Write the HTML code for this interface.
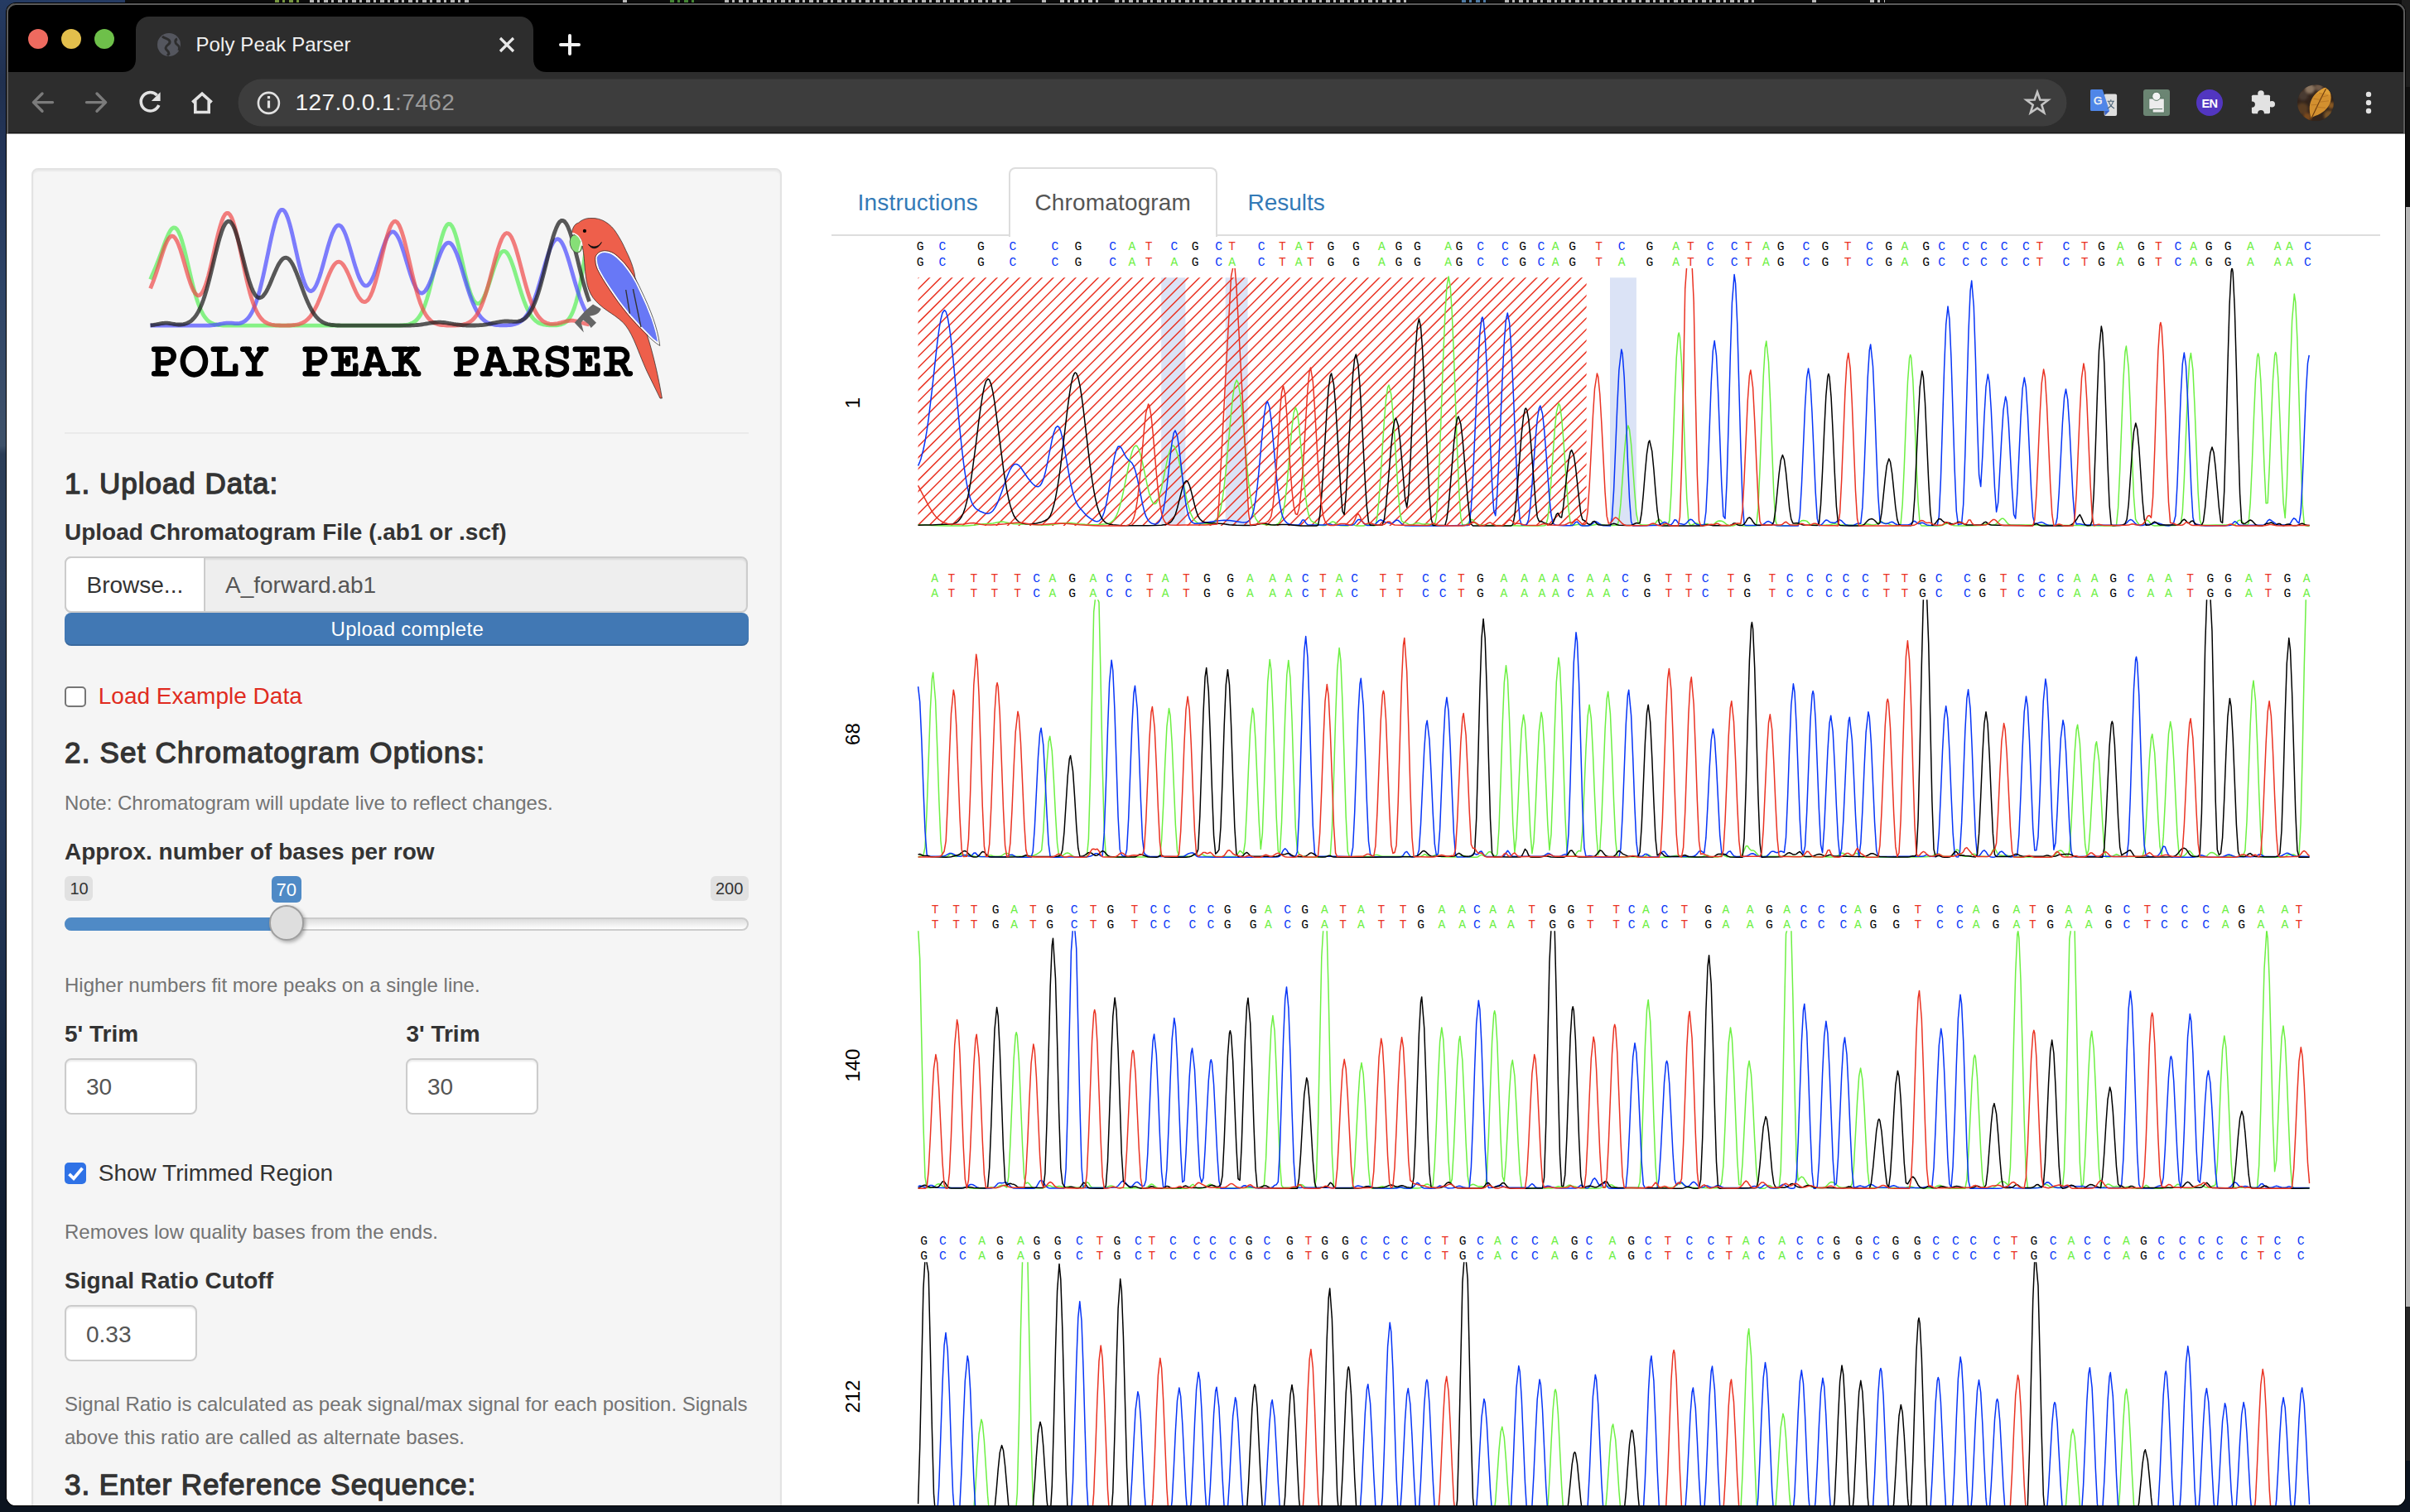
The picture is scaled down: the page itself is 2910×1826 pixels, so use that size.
<!DOCTYPE html>
<html lang="en">
<head>
<meta charset="utf-8">
<title>Poly Peak Parser</title>
<style>
html,body{margin:0;padding:0}
body{width:2910px;height:1826px;overflow:hidden;position:relative;background:#0d1622;font-family:"Liberation Sans",sans-serif;font-size:28px;line-height:40px;color:#333}
div,span{box-sizing:border-box}
.abs{position:absolute}
#desk-l{position:absolute;left:0;top:0;width:160px;height:1826px;background:linear-gradient(to bottom,#253b63 0px,#20304f 100px,#24365a 200px,#2e4466 350px,#3c4f69 500px,#3e5169 538px,#2b3d57 548px,#2d405c 700px,#25395a 1000px,#1c2e4a 1200px,#16263e 1300px,#101c2e 1500px,#0c141f 1826px)}
#desk-t{position:absolute;left:151px;top:0;width:2759px;height:8px;background:#0a0a0a}
#desk-r{position:absolute;left:2900px;top:0;width:10px;height:1826px;background:linear-gradient(to bottom,#1e1e1e 0px,#1e1e1e 105px,#101010 105px,#101010 250px,#b7b7b7 250px,#b7b7b7 1578px,#262626 1578px,#262626 1764px,#0c141f 1764px)}
#desk-b{position:absolute;left:0;top:1810px;width:2910px;height:16px;background:#0c141f}
#win{position:absolute;left:8px;top:4px;width:2896px;height:1814px;border-radius:11px;overflow:hidden;background:#fff;box-shadow:0 0 0 1px #000}
#tabbar{position:absolute;left:0;top:0;width:100%;height:84px;background:#000}
#toolbar{position:absolute;left:0;top:83px;width:100%;height:74px;background:#2d2d2d;border-bottom:1px solid #141414}
#winborder{position:absolute;left:0;top:0;width:2896px;height:157px;border-radius:11px 11px 0 0;border:2px solid #5a5a5a;border-bottom:none;pointer-events:none}
#page{position:absolute;left:0;top:157px;width:2897px;height:1657px;background:#fff;overflow:hidden}
#chroma text{font-family:"Liberation Mono",monospace;font-size:14.6px;text-anchor:middle}
#chroma text.rl{font-family:"Liberation Sans",sans-serif;font-size:24px;fill:#000;text-anchor:middle}

</style>
</head>
<body>
<div id="desk-l"></div><div id="desk-t"></div><div class="abs" style="left:332px;top:0;width:30px;height:3px;background:repeating-linear-gradient(90deg,#8bb04a 0 5px,transparent 5px 9px,#8bb04a 9px 12px,transparent 12px 17px);opacity:.85"></div><div class="abs" style="left:374px;top:0;width:193px;height:3px;background:repeating-linear-gradient(90deg,#d8d8d8 0 5px,transparent 5px 9px,#d8d8d8 9px 12px,transparent 12px 17px);opacity:.85"></div><div class="abs" style="left:752px;top:0;width:8px;height:3px;background:repeating-linear-gradient(90deg,#d8d8d8 0 5px,transparent 5px 9px,#d8d8d8 9px 12px,transparent 12px 17px);opacity:.85"></div><div class="abs" style="left:809px;top:0;width:30px;height:3px;background:repeating-linear-gradient(90deg,#4e9a3c 0 5px,transparent 5px 9px,#4e9a3c 9px 12px,transparent 12px 17px);opacity:.85"></div><div class="abs" style="left:875px;top:0;width:345px;height:3px;background:repeating-linear-gradient(90deg,#d8d8d8 0 5px,transparent 5px 9px,#d8d8d8 9px 12px,transparent 12px 17px);opacity:.85"></div><div class="abs" style="left:1258px;top:0;width:8px;height:3px;background:repeating-linear-gradient(90deg,#d8d8d8 0 5px,transparent 5px 9px,#d8d8d8 9px 12px,transparent 12px 17px);opacity:.85"></div><div class="abs" style="left:1280px;top:0;width:48px;height:3px;background:repeating-linear-gradient(90deg,#e8e8e8 0 5px,transparent 5px 9px,#e8e8e8 9px 12px,transparent 12px 17px);opacity:.85"></div><div class="abs" style="left:1346px;top:0;width:356px;height:3px;background:repeating-linear-gradient(90deg,#d8d8d8 0 5px,transparent 5px 9px,#d8d8d8 9px 12px,transparent 12px 17px);opacity:.85"></div><div class="abs" style="left:1765px;top:0;width:34px;height:3px;background:repeating-linear-gradient(90deg,#5b8fc0 0 5px,transparent 5px 9px,#5b8fc0 9px 12px,transparent 12px 17px);opacity:.85"></div><div class="abs" style="left:1817px;top:0;width:302px;height:3px;background:repeating-linear-gradient(90deg,#d8d8d8 0 5px,transparent 5px 9px,#d8d8d8 9px 12px,transparent 12px 17px);opacity:.85"></div><div class="abs" style="left:2188px;top:0;width:8px;height:3px;background:repeating-linear-gradient(90deg,#d8d8d8 0 5px,transparent 5px 9px,#d8d8d8 9px 12px,transparent 12px 17px);opacity:.85"></div><div class="abs" style="left:2258px;top:0;width:18px;height:3px;background:repeating-linear-gradient(90deg,#e0e0e0 0 5px,transparent 5px 9px,#e0e0e0 9px 12px,transparent 12px 17px);opacity:.85"></div><div id="desk-r"></div><div id="desk-b"></div>

<div id="win">

<div id="tabbar"></div>
<div id="toolbar"></div>
<!-- active tab -->
<svg class="abs" style="left:0;top:0" width="2897" height="160" viewBox="8 4 2897 160">
  <!-- tab shape: x 164..644, top 20, bottom 87 -->
  <path d="M148 87 C158 87 164 81 164 71 L164 36 C164 27 171 20 180 20 L628 20 C637 20 644 27 644 36 L644 71 C644 81 650 87 660 87 Z" fill="#2d2d2d"/>
  <!-- traffic lights -->
  <circle cx="46" cy="47" r="12" fill="#ee6a5f"/>
  <circle cx="86" cy="47" r="12" fill="#e3bf4c"/>
  <circle cx="126" cy="47" r="12" fill="#6ec04a"/>
  <!-- globe favicon -->
  <circle cx="204" cy="54" r="14" fill="#54565e"/>
  <path d="M196 44 c3 3 8 2 9 6 c1 4 -5 4 -5 8 c0 3 4 3 4 7 l-2 2 M214 47 c-3 1 -3 5 0 7 c2 1 3 4 2 7" stroke="#2d2d2d" stroke-width="3" fill="none"/>
  <!-- close x -->
  <path d="M604 46 L620 62 M620 46 L604 62" stroke="#e8e8e8" stroke-width="3.2" fill="none"/>
  <!-- plus -->
  <path d="M677 54 L699 54 M688 43 L688 65" stroke="#f2f2f2" stroke-width="4" stroke-linecap="round" fill="none"/>
  <!-- omnibox -->
  <rect x="287.5" y="95.5" width="2208" height="57" rx="28.5" fill="#3d3d3d"/>
  <!-- back -->
  <path d="M63.5 123.6 L41 123.6 M51 113 L40.4 123.6 L51 134.2" stroke="#7b7b7b" stroke-width="3.4" fill="none" stroke-linecap="round" stroke-linejoin="round"/>
  <!-- forward -->
  <path d="M104.5 123.6 L127 123.6 M117 113 L127.6 123.6 L117 134.2" stroke="#7b7b7b" stroke-width="3.4" fill="none" stroke-linecap="round" stroke-linejoin="round"/>
  <!-- reload -->
  <path d="M189.5 115 A11.2 11.2 0 1 0 191.8 127" stroke="#e2e2e2" stroke-width="3.6" fill="none"/>
  <path d="M193.6 111.2 L193.6 122 L182.8 122 Z" fill="#e2e2e2"/>
  <!-- home -->
  <path d="M232.3 123.6 L244 113.2 L255.7 123.6 M235.8 121.5 L235.8 135.5 L252.2 135.5 L252.2 121.5" stroke="#e2e2e2" stroke-width="3.6" fill="none" stroke-linejoin="miter"/>
  <!-- info -->
  <circle cx="324.4" cy="124.4" r="12.5" stroke="#e2e2e2" stroke-width="2.6" fill="none"/>
  <rect x="322.9" y="121.5" width="3.2" height="9" fill="#e2e2e2"/><rect x="322.9" y="116" width="3.2" height="3.2" fill="#e2e2e2"/>
  <!-- star -->
  <path d="M2460.0 111.1 L2463.3 120.5 L2473.2 120.7 L2465.3 126.7 L2468.2 136.2 L2460.0 130.6 L2451.8 136.2 L2454.7 126.7 L2446.8 120.7 L2456.7 120.5 Z" stroke="#c4c4c4" stroke-width="2.6" fill="none" stroke-linejoin="miter"/>
  <!-- translate icon -->
  <rect x="2540.7" y="113.5" width="15.4" height="26.4" rx="2" fill="#dedede"/>
  <path d="M2541 134 L2547.1 134 L2541.6 139.6 Z" fill="#3a62c4"/>
  <path d="M2525.5 108 L2537.8 108 Q2538.8 108 2539.1 109 L2547.1 134 L2525.5 134 Q2524 134 2524 132.5 L2524 109.5 Q2524 108 2525.5 108 Z" fill="#4f86e8"/>
  <text x="2533.2" y="126" text-anchor="middle" font-family="Liberation Sans, sans-serif" font-size="13.5" fill="#f4f4f4" stroke="#f4f4f4" stroke-width=".5">G</text>
  <path d="M2544.6 122.2 H2553 M2548.8 120.3 V122.2 M2551.6 122.2 C2550.8 126 2548 129.3 2544.8 131 M2546.2 122.2 C2547 126 2549.8 129.3 2553 131" stroke="#4c6579" stroke-width="1.1" fill="none"/>
  <!-- green doc icon -->
  <rect x="2588" y="108" width="32" height="32" rx="3" fill="#6b8573"/>
  <path d="M2594.8 119 H2613.3 V136 H2599.1 V132 H2594.8 Z" fill="#ececec" stroke="#4a6a55" stroke-width=".8"/>
  <path d="M2599.1 131.6 H2611" stroke="#5d7a66" stroke-width="1" fill="none"/>
  <circle cx="2603.8" cy="116.3" r="5.1" fill="#f2f2f2" stroke="#4a6a55" stroke-width=".9"/>
  <!-- EN -->
  <circle cx="2668" cy="124" r="16" fill="#5236c0"/>
  <text x="2668" y="129.6" text-anchor="middle" font-family="Liberation Sans, sans-serif" font-weight="bold" font-size="14.6" letter-spacing="-0.6" fill="#fff">EN</text>
  <!-- puzzle -->
  <rect x="2718.9" y="114.7" width="22.1" height="22.5" rx="1.6" fill="#e2e2e2"/>
  <circle cx="2730" cy="113" r="3.8" fill="#e2e2e2"/>
  <circle cx="2743.2" cy="125.8" r="3.8" fill="#e2e2e2"/>
  <circle cx="2719.2" cy="126.1" r="3.7" fill="#2d2d2d"/>
  <circle cx="2730" cy="136.8" r="3.9" fill="#2d2d2d"/>
  <!-- avatar -->
  <clipPath id="avc"><circle cx="2796" cy="125" r="22"/></clipPath><filter id="avb"><feGaussianBlur stdDeviation="1.6"/></filter>
  <g clip-path="url(#avc)" transform="translate(0 -0.7)">
    <rect x="2774" y="103" width="44" height="44" fill="#33241b"/>
    <g filter="url(#avb)"><circle cx="2789" cy="108" r="6" fill="#8a7560"/><circle cx="2800" cy="106" r="5" fill="#6f5a48"/><circle cx="2781" cy="116" r="6" fill="#4a3a30"/>
    <circle cx="2780" cy="132" r="7" fill="#5a3c22"/><circle cx="2786" cy="142" r="5" fill="#7a4a1c"/><circle cx="2812" cy="140" r="6" fill="#7a5426"/><circle cx="2815" cy="128" r="4" fill="#8a5a20"/></g>
    <path d="M2790.8 143.3 C2786.5 132 2789 121 2796 114 C2800 110 2805 107 2809.6 106 C2814.5 111 2816 118 2813.5 125 C2811 132 2804 138 2796 140.5 C2794 141.3 2792.3 142.3 2790.8 143.3 Z" fill="#d3902f"/>
    <path d="M2796 114 C2800 110 2805 107 2809.6 106 C2812 109 2813.6 112 2814.3 115.5 C2808 113 2801 113 2796 114 Z" fill="#e2a23a" opacity=".8"/>
    <path d="M2808.5 108 C2803 118 2797.5 130 2790.5 144.5" stroke="#6e3d10" stroke-width="1.2" fill="none"/>
    <path d="M2803 118 L2811 116 M2800 124 L2812 122.5 M2797 130 L2808 131 M2805 114 L2800 113 M2801.5 121 L2793.5 120 M2798.5 127 L2790.5 127.5" stroke="#a8661c" stroke-width=".7" fill="none" opacity=".8"/>
  </g>
  <!-- menu dots -->
  <circle cx="2860" cy="113.9" r="3.2" fill="#e2e2e2"/><circle cx="2860" cy="124" r="3.2" fill="#e2e2e2"/><circle cx="2860" cy="134" r="3.2" fill="#e2e2e2"/>
</svg>
<div class="abs" style="left:228.5px;top:37.7px;font:24px/24px 'Liberation Sans',sans-serif;color:#f1f1f1;white-space:nowrap;letter-spacing:0.1px">Poly Peak Parser</div>
<div class="abs" style="left:348.5px;top:106.3px;font:28px/28px 'Liberation Sans',sans-serif;color:#f4f4f4;white-space:nowrap;letter-spacing:0.42px">127.0.0.1<span style="color:#9b9b9b">:7462</span></div>
<div id="winborder"></div>

<div id="page">
<div id="pagetop" style="position:absolute;left:0;top:0;width:100%;height:1px;background:#8f8f8f"></div>
<div class="abs" style="left:30.0px;top:41.5px;width:906.0px;height:1697.5px;background:#f5f5f5;border:2px solid #e3e3e3;border-radius:8px;box-shadow:inset 0 2px 2px rgba(0,0,0,.05)"></div>
<svg id="logo" class="abs" style="left:152px;top:69px" width="700" height="300" viewBox="160 230 700 300">
<defs><filter id="lb" x="-5%" y="-5%" width="110%" height="110%"><feGaussianBlur stdDeviation="0.7"/></filter></defs>
<g fill="none" stroke-width="4.8" stroke-linecap="butt" stroke-linejoin="round" filter="url(#lb)">
<path d="M181.6 337.4L183.6 332.8L185.6 328.1L187.6 323.4L189.6 318.5L191.6 313.3L193.6 308.0L195.6 302.6L197.6 297.1L199.6 291.7L201.6 286.7L203.6 282.2L205.6 278.6L207.6 276.1L209.6 274.9L211.6 275.1L213.6 276.8L215.6 280.0L217.6 284.6L219.6 290.6L221.6 297.6L223.6 305.4L225.6 313.7L227.6 322.4L229.6 331.0L231.6 339.4L233.6 347.3L235.6 354.7L237.6 361.3L239.6 367.2L241.6 372.4L243.6 376.7L245.6 380.4L247.6 383.3L249.6 385.8L251.6 387.7L253.6 389.1L255.6 390.3L257.6 391.1L259.6 391.7L261.6 392.2L263.6 392.5L265.6 392.7L267.6 392.9L269.6 393.0L271.6 393.1L273.6 393.1L275.6 393.2L277.6 393.2L279.6 393.2L281.6 393.2L283.6 393.2L285.6 393.2L287.6 393.2L289.6 393.2L291.6 393.2L293.6 393.2L295.6 393.2L297.6 393.2L299.6 393.2L301.6 393.2L303.6 393.2L305.6 393.2L307.6 393.2L309.6 393.2L311.6 393.2L313.6 393.2L315.6 393.2L317.6 393.2L319.6 393.2L321.6 393.2L323.6 393.2L325.6 393.2L327.6 393.2L329.6 393.2L331.6 393.2L333.6 393.2L335.6 393.2L337.6 393.2L339.6 393.2L341.6 393.2L343.6 393.2L345.6 393.2L347.6 393.2L349.6 393.2L351.6 393.2L353.6 393.2L355.6 393.2L357.6 393.2L359.6 393.2L361.6 393.2L363.6 393.2L365.6 393.2L367.6 393.2L369.6 393.2L371.6 393.2L373.6 393.2L375.6 393.2L377.6 393.2L379.6 393.2L381.6 393.2L383.6 393.2L385.6 393.2L387.6 393.2L389.6 393.2L391.6 393.2L393.6 393.2L395.6 393.2L397.6 393.2L399.6 393.2L401.6 393.2L403.6 393.2L405.6 393.2L407.6 393.2L409.6 393.2L411.6 393.2L413.6 393.2L415.6 393.2L417.6 393.2L419.6 393.2L421.6 393.2L423.6 393.2L425.6 393.2L427.6 393.2L429.6 393.2L431.6 393.2L433.6 393.2L435.6 393.2L437.6 393.2L439.6 393.2L441.6 393.2L443.6 393.2L445.6 393.2L447.6 393.2L449.6 393.2L451.6 393.2L453.6 393.2L455.6 393.2L457.6 393.2L459.6 393.2L461.6 393.2L463.6 393.2L465.6 393.2L467.6 393.2L469.6 393.2L471.6 393.2L473.6 393.2L475.6 393.2L477.6 393.2L479.6 393.1L481.6 393.1L483.6 393.0L485.6 392.9L487.6 392.7L489.6 392.5L491.6 392.2L493.6 391.8L495.6 391.1L497.6 390.3L499.6 389.2L501.6 387.7L503.6 385.7L505.6 383.3L507.6 380.3L509.6 376.6L511.6 372.1L513.6 366.8L515.6 360.7L517.6 353.8L519.6 346.2L521.6 337.9L523.6 329.1L525.6 320.0L527.6 310.8L529.6 302.0L531.6 293.6L533.6 286.2L535.6 279.9L537.6 275.0L539.6 271.7L541.6 270.3L543.6 270.6L545.6 272.8L547.6 276.7L549.6 282.1L551.6 288.8L553.6 296.6L555.6 305.0L557.6 313.8L559.6 322.6L561.6 331.2L563.6 339.2L565.6 346.5L567.6 352.8L569.6 358.0L571.6 362.1L573.6 364.9L575.6 366.4L577.6 366.6L579.6 365.7L581.6 363.5L583.6 360.3L585.6 356.1L587.6 351.1L589.6 345.5L591.6 339.4L593.6 333.1L595.6 326.8L597.6 320.9L599.6 315.4L601.6 310.8L603.6 307.1L605.6 304.5L607.6 303.3L609.6 303.4L611.6 304.8L613.6 307.5L615.6 311.3L617.6 316.2L619.6 321.8L621.6 328.0L623.6 334.6L625.6 341.3L627.6 347.9L629.6 354.3L631.6 360.2L633.6 365.7L635.6 370.6L637.6 374.9L639.6 378.6L641.6 381.7L643.6 384.3L645.6 386.4L647.6 388.1L649.6 389.5L651.6 390.5L653.6 391.2L655.6 391.8L657.6 392.2L659.6 392.5L661.6 392.7L663.6 392.9L665.6 392.9L667.6 392.9L669.6 392.9L671.6 392.8L673.6 392.6L675.6 392.2L677.6 391.8L679.6 391.1L681.6 390.1L683.6 388.7L685.6 386.8L687.6 384.3L689.6 380.9L691.6 376.7L693.6 371.4L695.6 364.9L697.6 357.1L699.6 347.9L701.6 337.5L703.6 325.8L705.6 313.1L707.6 299.7L709.6 286.0L711.6 272.4" stroke="#5cf05c" stroke-opacity=".72"/>
<path d="M181.6 393.2L183.6 393.2L185.6 393.2L187.6 393.2L189.6 393.2L191.6 393.2L193.6 393.2L195.6 393.2L197.6 393.2L199.6 393.2L201.6 393.2L203.6 393.2L205.6 393.2L207.6 393.2L209.6 393.2L211.6 393.2L213.6 393.2L215.6 393.2L217.6 393.2L219.6 393.2L221.6 393.2L223.6 393.2L225.6 393.2L227.6 393.2L229.6 393.2L231.6 393.2L233.6 393.2L235.6 393.2L237.6 393.2L239.6 393.2L241.6 393.2L243.6 393.2L245.6 393.2L247.6 393.2L249.6 393.1L251.6 393.1L253.6 393.0L255.6 392.9L257.6 392.7L259.6 392.5L261.6 392.2L263.6 391.8L265.6 391.4L267.6 391.0L269.6 390.7L271.6 390.3L273.6 390.1L275.6 390.1L277.6 390.1L279.6 390.2L281.6 390.4L283.6 390.6L285.6 390.7L287.6 390.6L289.6 390.4L291.6 389.9L293.6 389.0L295.6 387.8L297.6 386.2L299.6 384.1L301.6 381.5L303.6 378.2L305.6 374.2L307.6 369.5L309.6 364.0L311.6 357.7L313.6 350.6L315.6 342.7L317.6 334.2L319.6 325.1L321.6 315.5L323.6 305.9L325.6 296.2L327.6 287.0L329.6 278.3L331.6 270.5L333.6 263.9L335.6 258.8L337.6 255.2L339.6 253.3L341.6 253.3L343.6 255.0L345.6 258.5L347.6 263.5L349.6 269.9L351.6 277.4L353.6 285.8L355.6 294.6L357.6 303.6L359.6 312.5L361.6 320.9L363.6 328.7L365.6 335.6L367.6 341.4L369.6 346.0L371.6 349.2L373.6 351.1L375.6 351.6L377.6 350.6L379.6 348.4L381.6 344.9L383.6 340.3L385.6 334.7L387.6 328.4L389.6 321.5L391.6 314.2L393.6 306.8L395.6 299.5L397.6 292.7L399.6 286.5L401.6 281.2L403.6 276.9L405.6 273.9L407.6 272.2L409.6 272.0L411.6 273.1L413.6 275.6L415.6 279.4L417.6 284.2L419.6 289.9L421.6 296.4L423.6 303.2L425.6 310.2L427.6 317.1L429.6 323.6L431.6 329.6L433.6 334.9L435.6 339.1L437.6 342.3L439.6 344.4L441.6 345.2L443.6 344.8L445.6 343.2L447.6 340.4L449.6 336.6L451.6 331.9L453.6 326.5L455.6 320.5L457.6 314.3L459.6 307.9L461.6 301.8L463.6 296.0L465.6 290.8L467.6 286.5L469.6 283.1L471.6 280.9L473.6 280.0L475.6 280.2L477.6 281.8L479.6 284.6L481.6 288.4L483.6 293.2L485.6 298.9L487.6 305.1L489.6 311.6L491.6 318.3L493.6 324.9L495.6 331.3L497.6 337.1L499.6 342.3L501.6 346.6L503.6 350.1L505.6 352.5L507.6 353.8L509.6 354.0L511.6 353.1L513.6 351.1L515.6 348.2L517.6 344.4L519.6 339.8L521.6 334.6L523.6 329.0L525.6 323.2L527.6 317.4L529.6 311.8L531.6 306.6L533.6 302.0L535.6 298.2L537.6 295.4L539.6 293.6L541.6 293.1L543.6 293.6L545.6 295.4L547.6 298.3L549.6 302.2L551.6 306.9L553.6 312.4L555.6 318.5L557.6 324.9L559.6 331.5L561.6 338.2L563.6 344.7L565.6 351.0L567.6 356.9L569.6 362.3L571.6 367.3L573.6 371.7L575.6 375.6L577.6 378.9L579.6 381.8L581.6 384.2L583.6 386.1L585.6 387.7L587.6 389.0L589.6 390.1L591.6 390.9L593.6 391.5L595.6 391.9L597.6 392.3L599.6 392.5L601.6 392.7L603.6 392.8L605.6 392.9L607.6 392.9L609.6 392.9L611.6 392.8L613.6 392.7L615.6 392.5L617.6 392.3L619.6 391.9L621.6 391.4L623.6 390.8L625.6 390.0L627.6 388.9L629.6 387.6L631.6 385.9L633.6 383.8L635.6 381.3L637.6 378.2L639.6 374.7L641.6 370.6L643.6 365.9L645.6 360.6L647.6 354.9L649.6 348.6L651.6 341.9L653.6 335.0L655.6 328.0L657.6 321.0L659.6 314.2L661.6 307.9L663.6 302.2L665.6 297.3L667.6 293.4L669.6 290.6L671.6 289.0L673.6 288.6L675.6 289.6L677.6 291.8L679.6 295.2L681.6 299.6L683.6 305.0L685.6 311.0L687.6 317.6L689.6 324.5L691.6 331.5L693.6 338.5L695.6 345.3L697.6 351.8L699.6 357.8L701.6 363.3L703.6 368.3L705.6 372.7L707.6 376.5L709.6 379.8" stroke="#4848ff" stroke-opacity=".7"/>
<path d="M181.6 348.3L183.6 343.5L185.6 338.3L187.6 332.7L189.6 326.8L191.6 320.5L193.6 314.0L195.6 307.7L197.6 301.6L199.6 296.2L201.6 291.6L203.6 288.1L205.6 285.9L207.6 285.0L209.6 285.6L211.6 287.7L213.6 291.0L215.6 295.6L217.6 301.1L219.6 307.5L221.6 314.3L223.6 321.3L225.6 328.3L227.6 335.0L229.6 341.1L231.6 346.5L233.6 350.9L235.6 354.1L237.6 356.2L239.6 356.9L241.6 356.2L243.6 354.1L245.6 350.7L247.6 346.0L249.6 340.1L251.6 333.1L253.6 325.2L255.6 316.7L257.6 307.8L259.6 298.8L261.6 289.9L263.6 281.6L265.6 274.1L267.6 267.7L269.6 262.6L271.6 259.1L273.6 257.4L275.6 257.4L277.6 259.2L279.6 262.7L281.6 267.9L283.6 274.4L285.6 282.1L287.6 290.7L289.6 299.8L291.6 309.3L293.6 318.8L295.6 328.1L297.6 337.0L299.6 345.3L301.6 353.0L303.6 359.8L305.6 365.9L307.6 371.1L309.6 375.6L311.6 379.4L313.6 382.5L315.6 385.0L317.6 387.0L319.6 388.6L321.6 389.8L323.6 390.7L325.6 391.4L327.6 392.0L329.6 392.3L331.6 392.6L333.6 392.8L335.6 392.9L337.6 393.0L339.6 393.1L341.6 393.1L343.6 393.1L345.6 393.1L347.6 393.0L349.6 393.0L351.6 392.9L353.6 392.7L355.6 392.5L357.6 392.2L359.6 391.8L361.6 391.3L363.6 390.6L365.6 389.7L367.6 388.6L369.6 387.2L371.6 385.5L373.6 383.4L375.6 380.9L377.6 377.9L379.6 374.5L381.6 370.7L383.6 366.4L385.6 361.8L387.6 356.8L389.6 351.6L391.6 346.2L393.6 340.9L395.6 335.7L397.6 330.8L399.6 326.4L401.6 322.7L403.6 319.7L405.6 317.5L407.6 316.4L409.6 316.2L411.6 317.0L413.6 318.8L415.6 321.5L417.6 324.9L419.6 328.9L421.6 333.4L423.6 338.2L425.6 343.0L427.6 347.8L429.6 352.2L431.6 356.2L433.6 359.6L435.6 362.1L437.6 363.9L439.6 364.6L441.6 364.3L443.6 362.9L445.6 360.4L447.6 356.8L449.6 352.1L451.6 346.4L453.6 339.7L455.6 332.4L457.6 324.4L459.6 316.1L461.6 307.7L463.6 299.4L465.6 291.5L467.6 284.4L469.6 278.2L471.6 273.2L473.6 269.6L475.6 267.6L477.6 267.2L479.6 268.5L481.6 271.3L483.6 275.7L485.6 281.4L487.6 288.2L489.6 295.9L491.6 304.2L493.6 312.8L495.6 321.6L497.6 330.3L499.6 338.6L501.6 346.4L503.6 353.7L505.6 360.3L507.6 366.1L509.6 371.2L511.6 375.6L513.6 379.2L515.6 382.3L517.6 384.8L519.6 386.8L521.6 388.4L523.6 389.7L525.6 390.6L527.6 391.3L529.6 391.9L531.6 392.3L533.6 392.5L535.6 392.7L537.6 392.9L539.6 393.0L541.6 393.0L543.6 393.1L545.6 393.1L547.6 393.0L549.6 393.0L551.6 392.9L553.6 392.8L555.6 392.6L557.6 392.3L559.6 391.9L561.6 391.4L563.6 390.7L565.6 389.8L567.6 388.7L569.6 387.2L571.6 385.4L573.6 383.1L575.6 380.3L577.6 377.0L579.6 373.1L581.6 368.5L583.6 363.3L585.6 357.5L587.6 351.1L589.6 344.2L591.6 336.8L593.6 329.2L595.6 321.5L597.6 313.9L599.6 306.7L601.6 299.9L603.6 294.0L605.6 289.0L607.6 285.2L609.6 282.6L611.6 281.5L613.6 281.8L615.6 283.5L617.6 286.5L619.6 290.9L621.6 296.3L623.6 302.6L625.6 309.5L627.6 317.0L629.6 324.6L631.6 332.3L633.6 339.8L635.6 347.0L637.6 353.7L639.6 359.9L641.6 365.5L643.6 370.4L645.6 374.7L647.6 378.4L649.6 381.5L651.6 384.0L653.6 386.1L655.6 387.8L657.6 389.0L659.6 390.0L661.6 390.7L663.6 391.1L665.6 391.3L667.6 391.4L669.6 391.2L671.6 391.0L673.6 390.6L675.6 390.1L677.6 389.6L679.6 389.0L681.6 388.5L683.6 388.0L685.6 387.6L687.6 387.3L689.6 387.2L691.6 387.2L693.6 387.5L695.6 387.8L697.6 388.3L699.6 388.8L701.6 389.4L703.6 390.0L705.6 390.6L707.6 391.2L709.6 391.6L711.6 392.0" stroke="#f04848" stroke-opacity=".7"/>
<path d="M181.6 392.8L183.6 392.6L185.6 392.4L187.6 392.0L189.6 391.7L191.6 391.3L193.6 390.9L195.6 390.5L197.6 390.3L199.6 390.2L201.6 390.2L203.6 390.4L205.6 390.7L207.6 391.0L209.6 391.3L211.6 391.7L213.6 391.9L215.6 392.0L217.6 392.0L219.6 391.9L221.6 391.6L223.6 391.1L225.6 390.4L227.6 389.5L229.6 388.3L231.6 386.8L233.6 384.8L235.6 382.5L237.6 379.6L239.6 376.1L241.6 372.1L243.6 367.4L245.6 362.0L247.6 355.9L249.6 349.2L251.6 341.9L253.6 334.1L255.6 326.0L257.6 317.6L259.6 309.2L261.6 301.1L263.6 293.3L265.6 286.2L267.6 279.9L269.6 274.7L271.6 270.8L273.6 268.3L275.6 267.2L277.6 267.6L279.6 269.5L281.6 272.8L283.6 277.4L285.6 283.2L287.6 289.8L289.6 297.1L291.6 304.8L293.6 312.7L295.6 320.6L297.6 328.1L299.6 335.2L301.6 341.6L303.6 347.1L305.6 351.8L307.6 355.4L309.6 357.9L311.6 359.4L313.6 359.8L315.6 359.1L317.6 357.6L319.6 355.1L321.6 351.9L323.6 348.0L325.6 343.7L327.6 339.0L329.6 334.2L331.6 329.5L333.6 325.0L335.6 320.8L337.6 317.3L339.6 314.5L341.6 312.4L343.6 311.3L345.6 311.2L347.6 312.0L349.6 313.7L351.6 316.4L353.6 319.8L355.6 324.0L357.6 328.7L359.6 333.8L361.6 339.1L363.6 344.6L365.6 350.0L367.6 355.3L369.6 360.3L371.6 365.0L373.6 369.3L375.6 373.2L377.6 376.7L379.6 379.7L381.6 382.3L383.6 384.5L385.6 386.4L387.6 387.9L389.6 389.1L391.6 390.1L393.6 390.9L395.6 391.5L397.6 391.9L399.6 392.3L401.6 392.5L403.6 392.7L405.6 392.9L407.6 393.0L409.6 393.0L411.6 393.1L413.6 393.1L415.6 393.2L417.6 393.2L419.6 393.2L421.6 393.2L423.6 393.2L425.6 393.2L427.6 393.2L429.6 393.2L431.6 393.2L433.6 393.2L435.6 393.2L437.6 393.2L439.6 393.2L441.6 393.2L443.6 393.2L445.6 393.2L447.6 393.2L449.6 393.2L451.6 393.2L453.6 393.2L455.6 393.2L457.6 393.2L459.6 393.2L461.6 393.2L463.6 393.2L465.6 393.2L467.6 393.2L469.6 393.2L471.6 393.2L473.6 393.2L475.6 393.2L477.6 393.2L479.6 393.2L481.6 393.2L483.6 393.2L485.6 393.2L487.6 393.2L489.6 393.1L491.6 393.1L493.6 393.1L495.6 393.0L497.6 392.9L499.6 392.8L501.6 392.7L503.6 392.5L505.6 392.3L507.6 392.1L509.6 391.8L511.6 391.5L513.6 391.2L515.6 390.8L517.6 390.5L519.6 390.2L521.6 389.9L523.6 389.6L525.6 389.4L527.6 389.3L529.6 389.2L531.6 389.2L533.6 389.3L535.6 389.5L537.6 389.7L539.6 390.0L541.6 390.4L543.6 390.7L545.6 391.0L547.6 391.4L549.6 391.7L551.6 392.0L553.6 392.2L555.6 392.4L557.6 392.6L559.6 392.8L561.6 392.9L563.6 393.0L565.6 393.0L567.6 393.0L569.6 393.0L571.6 393.0L573.6 393.0L575.6 392.9L577.6 392.8L579.6 392.7L581.6 392.6L583.6 392.4L585.6 392.1L587.6 391.8L589.6 391.5L591.6 391.1L593.6 390.7L595.6 390.2L597.6 389.8L599.6 389.4L601.6 389.0L603.6 388.6L605.6 388.4L607.6 388.2L609.6 388.0L611.6 388.0L613.6 388.0L615.6 388.1L617.6 388.2L619.6 388.3L621.6 388.3L623.6 388.3L625.6 388.1L627.6 387.7L629.6 387.0L631.6 386.0L633.6 384.7L635.6 382.9L637.6 380.7L639.6 377.9L641.6 374.5L643.6 370.5L645.6 365.9L647.6 360.7L649.6 354.7L651.6 348.2L653.6 341.2L655.6 333.7L657.6 325.8L659.6 317.8L661.6 309.7L663.6 301.8L665.6 294.2L667.6 287.1L669.6 280.8L671.6 275.5L673.6 271.2L675.6 268.2L677.6 266.5L679.6 266.3L681.6 267.4L683.6 269.9L685.6 273.6L687.6 278.6L689.6 284.5L691.6 291.3L693.6 298.7L695.6 306.5L697.6 314.5L699.6 322.6L701.6 330.6L703.6 338.3L705.6 345.5L707.6 352.3L709.6 358.5L711.6 364.1" stroke="#202020" stroke-opacity=".75"/>
</g>
<g fill="none" stroke="#000" stroke-width="6.5" stroke-linecap="round" stroke-linejoin="round">
<path transform="translate(181.70 421.8)" d="M4.4 0H19.5A8.5 8.2 0 0 1 19.5 16.4H9.2M9.2 0V29.4M4.4 29.4H19"/>
<path transform="translate(218.20 421.8)" d="M16.2 -1.2C24 -1.2 29.8 5.5 29.8 14.7C29.8 23.9 24 30.6 16.2 30.6C8.4 30.6 2.6 23.9 2.6 14.7C2.6 5.5 8.4 -1.2 16.2 -1.2Z"/>
<path transform="translate(254.70 421.8)" d="M3 0H17.5M10.5 0V29.4M3 29.4H29.5V20.5"/>
<path transform="translate(291.20 421.8)" d="M2 0H9.5M22 0H30M5.8 0L16 15.2L26.2 0M16 15.2V29.4M8.6 29.4H23.4"/>
<path transform="translate(364.20 421.8)" d="M4.4 0H19.5A8.5 8.2 0 0 1 19.5 16.4H9.2M9.2 0V29.4M4.4 29.4H19"/>
<path transform="translate(400.70 421.8)" d="M2 0H27.8V8.5M11 0V29.4M11 14H19.3M19.3 10.3V17.8M2 29.4H28.6V19.8"/>
<path transform="translate(437.20 421.8)" d="M-0.4 29.4H8.4M22.8 29.4H31.7M4.2 29.4L12.6 0M27.4 29.4L16.6 0M8.2 0H16.6M8.6 18.6H23.2"/>
<path transform="translate(473.70 421.8)" d="M2.3 0H17M2.3 29.4H17M10.7 0V29.4M21 0H30M26 0L10.7 17.5M15.8 12.6C22 16 26 22 28.6 29.4M26.3 29.4H31.5"/>
<path transform="translate(546.70 421.8)" d="M4.4 0H19.5A8.5 8.2 0 0 1 19.5 16.4H9.2M9.2 0V29.4M4.4 29.4H19"/>
<path transform="translate(583.20 421.8)" d="M-0.4 29.4H8.4M22.8 29.4H31.7M4.2 29.4L12.6 0M27.4 29.4L16.6 0M8.2 0H16.6M8.6 18.6H23.2"/>
<path transform="translate(619.70 421.8)" d="M2.7 0H19.5A8.4 7.8 0 0 1 19.5 15.6H9.8M9.8 0V29.4M2.7 29.4H17M18.5 15.6C23 17 25 23 27.6 29.4H31.8"/>
<path transform="translate(656.20 421.8)" d="M27.3 -1V8.5M27.3 4.5C24 0.5 20 -1.3 16 -1.3C10 -1.3 5.8 2 5.8 6.8C5.8 11.5 10 13.3 16.5 14.5C23.5 15.8 27.8 17.8 27.8 22.6C27.8 27.5 23 30.7 16.5 30.7C12 30.7 8 29 5.8 25.5M5.8 21V30.4"/>
<path transform="translate(692.70 421.8)" d="M2 0H27.8V8.5M11 0V29.4M11 14H19.3M19.3 10.3V17.8M2 29.4H28.6V19.8"/>
<path transform="translate(729.20 421.8)" d="M2.7 0H19.5A8.4 7.8 0 0 1 19.5 15.6H9.8M9.8 0V29.4M2.7 29.4H17M18.5 15.6C23 17 25 23 27.6 29.4H31.8"/>
</g>
<path d="M716 367.5 L725.6 373 C724.5 378 719 381 712 381.7 L720 389.7 L713.7 396 L710.5 391.3 L704.1 386.5 L701.7 389.7 L704.9 401.6 L693.8 389.7 L706.5 375.4 Z" fill="#666"/>
<path d="M690.6 280.2 C692 273 695 270 698.6 269 C703 265 708 263.5 712.9 263.5 C720 263 726 265 730.3 267.5 C737 271.5 741 276 744.6 281.7 C749 288.5 753 296 755.7 302.4 C759.5 310 762 316 763.7 321.4 C765.5 327 766.5 331 766.8 334.9 L774 356 L790 392 L780 400 C789 428 795 455 799.4 481 L797 481 C792 470 786 459 781.1 448.4 C775 435 770 421 765.2 410.3 C761.5 402 757.5 395 752.5 389.7 C746 383.5 739.5 379.5 733.5 375.4 C727 371 720.5 365.5 716 359.5 C711.5 353 709.3 346 708.1 338.9 C706.8 331 706.2 324 705.7 316.7 C705.3 311.5 704.8 306.5 704.1 302.4 C703.5 298.5 702.8 295.5 701.7 292.9 Z" fill="#ee5f4b" stroke="#222" stroke-width=".7"/>
<path d="M720 310.3 C722 306 726 304 730.3 304 C735.5 304 740.5 306.5 744.6 310.3 C750 315 755 320.5 758.9 326.2 C764.5 334 769.5 343 773.2 351.6 C778.5 362.5 783.5 374 787.5 384.9 C791 395 793.8 405 795.4 415.1 C790.5 412 785.5 407.5 781.1 402.4 C773 394.5 765.5 386.5 758.9 378.6 C750.5 368.5 743 358 736.7 348.4 C731 340 726 332 722.4 324.6 C720.3 319.5 719.5 315 720 310.3 Z" fill="#6878f6" stroke="#fff" stroke-width="1.8" paint-order="fill"/>
<path d="M719 310 C721 305 726 302.6 730.5 302.8 C736 302.8 741.5 305.5 745.6 309.3 C751 314 756 319.5 760 325.4 C765.5 333.3 770.5 342 774.4 351 C779.7 362 784.7 373.5 788.6 384.4 C792.2 394.6 795.2 405.5 796.8 417.5 C791 414 785 408.7 780.2 403.4 C772 395.5 764.5 387.5 757.9 379.6 C749.5 369.5 742 359 735.6 349.2 C730 340.7 725 332.7 721.3 325.2 C719 320 718.3 315 719 310 Z" fill="none" stroke="#222" stroke-width=".7"/>
<path d="M755.7 350 L760.5 378.6 M764.4 349.2 L774 395.2" stroke="#333" stroke-width="1.4" fill="none"/>
<ellipse cx="695.6" cy="294.4" rx="7.2" ry="11" transform="rotate(-14 695.6 294.4)" fill="#86df77" stroke="#333" stroke-width=".7"/>
<path d="M691 281.5 C698 283 702.5 289 703 297 M699 303 L702 292" stroke="#fff" stroke-width="1.3" fill="none"/>
<circle cx="705.9" cy="278.9" r="2.1" fill="#000"/>
<path d="M710.5 295 C714 301.5 722 302 726.3 292.5 C722.5 299 715 299.5 710.5 295 Z" fill="#111" stroke="#111" stroke-width=".8"/>
</svg>
<div class="abs" style="left:70.0px;top:361.0px;width:826.0px;height:2.0px;background:#eaeaea"></div>
<div class="abs" style="left:70.0px;top:404.9px;font:normal 35px/35px 'Liberation Sans',sans-serif;color:#333;white-space:nowrap;letter-spacing:1.0px;-webkit-text-stroke:1.35px #333">1. Upload Data:</div>
<div class="abs" style="left:70.0px;top:468.3px;font:bold 28px/28px 'Liberation Sans',sans-serif;color:#333;white-space:nowrap;">Upload Chromatogram File (.ab1 or .scf)</div>
<div class="abs" style="left:70.0px;top:511.0px;width:825.0px;height:67.5px;background:#eee;border:2px solid #ccc;border-radius:8px;box-shadow:inset 0 2px 2px rgba(0,0,0,.075)"></div>
<div class="abs" style="left:70.0px;top:511.0px;width:170.0px;height:67.5px;background:#fff;border:2px solid #ccc;border-radius:8px 0 0 8px"></div>
<div class="abs" style="left:96.5px;top:531.8px;font:normal 28px/28px 'Liberation Sans',sans-serif;color:#333;white-space:nowrap;">Browse...</div>
<div class="abs" style="left:264.0px;top:531.8px;font:normal 28px/28px 'Liberation Sans',sans-serif;color:#555;white-space:nowrap;">A_forward.ab1</div>
<div class="abs" style="left:70.0px;top:579.0px;width:826.0px;height:40.0px;background:#4178b4;border-radius:8px;box-shadow:inset 0 -2px 0 rgba(0,0,0,.12)"></div>
<div class="abs" style="left:391.5px;top:587.3px;font:normal 24px/24px 'Liberation Sans',sans-serif;color:#fff;white-space:nowrap;letter-spacing:0.3px">Upload complete</div>
<div class="abs" style="left:70.0px;top:667.5px;width:26.0px;height:25.5px;background:#fff;border:2px solid #767676;border-radius:5px"></div>
<div class="abs" style="left:110.8px;top:665.6px;font:normal 28px/28px 'Liberation Sans',sans-serif;color:#e02b20;white-space:nowrap;">Load Example Data</div>
<div class="abs" style="left:70.0px;top:729.7px;font:normal 35px/35px 'Liberation Sans',sans-serif;color:#333;white-space:nowrap;letter-spacing:1.2px;-webkit-text-stroke:1.35px #333">2. Set Chromatogram Options:</div>
<div class="abs" style="left:70.0px;top:796.9px;font:normal 24px/24px 'Liberation Sans',sans-serif;color:#737373;white-space:nowrap;">Note: Chromatogram will update live to reflect changes.</div>
<div class="abs" style="left:70.0px;top:853.6px;font:bold 28px/28px 'Liberation Sans',sans-serif;color:#333;white-space:nowrap;">Approx. number of bases per row</div>
<div class="abs" style="left:70.0px;top:896.8px;width:34.0px;height:29.9px;background:#e1e1e1;border-radius:6px"></div>
<div class="abs" style="left:76.5px;top:901.7px;font:normal 20px/20px 'Liberation Sans',sans-serif;color:#333;white-space:nowrap;">10</div>
<div class="abs" style="left:850.0px;top:896.8px;width:46.0px;height:29.9px;background:#e1e1e1;border-radius:6px"></div>
<div class="abs" style="left:856.0px;top:901.7px;font:normal 20px/20px 'Liberation Sans',sans-serif;color:#333;white-space:nowrap;">200</div>
<div class="abs" style="left:320.0px;top:897.0px;width:36.0px;height:32.0px;background:#4f8ac6;border-radius:6px"></div>
<div class="abs" style="left:325.5px;top:903.4px;font:normal 22px/22px 'Liberation Sans',sans-serif;color:#fff;white-space:nowrap;">70</div>
<div class="abs" style="left:70.0px;top:947.0px;width:826.0px;height:16.0px;background:linear-gradient(#ddd,#fff);border:2px solid #ccc;border-radius:8px"></div>
<div class="abs" style="left:70.0px;top:947.0px;width:268.0px;height:16.0px;background:#4f8ac6;border:2px solid #4f8ac6;border-radius:8px 0 0 8px"></div>
<div class="abs" style="left:316.5px;top:932.0px;width:42.5px;height:42.5px;background:#dedede;border:2px solid #9e9e9e;border-radius:50%;box-shadow:2px 2px 4px rgba(0,0,0,.3)"></div>
<div class="abs" style="left:70.0px;top:1016.9px;font:normal 24px/24px 'Liberation Sans',sans-serif;color:#737373;white-space:nowrap;">Higher numbers fit more peaks on a single line.</div>
<div class="abs" style="left:70.0px;top:1074.0px;font:bold 28px/28px 'Liberation Sans',sans-serif;color:#333;white-space:nowrap;">5' Trim</div>
<div class="abs" style="left:482.4px;top:1074.0px;font:bold 28px/28px 'Liberation Sans',sans-serif;color:#333;white-space:nowrap;">3' Trim</div>
<div class="abs" style="left:70.0px;top:1117.0px;width:160.0px;height:68.0px;background:#fff;border:2px solid #ccc;border-radius:8px;box-shadow:inset 0 2px 2px rgba(0,0,0,.075)"></div>
<div class="abs" style="left:482.0px;top:1117.0px;width:160.0px;height:68.0px;background:#fff;border:2px solid #ccc;border-radius:8px;box-shadow:inset 0 2px 2px rgba(0,0,0,.075)"></div>
<div class="abs" style="left:96.0px;top:1137.8px;font:normal 28px/28px 'Liberation Sans',sans-serif;color:#555;white-space:nowrap;">30</div>
<div class="abs" style="left:508.0px;top:1137.8px;font:normal 28px/28px 'Liberation Sans',sans-serif;color:#555;white-space:nowrap;">30</div>
<div class="abs" style="left:70.0px;top:1243.0px;width:26.0px;height:26.0px;background:#2f72e6;border-radius:5px"></div>
<svg class="abs" style="left:70px;top:1243px" width="26" height="26" viewBox="0 0 26 26"><path d="M5.5 13.8 L11 19.3 L21.5 6.8" stroke="#fff" stroke-width="3.8" fill="none"/></svg>
<div class="abs" style="left:110.8px;top:1242.1px;font:normal 28px/28px 'Liberation Sans',sans-serif;color:#333;white-space:nowrap;">Show Trimmed Region</div>
<div class="abs" style="left:70.0px;top:1315.1px;font:normal 24px/24px 'Liberation Sans',sans-serif;color:#737373;white-space:nowrap;">Removes low quality bases from the ends.</div>
<div class="abs" style="left:70.0px;top:1372.0px;font:bold 28px/28px 'Liberation Sans',sans-serif;color:#333;white-space:nowrap;">Signal Ratio Cutoff</div>
<div class="abs" style="left:70.0px;top:1415.0px;width:160.0px;height:68.0px;background:#fff;border:2px solid #ccc;border-radius:8px;box-shadow:inset 0 2px 2px rgba(0,0,0,.075)"></div>
<div class="abs" style="left:96.0px;top:1436.6px;font:normal 28px/28px 'Liberation Sans',sans-serif;color:#555;white-space:nowrap;">0.33</div>
<div class="abs" style="left:70.0px;top:1522.5px;font:normal 24px/24px 'Liberation Sans',sans-serif;color:#737373;white-space:nowrap;">Signal Ratio is calculated as peak signal/max signal for each position. Signals</div>
<div class="abs" style="left:70.0px;top:1562.6px;font:normal 24px/24px 'Liberation Sans',sans-serif;color:#737373;white-space:nowrap;">above this ratio are called as alternate bases.</div>
<div class="abs" style="left:70.0px;top:1613.9px;font:normal 35px/35px 'Liberation Sans',sans-serif;color:#333;white-space:nowrap;letter-spacing:0.94px;-webkit-text-stroke:1.35px #333">3. Enter Reference Sequence:</div>
<div class="abs" style="left:995.5px;top:122.0px;width:1870.5px;height:2.0px;background:#ddd"></div>
<div class="abs" style="left:1210.0px;top:41.0px;width:252.0px;height:84.0px;background:#fff;border:2px solid #ddd;border-bottom:none;border-radius:8px 8px 0 0"></div>
<div class="abs" style="left:1027.5px;top:70.3px;font:normal 28px/28px 'Liberation Sans',sans-serif;color:#337ab7;white-space:nowrap;letter-spacing:0.2px">Instructions</div>
<div class="abs" style="left:1241.5px;top:70.3px;font:normal 28px/28px 'Liberation Sans',sans-serif;color:#555;white-space:nowrap;letter-spacing:0.15px">Chromatogram</div>
<div class="abs" style="left:1498.5px;top:70.3px;font:normal 28px/28px 'Liberation Sans',sans-serif;color:#337ab7;white-space:nowrap;">Results</div>
<svg id="chroma" class="abs" style="left:992px;top:125px" width="1900" height="1540" viewBox="1000 286 1900 1540">
<defs><clipPath id="hc"><rect x="1108.6" y="335.3" width="807.0" height="299.7"/></clipPath>
<clipPath id="rc0"><rect x="1107.6" y="324.0" width="1682.0" height="323.0"/></clipPath>
<clipPath id="rc1"><rect x="1107.6" y="724.2" width="1682.0" height="323.0"/></clipPath>
<clipPath id="rc2"><rect x="1107.6" y="1124.2" width="1682.0" height="323.0"/></clipPath>
<clipPath id="rc3"><rect x="1107.6" y="1524.2" width="1682.0" height="323.0"/></clipPath>
</defs>
<rect x="1402.2" y="335.3" width="29.2" height="299.7" fill="#dbe3f6"/>
<rect x="1479.7" y="335.3" width="26.9" height="299.7" fill="#dbe3f6"/>
<rect x="1944.0" y="335.3" width="31.9" height="299.7" fill="#dbe3f6"/>
<path clip-path="url(#hc)" d="M1106.6 337.5 L1110.8 333.3M1106.6 351.1 L1124.4 333.3M1106.6 364.7 L1138.0 333.3M1106.6 378.3 L1151.6 333.3M1106.6 391.8 L1165.1 333.3M1106.6 405.4 L1178.7 333.3M1106.6 419.0 L1192.3 333.3M1106.6 432.6 L1205.9 333.3M1106.6 446.2 L1219.5 333.3M1106.6 459.7 L1233.0 333.3M1106.6 473.3 L1246.6 333.3M1106.6 486.9 L1260.2 333.3M1106.6 500.5 L1273.8 333.3M1106.6 514.1 L1287.4 333.3M1106.6 527.6 L1300.9 333.3M1106.6 541.2 L1314.5 333.3M1106.6 554.8 L1328.1 333.3M1106.6 568.4 L1341.7 333.3M1106.6 582.0 L1355.3 333.3M1106.6 595.5 L1368.8 333.3M1106.6 609.1 L1382.4 333.3M1106.6 622.7 L1396.0 333.3M1106.6 636.3 L1409.6 333.3M1106.6 649.9 L1423.2 333.3M1106.6 663.4 L1436.7 333.3M1106.6 677.0 L1450.3 333.3M1106.6 690.6 L1463.9 333.3M1106.6 704.2 L1477.5 333.3M1106.6 717.8 L1491.1 333.3M1106.6 731.3 L1504.6 333.3M1106.6 744.9 L1518.2 333.3M1106.6 758.5 L1531.8 333.3M1106.6 772.1 L1545.4 333.3M1106.6 785.7 L1559.0 333.3M1106.6 799.2 L1572.5 333.3M1106.6 812.8 L1586.1 333.3M1106.6 826.4 L1599.7 333.3M1106.6 840.0 L1613.3 333.3M1106.6 853.6 L1626.9 333.3M1106.6 867.1 L1640.4 333.3M1106.6 880.7 L1654.0 333.3M1106.6 894.3 L1667.6 333.3M1106.6 907.9 L1681.2 333.3M1106.6 921.5 L1694.8 333.3M1106.6 935.0 L1708.3 333.3M1106.6 948.6 L1721.9 333.3M1106.6 962.2 L1735.5 333.3M1106.6 975.8 L1749.1 333.3M1106.6 989.4 L1762.7 333.3M1106.6 1002.9 L1776.2 333.3M1106.6 1016.5 L1789.8 333.3M1106.6 1030.1 L1803.4 333.3M1106.6 1043.7 L1817.0 333.3M1106.6 1057.3 L1830.6 333.3M1106.6 1070.8 L1844.1 333.3M1106.6 1084.4 L1857.7 333.3M1106.6 1098.0 L1871.3 333.3M1106.6 1111.6 L1884.9 333.3M1106.6 1125.2 L1898.5 333.3M1106.6 1138.7 L1912.0 333.3M1106.6 1152.3 L1925.6 333.3M1106.6 1165.9 L1939.2 333.3M1106.6 1179.5 L1952.8 333.3M1106.6 1193.1 L1966.4 333.3M1106.6 1206.6 L1979.9 333.3M1106.6 1220.2 L1993.5 333.3M1106.6 1233.8 L2007.1 333.3M1106.6 1247.4 L2020.7 333.3M1106.6 1261.0 L2034.3 333.3M1106.6 1274.5 L2047.8 333.3M1106.6 1288.1 L2061.4 333.3M1106.6 1301.7 L2075.0 333.3M1106.6 1315.3 L2088.6 333.3M1106.6 1328.9 L2102.2 333.3M1106.6 1342.4 L2115.7 333.3M1106.6 1356.0 L2129.3 333.3M1106.6 1369.6 L2142.9 333.3M1106.6 1383.2 L2156.5 333.3M1106.6 1396.8 L2170.1 333.3M1106.6 1410.3 L2183.6 333.3M1106.6 1423.9 L2197.2 333.3M1106.6 1437.5 L2210.8 333.3M1106.6 1451.1 L2224.4 333.3" stroke="#ea3323" stroke-width="1.5" fill="none"/>
<g clip-path="url(#rc0)" fill="none" stroke-width="1.5" stroke-linejoin="round">
<path d="M1108.6 633.8L1117 634.1L1125.4 634.6L1133.8 634.8L1142.2 634.9L1150.6 635L1159 635L1167.4 635L1175.8 634.3L1184.2 633L1192.6 632.4L1198.9 632L1207.3 630.3L1209.4 630.1L1211.5 630.2L1219.9 632.1L1224.1 632.8L1232.5 633L1240.9 633L1249.3 633.6L1257.7 634.1L1266.1 633.9L1274.5 633L1282.9 632L1289.2 631.5L1293.4 631.6L1301.8 632.7L1310.2 633.3L1318.6 633.7L1327 633.4L1335.4 632.7L1337.5 632.4L1339.6 631.7L1341.7 630.6L1343.8 628.9L1345.9 626.4L1348 623L1350.1 617.8L1352.2 611.3L1354.3 603.3L1356.4 594L1362.7 562.6L1364.8 553.1L1366.9 545.5L1369 540.3L1371.5 538L1373.2 539L1375.3 543.1L1377.4 549.8L1379.5 558.5L1385.8 588.3L1387.9 596.6L1390 603.1L1392.1 607.2L1394.2 608.7L1396.3 607.5L1398.4 603.7L1400.5 597.3L1402.6 588.8L1408.9 558.1L1411 549.1L1413.1 542.4L1415.2 538.6L1416.5 538L1419.4 541.3L1421.5 547.5L1423.6 556.2L1432 599.1L1434.1 608L1436.2 615.5L1438.3 621.4L1440.4 625.6L1442.5 628.5L1444.6 630.4L1446.7 631.6L1448.8 632.2L1453 632.6L1459.3 632.6L1461.4 632.4L1463.5 632L1465.6 631.1L1467.7 629.5L1469.8 626.7L1471.9 622.2L1474 614.1L1476.1 602.5L1478.2 587.1L1480.3 567.7L1486.6 498.2L1488.7 478.4L1490.8 464.8L1493.2 459L1495 462.3L1497.1 473.8L1499.2 492.1L1505.5 561.6L1507.6 581.9L1509.7 598.5L1511.8 611.2L1513.9 620.2L1516 625.8L1518.1 629.1L1520.2 631.1L1522.3 632.4L1524.4 633.1L1528.6 633.7L1537 634L1539.1 633.8L1541.2 633.4L1543.3 632.3L1545.4 630.1L1547.5 625.7L1549.6 617.7L1551.7 604.8L1553.8 586.6L1560.1 515.4L1562.2 498.5L1564.4 492L1566.4 497.4L1568.5 513.4L1574.8 584.6L1576.9 603.3L1579 616.7L1581.1 625L1583.2 628.9L1585.3 630.3L1587.4 631.1L1591.6 633.3L1593.7 634.2L1595.8 634.6L1597.9 634.7L1600 634.6L1602.1 634.1L1604.2 633L1606.3 631.4L1608.4 630.1L1610.5 630.2L1612.6 631.5L1614.7 633.2L1616.8 634.3L1618.9 634.8L1625.2 635.1L1627.3 635L1629.4 634.3L1631.5 633.3L1633.6 633.3L1635.7 634.4L1637.8 635L1644.1 635.1L1646.2 635L1648.3 634.5L1650.4 633.6L1652.5 633.1L1654.6 633.5L1656.7 634.4L1658.8 634.9L1660.9 634.5L1663 624.3L1665.1 602.6L1667.2 572.9L1671.4 508L1673.5 482.8L1675.6 467.9L1677 465L1679.8 476.5L1681.9 498.6L1684 528.6L1688.2 593.4L1690.3 618.2L1692.4 629L1694.5 630.7L1696.6 631.1L1698.7 631.9L1700.8 633.1L1702.9 633.7L1705 633.6L1709.2 631.9L1711.3 631.4L1713.4 631.7L1715.5 632.4L1717.6 632.9L1719.7 633L1721.8 632.8L1723.9 632.8L1730.2 634L1732.3 634.1L1734.4 624.4L1736.5 592.4L1738.6 543.7L1742.8 427.9L1744.9 378.6L1747 345.6L1749.1 334L1751.2 345.6L1753.3 378.6L1755.4 427.9L1759.6 543.7L1761.7 592.4L1763.8 624.4L1765.9 634.1L1768 634.1L1770.1 633.7L1772.2 632.3L1774.3 629.6L1776.4 627.3L1778.5 627.9L1780.6 630.7L1782.7 633L1784.8 634L1793.2 634.3L1801.6 634.4L1810 634.5L1818.4 634.7L1826.8 634.8L1835.2 634.9L1843.6 635L1852 635L1860.4 635.1L1864.6 634.8L1866.7 634L1868.8 626.3L1870.9 607.6L1873 580L1877.2 520.1L1879.3 498.4L1882.1 487L1883.5 489.9L1885.6 504.6L1887.7 529.2L1891.9 589.8L1894 615.2L1896.1 631.1L1898.2 634.7L1904.5 633.4L1906.6 633.5L1910.8 634.4L1915 634.8L1921.3 634.6L1929.7 633.1L1931.8 633.2L1938.1 634.3L1946.5 634.4L1952.8 634.3L1954.9 627.9L1957 607.9L1961.2 549.1L1963.3 525.6L1965.9 514L1967.5 518.5L1969.6 536.7L1973.8 594.8L1975.9 620L1978 630.8L1980.1 633.1L1982.2 633.8L1990.6 634.1L1994.8 634L1996.9 633.4L1999 631.7L2001.1 628.8L2003.2 627.2L2005.3 628.5L2007.4 631.3L2009.5 633.3L2011.6 634L2013.7 634.2L2015.8 628.5L2017.9 596L2020 542.6L2022.1 482.9L2024.2 432.6L2026.3 404.9L2027.2 402L2028.4 407.1L2030.5 438.6L2032.6 491.2L2034.7 551L2036.8 602.2L2038.9 630.6L2041 634.3L2043.1 634L2047.3 631.8L2049.4 631.9L2051.5 633.1L2053.6 633.9L2055.7 633.8L2057.8 633.1L2059.9 632.8L2062 633.1L2064.1 633.8L2066.2 634.3L2068.3 633.9L2070.4 632.4L2072.5 630.4L2074.6 629.2L2076.7 628.9L2078.8 629.2L2080.9 630.1L2085.1 633.5L2087.2 634.5L2089.3 634.9L2091.4 635L2093.5 634.7L2097.7 632.7L2099.8 633L2101.9 634.2L2104 634.9L2112.4 635.1L2118.7 635.1L2120.8 634.5L2122.9 613.4L2125 567.5L2129.2 455.3L2131.3 420L2132.8 412L2135.5 437.1L2137.6 484.8L2139.7 543.2L2141.8 596.2L2143.9 629L2146 634.8L2154.4 634.7L2162.8 634.6L2167 634.3L2169.1 633.7L2171.2 632.2L2173.3 630.3L2175.4 628.8L2177.5 628.5L2179.6 628.8L2181.7 629.4L2185.9 633.5L2188 634.1L2196.4 634.2L2204.8 634.1L2209 633.9L2213.2 632.8L2215.3 632.6L2219.5 633.6L2221.6 634L2230 634.1L2238.4 634.2L2246.8 634.1L2248.9 633.9L2253.1 632.9L2255.2 632.9L2259.4 633.8L2261.5 634L2263.6 633.7L2265.7 633.1L2267.8 632L2269.9 629.9L2272 629.7L2274.1 631.7L2276.2 632.2L2278.3 632.1L2280.4 632.7L2282.5 633.7L2284.6 634.4L2293 634.8L2295.1 632.9L2297.2 608.7L2299.3 563.1L2301.4 508.7L2303.5 460.7L2305.6 432.4L2306.7 428.4L2307.7 431.7L2309.8 458.8L2311.9 506.1L2314 560.6L2316.1 607L2318.2 632.5L2320.3 635.1L2328.7 635.1L2337.1 635.1L2341.3 635L2343.4 634.8L2345.5 634.2L2349.7 632.4L2351.8 632.1L2353.9 632.6L2358.1 634.4L2360.2 634.8L2368.6 634.9L2377 634.8L2385.4 634.7L2391.7 634.5L2393.8 634L2398 632.7L2400.1 632.6L2404.3 633.8L2406.4 634.1L2408.5 633.8L2410.6 632.6L2412.7 630.5L2414.8 628.1L2416.9 626.3L2419 626.3L2421.1 628.3L2423.2 631L2425.3 633.1L2427.4 633.9L2435.8 634.2L2444.2 634.1L2452.6 634.1L2461 634.1L2469.4 634.1L2477.8 634.2L2486.2 634.3L2494.6 634.4L2503 634.5L2511.4 634.6L2519.8 634.7L2528.2 634.8L2536.6 634.9L2545 635L2553.4 635.1L2555.5 634.4L2557.6 613.2L2559.7 567.8L2563.9 458.3L2566 424.8L2567.4 418L2570.2 444.4L2572.3 492.1L2574.4 549.4L2576.5 600.2L2578.6 626.8L2580.7 630.8L2582.8 633.3L2584.9 634.5L2587 634L2589.1 631.8L2591.2 628.9L2593.3 628.2L2595.4 630.5L2597.5 633.3L2599.6 634.6L2601.7 634.9L2610.1 634.8L2618.5 634.7L2624.8 634.6L2626.9 634.4L2629 633.8L2633.2 632.1L2635.3 618.7L2637.4 577.8L2641.6 471.6L2643.7 436L2645.4 426.4L2647.9 446.9L2650 490.3L2654.2 595.7L2656.3 627.9L2658.4 634.2L2666.8 634.2L2675.2 634.1L2683.6 634.1L2692 634.1L2696.2 634.1L2698.3 633.7L2700.4 631.8L2702.5 628.7L2704.6 628.1L2706.7 629.6L2708.8 631.6L2710.9 633.3L2713 634L2715.1 632.2L2717.2 607.6L2719.3 561L2721.4 505.9L2723.5 457.9L2725.6 430.4L2726.6 427L2727.7 431.1L2729.8 459.8L2731.9 508.5L2734 563.5L2736.1 607.7L2738.2 607.5L2740.3 563L2742.4 507.5L2744.5 458.5L2746.6 429.5L2747.7 425.4L2748.7 428.8L2750.8 456.5L2752.9 504.9L2755 560.4L2757.1 607.4L2759.2 625.5L2761.3 588.1L2763.4 521.6L2765.5 447.6L2767.6 387L2770.3 355L2771.8 365.1L2773.9 410.1L2778.1 552.2L2780.2 609.4L2782.3 634L2784.4 634.9L2788.6 635.1" stroke="#6df043"/>
<path d="M1108.6 562.5L1110.7 557.6L1112 553.9L1114.9 543L1117 532.8L1119.1 520.4L1121.2 505.7L1125.4 470.8L1131.7 414.3L1133.8 398.5L1135.9 386L1138 377.8L1140.5 374.5L1142.2 376.4L1144.3 383.6L1146.4 395.6L1148.5 411.6L1150.6 430.9L1159 519.1L1161.1 539L1163.2 556.8L1165.3 572L1167.4 584.6L1169.5 594.5L1171.6 602L1173.7 607.5L1175.8 611.3L1177.9 613.8L1180 615.5L1184.2 617.8L1188.4 619.5L1190.5 620L1192.6 620.2L1194.7 619.8L1196.8 618.7L1198.9 616.8L1201 613.9L1203.1 610.2L1205.2 605.6L1209.4 594.5L1215.7 576.5L1217.8 571.2L1219.9 566.8L1222 563.4L1224.1 561.3L1226 560.4L1228.3 560.8L1230.4 562.2L1232.5 564.5L1240.9 577L1245.1 582.3L1247.2 584.5L1250 586.8L1251.4 587.5L1253.5 587.8L1255.6 586.7L1257.7 583.8L1259.8 578.9L1261.9 571.8L1264 562.7L1270.3 531.2L1272.4 522.7L1274.5 516.9L1277 514.5L1278.7 515.9L1280.8 520.9L1282.9 529.2L1285 539.8L1291.3 575.9L1293.4 586.3L1295.5 595L1297.6 601.8L1299.7 606.9L1301.8 610.7L1303.9 613.6L1312.3 622.9L1316.5 626.1L1320.7 628.7L1322.8 629.5L1324.9 629.7L1327 629.1L1329.1 627.3L1331.2 624.1L1333.3 618.4L1335.4 610.2L1337.5 599.9L1343.8 562L1345.9 551.1L1348 543.3L1350 539.3L1352.2 538.9L1354.3 541.5L1358.5 549.9L1360.6 553.3L1362.7 555.5L1364.8 557.2L1366.9 559.3L1369 563.1L1371.1 569.2L1373.2 577.7L1379.5 608.4L1381.6 616.9L1383.7 623.4L1385.8 627.4L1387.9 630.1L1390 631.7L1392.1 632.6L1394.2 633L1396.3 632.7L1398.4 631.5L1400.5 629L1402.6 624.4L1404.7 616.3L1406.8 604.4L1408.9 588.5L1413.1 550.6L1415.2 533.8L1417.3 522.9L1419 519.9L1421.5 526.1L1423.6 539.6L1429.9 594.7L1432 609.1L1434.1 619.4L1436.2 626L1438.3 629.6L1440.4 631.4L1442.5 632.2L1444.6 632.3L1453 631.4L1461.4 630.3L1469.8 629.1L1478.2 628.3L1484.5 628.5L1492.9 629.7L1499.2 630.7L1501.3 630.9L1503.4 630.8L1505.5 630.4L1507.6 629.3L1509.7 627.1L1511.8 623.2L1513.9 615.7L1516 604.1L1518.1 588L1520.2 567.7L1524.4 521.3L1526.5 501.4L1528.6 488.4L1530.4 484.7L1532.8 491.4L1534.9 506.8L1537 528.2L1541.2 574.6L1543.3 594.1L1545.4 609.1L1547.5 619.7L1549.6 625.9L1551.7 629.3L1553.8 631.4L1555.9 632.6L1558 633.3L1562.2 633.9L1566.4 634.1L1568.5 633.7L1570.6 631.6L1572.7 627.9L1574.8 628L1576.9 631.7L1579 633.7L1581.1 634.1L1589.5 634.1L1597.9 634.1L1600 634L1604.2 632.7L1606.3 632.9L1608.4 633.7L1610.5 634.1L1618.9 634.2L1627.3 634.3L1631.5 634.3L1633.6 634L1635.7 632.6L1637.8 629.8L1639.9 627.6L1642 627.5L1644.1 628.8L1648.3 633.4L1650.4 634.4L1652.5 634.6L1656.7 634.5L1658.8 634L1660.9 632.8L1665.1 628.6L1667.2 627.8L1669.3 628.7L1671.4 630.3L1673.5 631.2L1675.6 631.2L1679.8 632.2L1681.9 631.4L1684 629.6L1686.1 628.1L1688.2 628.4L1690.3 630.3L1692.4 632.5L1694.5 634.1L1696.6 634.8L1705 635.1L1713.4 635.1L1721.8 635.1L1730.2 635L1738.6 634.9L1747 634.9L1755.4 634.8L1763.8 634.6L1772.2 634.5L1774.3 631.9L1776.4 612.9L1778.5 577.4L1784.8 436.7L1786.9 402.5L1789 384.8L1789.9 383L1791.1 386.2L1793.2 406.5L1795.3 442.6L1801.6 583.3L1803.7 616.7L1805.8 622.7L1807.9 595.2L1810 552.6L1814.2 453.7L1816.3 412.7L1818.4 386.1L1820.3 378L1822.6 389.8L1824.7 419.6L1826.8 462.7L1831 561.5L1833.1 601.9L1835.2 627.4L1837.3 634.1L1841.5 633.9L1843.6 633.3L1845.7 627.2L1847.8 611L1849.9 585.9L1854.1 529.2L1856.2 506.6L1858.3 493L1859.8 490L1862.5 499.5L1864.6 518.6L1866.7 544.8L1870.9 601L1873 622L1875.1 631.6L1877.2 633.8L1879.3 634.3L1887.7 634.7L1896.1 634.8L1898.2 634.6L1900.3 633.4L1902.4 630.8L1904.5 630.1L1906.6 632.5L1908.7 634.4L1910.8 634.9L1917.1 634.9L1919.2 634.5L1921.3 633.5L1925.5 630.5L1927.6 630.1L1929.7 631.3L1931.8 633L1933.9 634.2L1936 634.8L1944.4 635.1L1946.5 625.5L1948.6 592.1L1952.8 490.1L1954.9 446.8L1957.8 422L1959.1 427.2L1961.2 455.6L1963.3 502.2L1965.4 555.4L1967.5 601.9L1969.6 630L1971.7 634.9L1980.1 634.9L1988.5 634.7L1996.9 634.6L2001.1 634.5L2003.2 634.1L2005.3 633.1L2007.4 631.6L2009.5 630.5L2011.6 631L2013.7 632.5L2015.8 633.7L2017.9 633.6L2020 631.2L2022.1 627.7L2024.2 628.3L2026.3 631.6L2028.4 632.6L2030.5 632.8L2032.6 633.4L2034.7 633L2036.8 631.3L2038.9 628.8L2041 627.2L2043.1 627.8L2047.3 632.3L2049.4 633.5L2051.5 634L2057.8 634L2059.9 618L2062 575.4L2066.2 463.2L2068.3 423.9L2070.2 411.5L2072.5 429.6L2074.6 472.9L2078.8 585L2080.9 623.4L2083 626.3L2085.1 581.6L2087.2 509.5L2089.3 430.3L2091.4 365.6L2094.1 331.6L2095.6 342.4L2097.7 390.2L2101.9 542.6L2104 605.1L2106.1 633.6L2108.2 634.5L2116.6 634.6L2125 634.6L2127.1 634.3L2129.2 633.3L2133.4 630L2135.5 629.6L2137.6 630.7L2141.8 633.6L2143.9 634.4L2146 634.8L2154.4 635L2162.8 635.1L2171.2 635.1L2173.3 622L2175.4 586.3L2179.6 489.8L2181.7 455.8L2183.6 445L2185.9 460.7L2188 498.3L2192.2 594.4L2194.3 626.4L2196.4 634.8L2198.5 634.2L2200.6 632.5L2202.7 629.9L2204.8 628L2206.9 628.5L2209 630.3L2211.1 631.1L2215.3 631.5L2217.4 630.4L2219.5 628.5L2221.6 627.8L2223.7 629L2225.8 631.2L2227.9 633.1L2230 634.1L2232.1 634.5L2236.3 634.5L2238.4 634.2L2240.5 633.3L2242.6 632.2L2244.7 632L2246.8 632.2L2248.9 612.4L2251 566.5L2255.2 456.4L2257.3 422.8L2258.7 416L2261.5 442.5L2263.6 490.3L2265.7 547.9L2267.8 599.2L2269.9 628.3L2272 631.1L2274.1 631.6L2276.2 632.4L2278.3 632.5L2280.4 631.8L2282.5 630.7L2284.6 630.3L2286.7 631.3L2288.8 632.8L2290.9 633.7L2293 634L2301.4 634.1L2303.5 634.1L2305.6 633.6L2307.7 632.2L2309.8 630L2311.9 629.3L2316.1 632.4L2318.2 632.2L2320.3 631.3L2322.4 631.6L2324.5 632.9L2326.6 633.9L2328.7 634.3L2337.1 634.5L2339.2 634.5L2341.3 623.3L2343.4 578.9L2347.6 444.5L2349.7 392L2352 370L2353.9 385.1L2356 432.7L2360.2 567.5L2362.3 617.2L2364.4 633.7L2366.5 632.9L2368.6 632.7L2370.7 609.2L2372.8 549.7L2377 399.8L2379.1 351.1L2380.7 339L2383.3 370.2L2385.4 432.6L2387.5 510.2L2389.6 573.4L2391.7 587.6L2393.8 551L2395.9 503.5L2398 467.2L2400.3 452L2402.2 462.5L2404.3 495.4L2408.5 588.5L2410.6 618.2L2412.7 606.8L2416.9 528.4L2419 495.4L2421.6 479L2423.2 485.4L2425.3 511.1L2429.5 590.1L2431.6 621.4L2433.7 626.1L2435.8 595.4L2440 504.4L2442.1 469.7L2444.3 456L2446.3 467.3L2448.4 500.4L2452.6 591.5L2454.7 623.9L2456.8 632.5L2458.9 632.5L2463.1 630.9L2465.2 630.6L2467.3 631.4L2469.4 632.6L2471.5 633.7L2473.6 634.2L2482 634.4L2484.1 625L2486.2 595L2490.4 511L2492.5 480.5L2494.5 470L2496.7 482.6L2498.8 514.7L2503 598.6L2505.1 626.5L2507.2 633.1L2509.3 632.7L2511.4 632.7L2517.7 633.9L2526.1 634.1L2534.5 634.1L2542.9 634.2L2551.3 634.2L2559.7 634.3L2561.8 634.3L2563.9 634L2566 633L2568.1 631.2L2570.2 628.9L2572.3 627.5L2574.4 628.1L2578.6 632.5L2580.7 633.8L2582.8 634.4L2584.9 634.6L2587 634.5L2591.2 633.3L2593.3 633.3L2595.4 633.6L2597.5 633.2L2601.7 631.4L2603.8 631.3L2605.9 631.7L2614.3 634.5L2616.4 634.8L2618.5 634.9L2620.6 634.6L2622.7 633.4L2624.8 630.9L2626.9 622.7L2629 584.7L2633.2 478.1L2635.3 439.3L2637.3 426L2639.5 442L2641.6 482.7L2645.8 589.2L2647.9 624.8L2650 633.2L2652.1 633.1L2654.2 633.5L2658.4 634.6L2662.6 635L2671 634.9L2679.4 634.8L2687.8 634.7L2692 634.6L2694.1 634L2698.3 629.7L2700.4 630.6L2702.5 633.1L2704.6 634.3L2713 634.4L2721.4 634.3L2729.8 634.2L2731.9 634.2L2734 633.9L2736.1 632.2L2738.2 628.9L2740.3 627.3L2742.4 628.5L2748.7 633.2L2750.8 633.9L2759.2 634.1L2761.3 634.1L2763.4 633.8L2765.5 632.1L2767.6 628.4L2769.7 625.8L2771.8 627L2773.9 630.1L2776 631.9L2778.1 619.1L2780.2 578.9L2784.4 473.8L2786.5 438.6L2788.2 429.0" stroke="#0735f7"/>
<path d="M1108.6 634.3L1117 634.1L1125.4 634L1133.8 633.5L1142.2 633.3L1148.5 633.1L1150.6 632.8L1152.7 632.1L1154.8 631.1L1156.9 629.5L1159 627.1L1161.1 624L1163.2 619.5L1165.3 613.4L1167.4 605.6L1169.5 596L1171.6 584.5L1173.7 571.1L1177.9 540L1182.1 506.9L1184.2 491.5L1186.3 478.1L1188.4 467.5L1190.5 460.5L1193 457.5L1194.7 458.9L1196.8 464.4L1198.9 473.7L1201 486.1L1205.2 517L1211.5 565.6L1213.6 579.6L1215.7 591.8L1217.8 602.2L1219.9 610.6L1222 617.3L1224.1 622.5L1226.2 626L1228.3 628.5L1230.4 630.3L1232.5 631.4L1234.6 632.1L1238.8 632.8L1245.1 632.8L1251.4 632L1257.7 630.4L1261.9 628.7L1264 627.5L1266.1 625.7L1268.2 622.8L1270.3 617.4L1272.4 610.3L1274.5 601.3L1276.6 590.2L1278.7 577L1280.8 561.8L1289.2 491.8L1291.3 476.3L1293.4 463.7L1295.5 454.9L1297.6 450.4L1298.5 450L1299.7 450.8L1301.8 455.9L1303.9 465.3L1306 478.4L1308.1 494.2L1314.4 547.4L1316.5 564.1L1318.6 579L1320.7 592L1322.8 602.8L1324.9 611.5L1327 618.3L1329.1 623.4L1331.2 627L1333.3 629.6L1335.4 631.3L1337.5 632.4L1339.6 633.1L1343.8 633.8L1352.2 634.4L1360.6 634.7L1369 634.8L1377.4 634.8L1385.8 634.7L1394.2 634.6L1402.6 634.2L1406.8 633.6L1408.9 633.1L1411 632.2L1413.1 630.9L1415.2 628.7L1417.3 625.5L1419.4 620.7L1421.5 613.8L1427.8 589.1L1429.9 583.3L1432.5 580.5L1434.1 581.6L1436.2 586L1438.3 593.1L1442.5 610L1444.6 617.6L1446.7 623.5L1448.8 626.7L1450.9 628.8L1453 630.1L1455.1 630.8L1459.3 631.6L1467.7 632L1476.1 632.5L1484.5 633.7L1492.9 634.3L1501.3 634.5L1509.7 634.5L1513.9 634.3L1522.3 632.6L1524.4 632.3L1526.5 632.3L1534.9 633.8L1539.1 634.1L1547.5 633.6L1553.8 633.5L1562.2 634.2L1570.6 634.9L1579 635L1587.4 635L1589.5 635L1591.6 634.2L1593.7 622.5L1595.8 598.6L1597.9 566.1L1602.1 496L1604.2 469.2L1606.3 453.7L1607.6 451L1610.5 464.4L1612.6 488.8L1614.7 521.6L1618.9 591.5L1621 617.5L1623.1 621.4L1625.2 598.6L1627.3 563.1L1631.5 483.7L1633.6 452.1L1635.7 432.7L1637.3 428L1639.9 440.1L1642 465.9L1644.1 501.7L1648.3 581L1650.4 612.2L1652.5 630.4L1654.6 634.3L1663 634.2L1667.2 634.2L1669.3 633.9L1671.4 627.1L1673.5 611.2L1675.6 588.7L1679.8 538.9L1681.9 519.3L1684 507.6L1685.5 505L1688.2 513.2L1690.3 529.7L1692.4 552.5L1696.6 602.1L1698.7 612.7L1700.8 597.4L1702.9 559.2L1707.1 463L1709.2 422L1711.3 394.6L1713.4 385L1715.5 394.6L1717.6 422L1719.7 463L1723.9 559.2L1726 599.6L1728.1 626.1L1730.2 634.4L1738.6 634.5L1742.8 634.6L1744.9 634.2L1747 626.6L1749.1 609.9L1751.2 586.8L1755.4 536.4L1757.5 516.8L1759.6 505.3L1761 503L1763.8 511.9L1765.9 529.1L1768 552.4L1772.2 602.7L1774.3 622L1776.4 633L1778.5 635L1786.9 635.1L1795.3 635.1L1803.7 635.1L1812.1 635.1L1820.5 635L1824.7 635L1826.8 633.4L1828.9 622.5L1831 602.5L1837.3 523.2L1839.4 504L1841.5 494L1842.4 493L1843.6 494.8L1845.7 506.2L1847.8 526.6L1854.1 605.8L1856.2 624.2L1858.3 629.4L1860.4 629.5L1862.5 630.3L1864.6 631.4L1868.8 633L1870.9 633.6L1873 633.5L1875.1 631.6L1877.2 626.9L1879.3 621.2L1881.4 619.7L1883.5 624.1L1885.6 625L1887.7 611.6L1891.9 573L1894 556.4L1896.1 546L1897.7 543.5L1900.3 550L1902.4 563.7L1906.6 602L1908.7 619.4L1910.8 627.5L1915 629.9L1917.1 632.4L1919.2 633.5L1921.3 632.6L1923.4 630L1925.5 629.4L1927.6 632L1929.7 633.7L1931.8 634.1L1940.2 634.2L1942.3 634.1L1944.4 633.8L1946.5 632.9L1948.6 632.3L1950.7 632.8L1952.8 633.8L1954.9 634.2L1963.3 634.4L1967.5 634.5L1969.6 634.3L1971.7 633.7L1973.8 632.5L1975.9 631.6L1978 632.1L1980.1 631.5L1982.2 619.5L1984.3 596.8L1986.4 570.7L1988.5 547.8L1990.6 534.2L1991.8 532L1994.8 545.2L1996.9 567L1999 593.1L2001.1 616.7L2003.2 630.7L2005.3 634.5L2007.4 634.9L2015.8 635L2024.2 635.1L2032.6 635.1L2041 635.1L2049.4 635.1L2055.7 634.9L2057.8 634.6L2062 633.5L2064.1 633.7L2068.3 634.7L2076.7 634.8L2085.1 634.7L2089.3 634.5L2091.4 633.6L2093.5 631.9L2095.6 632L2097.7 633.7L2099.8 634.4L2101.9 634.4L2104 634.2L2106.1 632.9L2108.2 629.8L2110.3 626.2L2112.4 624.9L2114.5 626.6L2116.6 630L2118.7 632.8L2120.8 634L2122.9 634.2L2131.3 634.2L2139.7 634.1L2141.8 630.1L2143.9 615.8L2148.1 572.5L2150.2 556L2152.4 549.5L2154.4 554.9L2156.5 570.6L2160.7 614L2162.8 627L2164.9 631.9L2167 632.1L2169.1 631.7L2171.2 631.8L2175.4 633.4L2177.5 633.9L2185.9 634.3L2194.3 634.4L2196.4 632.1L2198.5 609.9L2200.6 568.7L2202.7 520.4L2204.8 478.4L2206.9 454.4L2207.9 451.5L2209 455L2211.1 480.1L2213.2 522.7L2215.3 570.9L2217.4 611.5L2219.5 632.1L2221.6 634.5L2225.8 634.8L2234.2 634.9L2242.6 635L2246.8 634.9L2248.9 634.5L2251 633.3L2255.2 628.7L2257.3 627.2L2259.4 626.6L2261.5 627L2263.6 628.5L2267.8 633L2269.9 631.7L2272 619.4L2276.2 578.6L2278.3 561.9L2280.8 554L2282.5 557.7L2284.6 571.4L2288.8 612.5L2290.9 627.5L2293 633.6L2295.1 634.4L2297.2 634.8L2305.6 634.8L2307.7 634.8L2309.8 629.3L2311.9 601L2316.1 507.1L2318.2 467.7L2320.8 448L2322.4 455.6L2324.5 486.3L2328.7 581L2330.8 618.6L2332.9 634.2L2335 633.7L2337.1 631.9L2339.2 628.8L2341.3 626.5L2343.4 626.9L2345.5 629L2347.6 630.7L2349.7 631.3L2351.8 631.2L2353.9 631.5L2356 632.4L2358.1 633L2360.2 632.6L2364.4 630.4L2366.5 630.2L2368.6 631.2L2370.7 632.5L2372.8 633.4L2374.9 633.9L2383.3 634.1L2389.6 634.1L2391.7 633.9L2393.8 632.9L2395.9 630.9L2398 630.3L2402.2 633.6L2404.3 634.1L2412.7 634.3L2421.1 634.4L2429.5 634.5L2437.9 634.6L2446.3 634.7L2452.6 634.7L2454.7 634.4L2456.8 633.2L2458.9 632.3L2463.1 634.6L2465.2 634.9L2473.6 635L2482 635.1L2490.4 635.1L2496.7 635L2498.8 634.8L2500.9 633.9L2503 632.3L2507.2 627.8L2509.3 623.9L2511.4 621.6L2513.5 625.6L2515.6 630.6L2517.7 633.6L2519.8 634.7L2521.9 634.8L2524 634.6L2526.1 629.4L2528.2 596.3L2530.3 539.8L2532.4 476.2L2534.5 423.4L2537.3 394L2538.7 401.6L2540.8 438.8L2545 560.3L2547.1 610.7L2549.2 634L2551.3 634.7L2559.7 634.5L2561.8 634.2L2563.9 633.6L2566 632.3L2568.1 627.3L2570.2 609L2574.4 546L2576.5 521.3L2578.8 511L2580.7 518.1L2582.8 540.5L2587 603.7L2589.1 626.6L2591.2 634.2L2595.4 633.9L2597.5 633L2599.6 631.2L2601.7 630.1L2603.8 631.3L2605.9 633L2608 633.9L2616.4 634.1L2624.8 634.1L2629 634L2631.1 633.3L2633.2 631.3L2635.3 628.5L2637.4 627.2L2639.5 628.9L2641.6 631.4L2643.7 631.5L2645.8 629.4L2647.9 629L2650 631.6L2652.1 633.7L2654.2 634.3L2658.4 634.4L2660.5 629.7L2662.6 613.2L2666.8 564.7L2668.9 546.7L2671 540L2673.1 546.7L2675.2 564.7L2679.4 613.2L2681.5 629.8L2683.6 631.5L2685.7 593.8L2687.8 523.8L2689.9 441.3L2692 369.3L2694.1 328L2695.1 323L2696.2 329.1L2698.3 372.2L2700.4 445.1L2702.5 527.6L2704.6 596.5L2706.7 631.2L2708.8 632.7L2710.9 632.1L2713 630.9L2715.1 629.1L2717.2 628L2719.3 629L2723.5 633.5L2725.6 634.6L2727.7 635L2729.8 635.1L2731.9 634.9L2734 634.1L2736.1 632.6L2740.3 631.7L2742.4 631L2744.5 632L2746.6 633.7L2748.7 633.9L2750.8 632.4L2752.9 632.4L2755 634.1L2757.1 634.7L2759.2 634.3L2761.3 633.3L2763.4 632.9L2767.6 634.5L2769.7 634.8L2771.8 634.8L2773.9 634.5L2776 633.7L2778.1 632.6L2780.2 632.3L2784.4 634.1L2786.5 634.5L2788.6 634.6" stroke="#000000"/>
<path d="M1108.6 586.3L1117 602.6L1121.2 610.7L1125.4 617.7L1127.5 620.7L1129.6 623.4L1131.7 625.6L1133.8 627.5L1135.9 629L1138 630.3L1140.1 631.2L1144.3 632.5L1148.5 633L1156.9 633.2L1163.2 632.9L1171.6 631.7L1175.8 631.6L1184.2 633.2L1188.4 633.8L1196.8 633.9L1205.2 633.5L1213.6 632.8L1222 631.7L1228.3 631.2L1232.5 631.3L1240.9 632.6L1247.2 633.6L1253.5 633.8L1261.9 633.3L1270.3 632.6L1278.7 632.1L1287.1 632.2L1295.5 632.9L1303.9 633.8L1312.3 634.3L1320.7 634.7L1329.1 635L1337.5 635L1345.9 635L1354.3 634.9L1358.5 634.8L1360.6 634.5L1362.7 633.9L1364.8 632.7L1366.9 630.2L1369 625.6L1371.1 617.6L1373.2 605.2L1375.3 587.8L1377.4 565.7L1381.6 517.3L1383.7 498.6L1386.6 488L1387.9 490.2L1390 502.4L1392.1 522.7L1396.3 571.3L1398.4 592.4L1400.5 608.6L1402.6 619.9L1404.7 626.8L1406.8 630.6L1408.9 632.6L1411 633.6L1413.1 634L1421.5 634.2L1429.9 634.1L1438.3 634.1L1446.7 634.1L1455.1 634L1463.5 633.6L1469.8 633L1471.9 606L1480.3 447L1486.6 333.6L1489.4 320L1490.8 320L1492.9 345.8L1501.3 499.3L1507.6 619.5L1509.7 633.9L1518.1 632.9L1526.5 631.7L1528.6 631.1L1530.7 629.9L1532.8 627.6L1534.9 623.3L1537 611.4L1539.1 591.7L1541.2 564L1545.4 498.3L1547.5 474.3L1549.5 466L1551.7 476L1553.8 501.1L1558 566.8L1560.1 593.5L1562.2 611.4L1564.3 620.5L1566.4 621.5L1568.5 614.4L1570.6 598.6L1572.7 573.5L1574.8 540.3L1576.9 503.2L1579 469.8L1581.1 448.4L1582.5 444L1585.3 460.9L1587.4 491.2L1591.6 563.3L1593.7 591.7L1595.8 611.5L1597.9 623.5L1600 629.8L1602.1 632.8L1604.2 634L1606.3 634.5L1610.5 634.6L1612.6 634.3L1616.8 633L1618.9 632.5L1625.2 632.6L1629.4 634L1631.5 633.8L1633.6 632.2L1635.7 628.4L1637.8 622.9L1639.9 620.3L1642 623.4L1644.1 628.5L1646.2 631.7L1648.3 632.7L1650.4 632.4L1652.5 631.8L1654.6 631.7L1656.7 632.3L1658.8 633.1L1660.9 633.7L1665.1 634.1L1669.3 633.9L1671.4 633.3L1675.6 629.9L1677.7 629.9L1681.9 633.3L1684 634L1692.4 634.2L1700.8 634.2L1709.2 634.3L1717.6 634.4L1723.9 634.5L1726 634.3L1728.1 633.1L1730.2 631.6L1732.3 632.5L1734.4 634.1L1736.5 634.6L1744.9 634.8L1753.3 634.9L1761.7 635L1765.9 634.9L1768 634.7L1774.3 633.1L1778.5 631.1L1780.6 630.7L1782.7 631.8L1784.8 633.4L1786.9 634.6L1789 634.9L1791.1 634.7L1793.2 634L1797.4 631.4L1799.5 631.1L1801.6 632.1L1803.7 633.5L1805.8 634.5L1807.9 634.9L1812.1 634.9L1814.2 634.5L1816.3 633.5L1818.4 631.5L1820.5 629.2L1822.6 627.9L1824.7 628.5L1826.8 630.3L1828.9 631.9L1831 632.3L1833.1 632.2L1835.2 632.3L1839.4 633.8L1841.5 634.3L1849.9 634.6L1856.2 634.4L1858.3 634.2L1860.4 633.6L1862.5 632.8L1864.6 632.4L1866.7 632.8L1868.8 633.6L1870.9 634.1L1879.3 634.2L1887.7 634.1L1889.8 633.8L1891.9 632.8L1894 631.4L1896.1 631L1898.2 631.1L1900.3 629.4L1902.4 627.3L1904.5 627.4L1906.6 629.2L1908.7 631.3L1910.8 632.9L1912.9 633.6L1915 632.4L1917.1 618L1919.2 585.8L1923.4 502.7L1925.5 469.6L1928.4 451L1929.7 454.9L1931.8 476.3L1933.9 512.1L1938.1 594.7L1940.2 623.4L1942.3 632L1944.4 631.7L1946.5 629.5L1948.6 626.3L1950.7 624.9L1952.8 625.9L1959.1 632.5L1961.2 633.8L1963.3 634.4L1971.7 634.7L1980.1 634.8L1986.4 634.8L1988.5 634.7L1990.6 634.1L1994.8 632.2L1996.9 632.1L2001.1 634L2003.2 634.7L2005.3 634.8L2007.4 634.3L2009.5 632.9L2011.6 632.1L2013.7 633L2015.8 634.3L2017.9 635L2026.3 635.1L2028.4 624.4L2030.5 562.9L2032.6 462.2L2034.7 348.9L2036.8 320L2043.1 320L2045.2 364.7L2047.3 478L2049.4 574.6L2051.5 628.8L2053.6 634.9L2057.8 634.8L2059.9 634.4L2064.1 633.4L2066.2 633.3L2068.3 633.6L2070.4 633.3L2072.5 632.3L2074.6 632.5L2076.7 633.8L2078.8 634.5L2087.2 634.5L2089.3 634.3L2091.4 634L2095.6 632.5L2097.7 631.9L2101.9 632.3L2104 616.8L2106.1 578.1L2110.3 483.5L2112.4 453.7L2113.9 447L2116.6 468.2L2118.7 508.4L2120.8 557.6L2122.9 602.3L2125 629.5L2127.1 634.1L2135.5 634.1L2143.9 634.1L2150.2 634L2152.3 633.1L2154.4 631.2L2156.5 630.2L2160.7 633.5L2162.8 634.1L2169.1 634.2L2171.2 633.8L2173.3 632.9L2175.4 632.3L2177.5 633L2179.6 633.9L2181.7 634.3L2183.8 634.3L2185.9 634L2190.1 632.2L2192.2 632.2L2196.4 634L2198.5 634.5L2206.9 634.7L2215.3 634.8L2219.5 634.9L2221.6 619.4L2223.7 579.3L2227.9 473.4L2230 437.1L2231.8 426.4L2234.2 445.1L2236.3 487.3L2240.5 592.7L2242.6 626.7L2244.7 635.1L2253.1 635.1L2261.5 635.1L2269.9 635.1L2278.3 635L2286.7 634.9L2295.1 634.8L2303.5 634.7L2307.7 634.6L2309.8 634.4L2311.9 633.9L2314 632.8L2318.2 629.4L2320.3 628.5L2322.4 629L2324.5 630.6L2326.6 631.5L2328.7 631.2L2330.8 631.3L2335 633.7L2337.1 634.2L2343.4 634.2L2345.5 633.9L2347.6 632.4L2349.7 630.4L2351.8 631L2353.9 633.1L2356 633.8L2358.1 633.2L2360.2 632.3L2362.3 631.8L2364.4 631.6L2366.5 631.1L2368.6 631.1L2372.8 633.1L2374.9 631.8L2377 628L2379.1 627.9L2381.2 631.8L2383.3 633.8L2385.4 634.1L2393.8 634.2L2395.9 634.1L2398 633.9L2400.1 633.1L2402.2 631.5L2404.3 629.3L2406.4 627.6L2408.5 627.5L2410.6 629.2L2412.7 631.5L2414.8 633.2L2416.9 634L2419 634.4L2427.4 634.6L2435.8 634.7L2444.2 634.8L2452.6 634.9L2454.7 634.9L2456.8 627.7L2458.9 597.1L2463.1 501.5L2465.2 463.1L2467.6 446L2469.4 455.7L2471.5 488.8L2475.7 585L2477.8 621.2L2479.9 634.9L2482 634.4L2484.1 633.6L2486.2 633.1L2488.3 633.5L2490.4 634.4L2492.5 634.9L2500.9 635.1L2503 635.1L2505.1 627.6L2507.2 595.8L2511.4 496.6L2513.5 456.7L2515.9 439L2517.7 449.1L2519.8 483.5L2524 583.2L2526.1 620.8L2528.2 634.7L2530.3 634.4L2532.4 633.6L2534.5 633.2L2538.7 634.3L2540.8 634.6L2549.2 634.5L2557.6 634.4L2566 634.3L2570.2 634.1L2574.4 632.8L2576.5 633L2578.6 633.8L2580.7 634.1L2582.8 634.1L2584.9 633.9L2587 633.2L2589.1 631.1L2593.3 623.3L2595.4 622.5L2597.5 625.2L2599.6 600.2L2601.7 544.3L2603.8 479.3L2605.9 423.6L2608 392.6L2608.9 389.4L2610.1 395.1L2612.2 430.3L2614.3 488.5L2616.4 553.2L2618.5 606.5L2620.6 631.4L2624.8 632.1L2626.9 633.3L2629 634L2633.2 634.2L2635.3 634L2637.4 632.8L2639.5 630.8L2641.6 630.7L2643.7 632.8L2645.8 634.1L2647.9 634.4L2656.3 634.5L2664.7 634.7L2673.1 634.8L2681.5 634.9L2685.7 634.9L2687.8 634.7L2689.9 634.2L2692 633.3L2694.1 633L2698.3 634.5L2700.4 634.9L2708.8 635.1L2717.2 635.1L2725.6 635.1L2731.9 635L2736.1 634.5L2740.3 633.6L2742.4 633.6L2748.7 634.7L2757.1 634.9L2765.5 634.8L2773.9 634.6L2782.3 634.5L2788.6 634.4" stroke="#ea3323"/>
</g>
<text x="1111.1" y="302.4" fill="#000000">G</text>
<text x="1111.1" y="321.0" fill="#000000">G</text>
<text x="1138.0" y="302.4" fill="#0735f7">C</text>
<text x="1138.0" y="321.0" fill="#0735f7">C</text>
<text x="1184.3" y="302.4" fill="#000000">G</text>
<text x="1184.3" y="321.0" fill="#000000">G</text>
<text x="1223.0" y="302.4" fill="#0735f7">C</text>
<text x="1223.0" y="321.0" fill="#0735f7">C</text>
<text x="1274.0" y="302.4" fill="#0735f7">C</text>
<text x="1274.0" y="321.0" fill="#0735f7">C</text>
<text x="1301.9" y="302.4" fill="#000000">G</text>
<text x="1301.9" y="321.0" fill="#000000">G</text>
<text x="1343.6" y="302.4" fill="#0735f7">C</text>
<text x="1343.6" y="321.0" fill="#0735f7">C</text>
<text x="1366.8" y="302.4" fill="#6df043">A</text>
<text x="1366.8" y="321.0" fill="#6df043">A</text>
<text x="1387.1" y="302.4" fill="#ea3323">T</text>
<text x="1387.1" y="321.0" fill="#ea3323">T</text>
<text x="1417.8" y="302.4" fill="#0735f7">C</text>
<text x="1417.8" y="321.0" fill="#6df043">A</text>
<text x="1443.2" y="302.4" fill="#000000">G</text>
<text x="1443.2" y="321.0" fill="#000000">G</text>
<text x="1471.6" y="302.4" fill="#0735f7">C</text>
<text x="1471.6" y="321.0" fill="#0735f7">C</text>
<text x="1487.7" y="302.4" fill="#ea3323">T</text>
<text x="1487.7" y="321.0" fill="#6df043">A</text>
<text x="1523.2" y="302.4" fill="#0735f7">C</text>
<text x="1523.2" y="321.0" fill="#0735f7">C</text>
<text x="1548.3" y="302.4" fill="#ea3323">T</text>
<text x="1548.3" y="321.0" fill="#ea3323">T</text>
<text x="1568.1" y="302.4" fill="#6df043">A</text>
<text x="1568.1" y="321.0" fill="#6df043">A</text>
<text x="1582.5" y="302.4" fill="#ea3323">T</text>
<text x="1582.5" y="321.0" fill="#ea3323">T</text>
<text x="1606.9" y="302.4" fill="#000000">G</text>
<text x="1606.9" y="321.0" fill="#000000">G</text>
<text x="1637.5" y="302.4" fill="#000000">G</text>
<text x="1637.5" y="321.0" fill="#000000">G</text>
<text x="1668.5" y="302.4" fill="#6df043">A</text>
<text x="1668.5" y="321.0" fill="#6df043">A</text>
<text x="1688.8" y="302.4" fill="#000000">G</text>
<text x="1688.8" y="321.0" fill="#000000">G</text>
<text x="1711.4" y="302.4" fill="#000000">G</text>
<text x="1711.4" y="321.0" fill="#000000">G</text>
<text x="1748.6" y="302.4" fill="#6df043">A</text>
<text x="1748.6" y="321.0" fill="#6df043">A</text>
<text x="1762.0" y="302.4" fill="#000000">G</text>
<text x="1762.0" y="321.0" fill="#000000">G</text>
<text x="1787.6" y="302.4" fill="#0735f7">C</text>
<text x="1787.6" y="321.0" fill="#0735f7">C</text>
<text x="1817.5" y="302.4" fill="#0735f7">C</text>
<text x="1817.5" y="321.0" fill="#0735f7">C</text>
<text x="1838.6" y="302.4" fill="#000000">G</text>
<text x="1838.6" y="321.0" fill="#000000">G</text>
<text x="1861.0" y="302.4" fill="#0735f7">C</text>
<text x="1861.0" y="321.0" fill="#0735f7">C</text>
<text x="1878.1" y="302.4" fill="#6df043">A</text>
<text x="1878.1" y="321.0" fill="#6df043">A</text>
<text x="1898.7" y="302.4" fill="#000000">G</text>
<text x="1898.7" y="321.0" fill="#000000">G</text>
<text x="1930.6" y="302.4" fill="#ea3323">T</text>
<text x="1930.6" y="321.0" fill="#ea3323">T</text>
<text x="1958.1" y="302.4" fill="#0735f7">C</text>
<text x="1958.1" y="321.0" fill="#6df043">A</text>
<text x="1992.0" y="302.4" fill="#000000">G</text>
<text x="1992.0" y="321.0" fill="#000000">G</text>
<text x="2023.7" y="302.4" fill="#6df043">A</text>
<text x="2023.7" y="321.0" fill="#6df043">A</text>
<text x="2041.5" y="302.4" fill="#ea3323">T</text>
<text x="2041.5" y="321.0" fill="#ea3323">T</text>
<text x="2065.2" y="302.4" fill="#0735f7">C</text>
<text x="2065.2" y="321.0" fill="#0735f7">C</text>
<text x="2094.1" y="302.4" fill="#0735f7">C</text>
<text x="2094.1" y="321.0" fill="#0735f7">C</text>
<text x="2111.4" y="302.4" fill="#ea3323">T</text>
<text x="2111.4" y="321.0" fill="#ea3323">T</text>
<text x="2132.3" y="302.4" fill="#6df043">A</text>
<text x="2132.3" y="321.0" fill="#6df043">A</text>
<text x="2150.1" y="302.4" fill="#000000">G</text>
<text x="2150.1" y="321.0" fill="#000000">G</text>
<text x="2181.0" y="302.4" fill="#0735f7">C</text>
<text x="2181.0" y="321.0" fill="#0735f7">C</text>
<text x="2203.9" y="302.4" fill="#000000">G</text>
<text x="2203.9" y="321.0" fill="#000000">G</text>
<text x="2231.1" y="302.4" fill="#ea3323">T</text>
<text x="2231.1" y="321.0" fill="#ea3323">T</text>
<text x="2257.5" y="302.4" fill="#0735f7">C</text>
<text x="2257.5" y="321.0" fill="#0735f7">C</text>
<text x="2280.6" y="302.4" fill="#000000">G</text>
<text x="2280.6" y="321.0" fill="#000000">G</text>
<text x="2300.0" y="302.4" fill="#6df043">A</text>
<text x="2300.0" y="321.0" fill="#6df043">A</text>
<text x="2325.6" y="302.4" fill="#000000">G</text>
<text x="2325.6" y="321.0" fill="#000000">G</text>
<text x="2344.7" y="302.4" fill="#0735f7">C</text>
<text x="2344.7" y="321.0" fill="#0735f7">C</text>
<text x="2373.7" y="302.4" fill="#0735f7">C</text>
<text x="2373.7" y="321.0" fill="#0735f7">C</text>
<text x="2395.5" y="302.4" fill="#0735f7">C</text>
<text x="2395.5" y="321.0" fill="#0735f7">C</text>
<text x="2420.1" y="302.4" fill="#0735f7">C</text>
<text x="2420.1" y="321.0" fill="#0735f7">C</text>
<text x="2446.5" y="302.4" fill="#0735f7">C</text>
<text x="2446.5" y="321.0" fill="#0735f7">C</text>
<text x="2462.9" y="302.4" fill="#ea3323">T</text>
<text x="2462.9" y="321.0" fill="#ea3323">T</text>
<text x="2494.8" y="302.4" fill="#0735f7">C</text>
<text x="2494.8" y="321.0" fill="#0735f7">C</text>
<text x="2517.2" y="302.4" fill="#ea3323">T</text>
<text x="2517.2" y="321.0" fill="#ea3323">T</text>
<text x="2537.3" y="302.4" fill="#000000">G</text>
<text x="2537.3" y="321.0" fill="#000000">G</text>
<text x="2560.2" y="302.4" fill="#6df043">A</text>
<text x="2560.2" y="321.0" fill="#6df043">A</text>
<text x="2585.5" y="302.4" fill="#000000">G</text>
<text x="2585.5" y="321.0" fill="#000000">G</text>
<text x="2606.4" y="302.4" fill="#ea3323">T</text>
<text x="2606.4" y="321.0" fill="#ea3323">T</text>
<text x="2629.8" y="302.4" fill="#0735f7">C</text>
<text x="2629.8" y="321.0" fill="#0735f7">C</text>
<text x="2648.6" y="302.4" fill="#6df043">A</text>
<text x="2648.6" y="321.0" fill="#6df043">A</text>
<text x="2667.2" y="302.4" fill="#000000">G</text>
<text x="2667.2" y="321.0" fill="#000000">G</text>
<text x="2690.1" y="302.4" fill="#000000">G</text>
<text x="2690.1" y="321.0" fill="#000000">G</text>
<text x="2717.5" y="302.4" fill="#6df043">A</text>
<text x="2717.5" y="321.0" fill="#6df043">A</text>
<text x="2750.2" y="302.4" fill="#6df043">A</text>
<text x="2750.2" y="321.0" fill="#6df043">A</text>
<text x="2764.5" y="302.4" fill="#6df043">A</text>
<text x="2764.5" y="321.0" fill="#6df043">A</text>
<text x="2786.4" y="302.4" fill="#0735f7">C</text>
<text x="2786.4" y="321.0" fill="#0735f7">C</text>
<g clip-path="url(#rc1)" fill="none" stroke-width="1.5" stroke-linejoin="round">
<path d="M1108.6 1035.1L1110.7 1034.1L1112.8 1032.9L1114.9 1033.3L1117 1023.2L1119.1 979.5L1123.3 857.7L1125.4 819.3L1126.7 812.2L1129.6 846L1131.7 902.3L1133.8 965.7L1135.9 1015.3L1138 1035L1142.2 1034.9L1144.3 1034.1L1146.4 1032.1L1148.5 1030.9L1152.7 1034.2L1154.8 1034.5L1156.9 1033.8L1159 1032.6L1161.1 1031.8L1163.2 1032.2L1165.3 1033.3L1167.4 1033.7L1171.6 1032.1L1173.7 1033L1175.8 1034.1L1177.9 1034.5L1186.3 1034.5L1190.5 1034.3L1192.6 1033.8L1194.7 1033L1196.8 1033L1198.9 1033.8L1201 1034.2L1205.2 1034.3L1207.3 1034.1L1209.4 1033.5L1213.6 1030.7L1215.7 1030.4L1217.8 1031.3L1219.9 1032.6L1222 1033.6L1224.1 1034.1L1232.5 1034.3L1240.9 1034.4L1243 1034.3L1245.1 1034.1L1249.3 1032.6L1251.4 1031.8L1255.6 1029.2L1257.7 1026.7L1259.8 1003.8L1264 924L1266.1 896.2L1267.7 889.2L1270.3 907.2L1272.4 942.3L1274.5 984L1276.6 1018.5L1278.7 1034.3L1280.8 1034.3L1282.9 1033.3L1287.1 1030.4L1289.2 1030L1291.3 1030.9L1295.5 1033.9L1297.6 1034.7L1299.7 1035L1308.1 1035.2L1312.3 1035.2L1314.4 1013.1L1316.5 939L1320.7 739L1322.8 720.2L1324 720.2L1327 727.4L1329.1 821.5L1331.2 925.4L1333.3 1005.3L1335.4 1033.6L1337.5 1034.6L1339.6 1035.1L1348 1035.3L1356.4 1035.2L1364.8 1035.1L1373.2 1035L1381.6 1034.9L1390 1034.8L1398.4 1034.7L1400.5 1034L1402.6 1014.7L1404.7 972.2L1406.8 920.9L1408.9 877.6L1411.5 855.5L1413.1 864.1L1415.2 898.3L1419.4 996.5L1421.5 1027.5L1423.6 1033.9L1425.7 1034.3L1434.1 1034.3L1438.3 1034.1L1442.5 1032.4L1444.6 1032.6L1446.7 1033.4L1448.8 1032.9L1450.9 1031.8L1453 1032.5L1455.1 1033.8L1457.2 1034.3L1465.6 1034.3L1474 1034.4L1482.4 1034.5L1490.8 1034.5L1492.9 1033.7L1497.1 1027.3L1499.2 1028.8L1501.3 1031.4L1503.4 1017.7L1505.5 976.8L1507.6 925.5L1509.7 880.7L1512.5 855.2L1513.9 861.8L1516 893.9L1520.2 992.3L1522.3 1025.4L1524.4 1005.8L1526.5 948.3L1528.6 880.2L1530.7 823.6L1533.2 796.4L1534.9 809.3L1537 856.1L1541.2 986.5L1543.3 1027.6L1545.4 1030.7L1547.5 994.4L1551.7 865.6L1553.8 815L1555.8 797.4L1558 818.6L1560.1 871.6L1562.2 939.1L1564.3 999.2L1566.4 1027.4L1568.5 1031.2L1570.6 1033.1L1576.9 1034.8L1581.1 1035.2L1589.5 1035.2L1595.8 1035.1L1597.9 1034.9L1602.1 1033.6L1604.2 1034.2L1606.3 1033.2L1608.4 1001.8L1610.5 939.9L1612.6 867.9L1614.7 809.2L1617.1 782.6L1618.9 797.8L1621 848.8L1625.2 986.5L1627.3 1028.2L1629.4 1034.7L1637.8 1034.6L1646.2 1034.5L1652.5 1034.4L1654.6 1034.2L1656.7 1033.8L1660.9 1032.4L1663 1032.5L1667.2 1033.8L1669.3 1034.2L1677.7 1034.3L1686.1 1034.3L1694.5 1034.3L1702.9 1034.4L1711.3 1034.5L1715.5 1034.3L1717.6 1033.4L1719.7 1031.8L1721.8 1032.1L1723.9 1033.8L1726 1034.5L1728.1 1034.6L1730.2 1034.2L1734.4 1031.8L1736.5 1032.5L1738.6 1034L1740.7 1034.7L1749.1 1034.9L1757.5 1035L1759.6 1035L1761.7 1034.8L1765.9 1033.2L1768 1033.4L1770.1 1034.4L1772.2 1035L1780.6 1035.2L1782.7 1035.2L1784.8 1034.7L1786.9 1033.1L1789 1032.3L1791.1 1033.4L1793.2 1033.4L1795.3 1031.3L1797.4 1028.9L1799.5 1028.5L1801.6 1030.5L1803.7 1033L1805.8 1034.3L1807.9 1031.6L1810 1000.2L1812.1 941.6L1814.2 875.9L1816.3 824.3L1818.5 803.7L1820.5 820.8L1822.6 870.1L1826.8 995.5L1828.9 1029.2L1831 1010.8L1833.1 968L1835.2 919L1837.3 879.9L1839.6 863.2L1841.5 874.7L1843.6 910.4L1847.8 1003.9L1849.9 1030.8L1852 1016.7L1854.1 976.1L1856.2 926.2L1858.3 883.3L1861 860.2L1862.5 867.6L1864.6 899.8L1868.8 995.6L1870.9 1026.6L1873 1007.7L1875.1 950.7L1877.2 881.9L1879.3 823.8L1881.9 794.2L1883.5 805.7L1885.6 851.6L1889.8 983.4L1891.9 1026L1894 1034.3L1898.2 1034.3L1900.3 1033.9L1902.4 1032.2L1904.5 1028.8L1906.6 1027.4L1908.7 1028.1L1910.8 1003.6L1915 903.9L1917.1 864.8L1919.1 851.2L1921.3 867.6L1923.4 908.6L1925.5 960.8L1927.6 1007.4L1929.7 1032.3L1931.8 1026.5L1933.9 989.9L1938.1 880.5L1940.2 843.6L1941.7 835.2L1944.4 861.6L1946.5 910.7L1948.6 967.7L1950.7 1014.1L1952.8 1034.2L1954.9 1034.6L1963.3 1034.7L1971.7 1034.8L1980.1 1034.9L1984.3 1034.9L1986.4 1034.5L1988.5 1032.9L1990.6 1032.1L1992.7 1033.6L1994.8 1034.8L1996.9 1035.1L2005.3 1035.2L2013.7 1035.2L2015.8 1035L2022.1 1033.4L2024.2 1033.3L2026.3 1033.7L2030.5 1034.9L2034.7 1035.3L2043.1 1035.3L2051.5 1035.2L2053.6 1035.1L2055.7 1034.5L2059.9 1032.7L2062 1033L2064.1 1034.1L2066.2 1034.8L2068.3 1035L2074.6 1034.9L2076.7 1034.3L2078.8 1032.9L2080.9 1032.6L2083 1033.9L2085.1 1034.7L2093.5 1034.7L2099.8 1034.5L2101.9 1033.9L2104 1031.7L2108.2 1021.7L2110.3 1021.8L2112.4 1025.1L2114.5 1027L2116.6 1026.9L2118.7 1027.9L2122.9 1032.8L2125 1034L2127.1 1034.3L2135.5 1034.3L2143.9 1034.3L2152.3 1034.3L2160.7 1034.3L2169.1 1034.4L2177.5 1034.5L2185.9 1034.6L2194.3 1034.7L2202.7 1034.8L2211.1 1034.9L2215.3 1034.8L2217.4 1034.3L2219.5 1033.2L2221.6 1031.5L2223.7 1030.2L2225.8 1030.4L2230 1033.6L2232.1 1034.5L2234.2 1034.6L2236.3 1033.7L2238.4 1031.8L2240.5 1030.3L2242.6 1030.8L2244.7 1032.7L2246.8 1034.4L2248.9 1035.1L2257.3 1035.3L2265.7 1035.3L2274.1 1035.3L2282.5 1035.2L2290.9 1035.2L2299.3 1035.1L2307.7 1035L2316.1 1034.9L2324.5 1034.7L2328.7 1034.6L2330.8 1034.4L2332.9 1033.8L2337.1 1031.6L2339.2 1031.1L2341.3 1031.6L2345.5 1033.7L2347.6 1034.2L2353.9 1034.4L2356 1034.1L2358.1 1032.9L2362.3 1026.1L2364.4 1026.4L2366.5 1030L2368.6 1033L2370.7 1034.1L2372.8 1034.3L2377 1034.1L2379.1 1033.4L2381.2 1032.1L2383.3 1031.3L2385.4 1032L2387.5 1033.4L2389.6 1034.1L2398 1034.4L2400.1 1034.3L2402.2 1033.6L2404.3 1031.1L2406.4 1026.4L2408.5 1024.2L2412.7 1032L2414.8 1032.8L2419 1033.5L2423.2 1033.1L2427.4 1034.2L2429.5 1034.6L2437.9 1034.8L2446.3 1034.9L2454.7 1035L2463.1 1035.1L2471.5 1035.2L2475.7 1035.1L2477.8 1034.7L2479.9 1033.6L2482 1031.7L2484.1 1029.3L2486.2 1027.4L2488.3 1026.9L2490.4 1028.4L2494.6 1033.3L2496.7 1034.6L2498.8 1027.5L2500.9 997.1L2505.1 909.6L2507.2 881.1L2508.6 875.2L2511.4 897.9L2513.5 937.7L2515.6 983.3L2517.7 1019.7L2519.8 1033L2521.9 1026.1L2524 998.6L2528.2 922.6L2530.3 899.5L2531.5 895.7L2534.5 918.2L2536.6 954L2538.7 993.5L2540.8 1023.8L2542.9 1034.9L2547.1 1034.9L2549.2 1034.6L2551.3 1033.9L2553.4 1032.6L2555.5 1031.8L2557.6 1032.5L2559.7 1033.8L2561.8 1034.5L2570.2 1034.6L2578.6 1034.5L2587 1034.3L2589.1 1026.8L2591.2 998.1L2595.4 916.9L2597.5 891.3L2598.8 886.6L2601.7 909.1L2603.8 946.7L2605.9 988.9L2608 1022L2610.1 1032.4L2612.2 1010.4L2614.3 969.1L2616.4 922.6L2618.5 886.2L2620.7 871.6L2622.7 883.7L2624.8 918.5L2629 1007.1L2631.1 1031.5L2633.2 1034.4L2635.3 1034.2L2637.4 1033.5L2639.5 1031.4L2641.6 1028.6L2643.7 1027.5L2645.8 1029.5L2647.9 1032.3L2650 1034L2652.1 1034.5L2660.5 1034.7L2662.6 1034.5L2664.7 1033.7L2666.8 1031.5L2668.9 1029.8L2671 1029.5L2673.1 1030.2L2677.3 1033.4L2679.4 1034.4L2681.5 1034.8L2685.7 1034.8L2692 1033.7L2694.1 1033.6L2700.4 1034.9L2702.5 1035L2704.6 1034.6L2706.7 1033.8L2708.8 1032.8L2710.9 1027.1L2713 991.7L2717.2 875.3L2719.3 833.5L2721 822L2723.5 846.3L2725.6 896.8L2727.7 957.6L2729.8 1009L2731.9 1034.3L2734 1035.3L2742.4 1035.3L2750.8 1035.2L2757.1 1035.1L2759.2 1034.5L2761.3 1033.1L2763.4 1031.9L2765.5 1032.2L2769.7 1032L2773.9 1034.6L2776 1033.8L2778.1 993.7L2780.2 907.5L2782.3 803.7L2784.4 720.2L2788.6 720.2" stroke="#6df043"/>
<path d="M1108.6 829.2L1110.7 847.6L1112.8 893.4L1114.9 951.9L1117 1004L1119.1 1031.9L1121.2 1034.3L1129.6 1034.3L1138 1034.1L1140.1 1033.7L1142.2 1032.9L1146.4 1030.6L1148.5 1030.4L1150.6 1031.2L1154.8 1033.5L1156.9 1034L1159 1034.2L1161.1 1033.9L1163.2 1033L1165.3 1032.4L1167.4 1033L1169.5 1033.9L1171.6 1034.1L1173.7 1032.9L1175.8 1030.3L1177.9 1029.9L1180 1032.4L1182.1 1034.2L1184.2 1034.6L1192.6 1034.7L1201 1034.8L1209.4 1035L1213.6 1034.9L1215.7 1034.5L1219.9 1032.4L1222 1032.2L1226.2 1034.4L1228.3 1035L1236.7 1035.2L1245.1 1035.3L1247.2 1028.6L1249.3 999.9L1253.5 914.5L1255.6 885.8L1257.1 879.2L1259.8 899.8L1261.9 938.1L1264 982.5L1266.1 1018.8L1268.2 1034.9L1270.3 1035.2L1278.7 1035.2L1287.1 1035.1L1295.5 1035L1303.9 1034.9L1312.3 1034.7L1314.4 1034.5L1316.5 1034L1318.6 1033.2L1322.8 1030.7L1324.9 1030.7L1329.1 1033.7L1331.2 1033.2L1333.3 1005.9L1335.4 948.6L1337.5 880.7L1339.6 824.3L1342.1 797.2L1343.8 810L1345.9 856.7L1350.1 986.7L1352.2 1025.9L1354.3 1032.6L1356.4 1033.7L1358.5 1034.2L1360.6 1026.2L1362.7 988.3L1366.9 875.1L1369 836.9L1370.5 828.2L1373.2 855.6L1375.3 906.3L1377.4 965.3L1379.5 1013.4L1381.6 1030.6L1383.7 1032.3L1385.8 1033.7L1387.9 1034.2L1396.3 1034.4L1404.7 1034.5L1413.1 1034.6L1421.5 1034.7L1427.8 1034.6L1429.9 1034L1434.1 1031.3L1438.3 1029.9L1440.4 1029.9L1444.6 1033.8L1446.7 1034.8L1448.8 1035L1457.2 1035.1L1465.6 1035.2L1474 1035.3L1482.4 1035.3L1490.8 1035.3L1499.2 1035.3L1507.6 1035.2L1516 1035.2L1524.4 1035.1L1532.8 1035L1541.2 1034.9L1543.3 1034.7L1545.4 1033.8L1547.5 1030.9L1549.6 1026.7L1551.7 1024.7L1553.8 1026.7L1555.9 1030.3L1558 1033.1L1560.1 1034.2L1562.2 1034.5L1564.3 1034.6L1566.4 1028.8L1568.5 986.6L1572.7 841.6L1574.8 786.4L1576.7 768.5L1579 794.4L1581.1 855.1L1583.2 931L1585.3 997.4L1587.4 1030.5L1589.5 1033.9L1591.6 1034.3L1600 1034.3L1608.4 1034.3L1616.8 1034.3L1625.2 1034.4L1631.5 1034.4L1633.6 1023.5L1635.7 981.2L1639.9 863.2L1642 826.1L1643.3 819.2L1646.2 851.9L1648.3 906.5L1650.4 967.8L1652.5 1016L1654.6 1031.7L1656.7 1033.6L1658.8 1034.5L1667.2 1034.9L1675.6 1035L1684 1035.1L1690.3 1035.1L1692.4 1034.6L1694.5 1032.7L1696.6 1029.4L1698.7 1028.4L1702.9 1034.1L1705 1035.1L1707.1 1035L1711.3 1033.4L1713.4 1026.7L1715.5 995.9L1719.7 905.7L1721.8 876.3L1723.2 870.2L1726 893.6L1728.1 934.7L1730.2 981.6L1732.3 1019.2L1734.4 1033L1736.5 1030.8L1738.6 1002.1L1742.8 897.5L1744.9 856.5L1746.9 842.2L1749.1 859.4L1751.2 902.4L1753.3 957.2L1755.4 1006L1757.5 1032.8L1759.6 1035L1768 1034.9L1774.3 1034.7L1776.4 1033.8L1778.5 1031.7L1780.6 1030.8L1782.7 1032L1784.8 1031.5L1786.9 1028.5L1789 1028.1L1791.1 1031.4L1793.2 1033.9L1795.3 1034.5L1803.7 1034.5L1812.1 1034.4L1814.2 1034.3L1816.3 1033.3L1818.4 1030L1820.5 1027.3L1822.6 1029.9L1824.7 1033.2L1826.8 1034.2L1835.2 1034.3L1843.6 1034.3L1852 1034.3L1860.4 1034.3L1862.5 1034.1L1864.6 1033.4L1868.8 1030.6L1870.9 1030.8L1875.1 1033.6L1877.2 1034.3L1879.3 1034.5L1881.4 1034.5L1883.5 1034.2L1885.6 1033.4L1887.7 1032.4L1889.8 1031.8L1891.9 1031.7L1894 1006.6L1896.1 943.5L1898.2 866.1L1900.3 799.6L1903 763.7L1904.5 775.1L1906.6 825.2L1910.8 973.7L1912.9 1023.8L1915 1034.5L1919.2 1033.6L1921.3 1033.8L1925.5 1034.9L1933.9 1035.2L1942.3 1035.3L1950.7 1035.3L1954.9 1035.3L1957 1024.3L1959.1 984.7L1963.3 874.5L1965.4 839.7L1966.7 833.3L1969.6 863.9L1971.7 914.9L1973.8 972.2L1975.9 1017.2L1978 1033.2L1980.1 1034.1L1982.2 1034.4L1984.3 1033.2L1986.4 1031.4L1988.5 1031.5L1990.6 1033.4L1992.7 1034.7L1994.8 1035L1999 1034.9L2001.1 1034.7L2003.2 1033.8L2005.3 1031.4L2007.4 1028.4L2009.5 1028.2L2013.7 1033.5L2015.8 1034.5L2024.2 1034.6L2032.6 1034.5L2041 1034.4L2043.1 1034.4L2045.2 1034L2047.3 1033L2049.4 1030.9L2051.5 1028.3L2053.6 1027.4L2057.8 1030.2L2059.9 1011.7L2062 972.6L2064.1 928.5L2066.2 894L2068.4 880.2L2070.4 891.7L2072.5 924.6L2076.7 1008.6L2078.8 1029.7L2080.9 1032L2083 1032.2L2085.1 1031L2087.2 1028.4L2089.3 1028L2091.4 1031L2093.5 1033.6L2095.6 1034.3L2104 1034.5L2106.1 1034.4L2108.2 1034.1L2110.3 1033.3L2114.5 1030.9L2116.6 1030.8L2118.7 1031.7L2120.8 1033.1L2122.9 1034.1L2125 1034.6L2129.2 1034.8L2131.3 1034.6L2133.4 1033.9L2135.5 1031.9L2137.6 1029.4L2139.7 1028.2L2141.8 1028.3L2143.9 1029.3L2146 1029.8L2150.2 1028L2152.3 1028.5L2154.4 1029.7L2156.5 1011.3L2158.6 961.8L2160.7 902L2162.8 851.5L2165.4 825.8L2167 835.8L2169.1 875.7L2173.3 990.2L2175.4 1026.3L2177.5 1031.2L2179.6 1021.8L2181.7 980.2L2185.9 871.1L2188 839.2L2189.1 834.6L2190.1 838.4L2192.2 869L2196.4 977.7L2198.5 1020.3L2200.6 1029.8L2202.7 1000.3L2206.9 907L2209 873.4L2210.7 864.2L2213.2 883.7L2215.3 924.2L2217.4 973L2219.5 1014.2L2221.6 1034.3L2223.7 1025L2225.8 990.9L2230 898.8L2232.1 870.8L2233.3 866.2L2236.3 893.5L2238.4 936.8L2240.5 984.6L2242.6 1021.4L2244.7 1034.7L2246.8 1018.2L2248.9 978.2L2251 928.3L2253.1 884.6L2255.9 859.7L2257.3 866.2L2259.4 897.4L2263.6 993.4L2265.7 1026.6L2267.8 1034.5L2276.2 1034.4L2284.6 1034.4L2293 1034.3L2301.4 1034.3L2309.8 1034.3L2318.2 1034.3L2320.3 1034.3L2322.4 1034.1L2324.5 1033.1L2326.6 1032.4L2330.8 1034.2L2337.1 1034.5L2339.2 1031.9L2341.3 1005.8L2343.4 959L2345.5 907.3L2347.6 867.6L2349.7 852.7L2351.8 867.6L2353.9 907.3L2356 959L2358.1 1005.8L2360.2 1032.1L2362.3 1034.8L2364.4 1034.9L2366.5 1028.6L2368.6 993.9L2372.8 883.4L2374.9 843.7L2376.6 832.8L2379.1 855.9L2381.2 903.8L2383.3 961.5L2385.4 1010.3L2387.5 1034L2389.6 1033.9L2391.7 1031.3L2393.8 1028.1L2395.9 1026.8L2398 1028.7L2400.1 1032.1L2402.2 1034.4L2404.3 1035.1L2406.4 1035.2L2408.5 1035L2410.6 1034.1L2412.7 1031.8L2414.8 1029L2416.9 1028.1L2419 1029.7L2421.1 1031.9L2423.2 1033.6L2425.3 1034.6L2427.4 1035L2429.5 1034.7L2431.6 1033.7L2433.7 1033.3L2435.8 1032.7L2437.9 1007.7L2440 959.3L2442.1 904L2444.2 859.8L2446.5 840.9L2448.4 853.9L2450.5 894.2L2454.7 999.8L2456.8 1027L2458.9 1026.7L2461 1010.7L2463.1 959.7L2465.2 898.3L2467.3 846.5L2469.9 820L2471.5 830.3L2473.6 871.3L2477.8 988.9L2479.9 1026.3L2482 1017.8L2484.1 979.4L2486.2 932.2L2488.3 891.7L2491 869.8L2492.5 876.8L2494.6 907.3L2498.8 997.7L2500.9 1027.9L2503 1034.5L2511.4 1034.4L2519.8 1034.3L2528.2 1034.3L2536.6 1034.3L2545 1034.3L2553.4 1034.4L2561.8 1034.4L2568.1 1034.5L2570.2 1015.5L2572.3 962.8L2574.4 894.3L2576.5 832.2L2578.6 796.9L2579.5 793.2L2580.7 799.8L2582.8 839.9L2587 971.8L2589.1 1020.6L2591.2 1033.3L2593.3 1033.7L2595.4 1034.5L2597.5 1034.8L2601.7 1034.8L2603.8 1034.3L2605.9 1033.1L2608 1030.7L2610.1 1026.6L2612.2 1022L2614.3 1022.7L2616.4 1028.5L2618.5 1032.7L2620.6 1034.4L2622.7 1035L2631.1 1035.2L2639.5 1035.3L2647.9 1035.2L2650 1035.1L2652.1 1034.6L2656.3 1033L2658.4 1032.8L2660.5 1033.4L2662.6 1034.3L2664.7 1034.9L2668.9 1035.2L2677.3 1035.2L2681.5 1035L2683.6 1034.7L2685.7 1034L2689.9 1032.2L2692 1032.1L2694.1 1032.8L2696.2 1033.7L2698.3 1034.4L2700.4 1034.8L2708.8 1034.8L2717.2 1034.7L2721.4 1034.6L2723.5 1034.3L2725.6 1033.2L2727.7 1031.8L2729.8 1031.8L2731.9 1033.3L2734 1034.2L2736.1 1034.4L2744.5 1034.4L2750.8 1034.3L2752.9 1034.1L2755 1033.5L2759.2 1031.1L2761.3 1030.3L2763.4 1030.6L2767.6 1033L2769.7 1033.8L2771.8 1034.2L2780.2 1034.3L2788.6 1034.4L2788.6 1034.4" stroke="#0735f7"/>
<path d="M1108.6 1031.9L1110.7 1031.4L1114.9 1033.5L1117 1033.6L1119.1 1033.4L1121.2 1033.7L1123.3 1034.4L1125.4 1034.8L1133.8 1035.1L1142.2 1035.2L1146.4 1035.1L1148.5 1034.8L1156.9 1032.6L1159 1031.4L1163.2 1028L1165.3 1027.6L1167.4 1028.9L1171.6 1033.3L1173.7 1034.6L1175.8 1035.1L1177.9 1035.1L1180 1034.7L1182.1 1033.2L1184.2 1030.6L1186.3 1028.4L1188.4 1028.9L1192.6 1033.7L1194.7 1034.8L1196.8 1035.1L1205.2 1035.1L1213.6 1035L1222 1034.9L1230.4 1034.8L1234.6 1034.5L1238.8 1032.7L1240.9 1033.1L1243 1034.1L1245.1 1034.5L1253.5 1034.5L1261.9 1034.4L1270.3 1034.4L1276.6 1034.2L1278.7 1033.8L1280.8 1032.5L1282.9 1026.4L1285 1004.5L1289.2 937.5L1291.3 916.4L1292.6 912.5L1295.5 931.1L1297.6 962.1L1299.7 996.9L1301.8 1024.2L1303.9 1034.2L1306 1034.1L1308.1 1033.7L1310.2 1032.6L1312.3 1031L1314.4 1029.7L1316.5 1029.6L1318.6 1030.7L1320.7 1032.3L1322.8 1033.3L1324.9 1033L1327 1031.4L1329.1 1029L1331.2 1027.6L1333.3 1028.5L1337.5 1033.1L1339.6 1034.2L1341.7 1034.6L1350.1 1034.9L1358.5 1035L1366.9 1035.1L1369 1035.1L1371.1 1034.8L1373.2 1033.7L1375.3 1032.1L1377.4 1031.7L1385.8 1034.7L1387.9 1035.1L1396.3 1035.2L1398.4 1034.7L1400.5 1033.3L1402.6 1032.9L1404.7 1034.2L1406.8 1035.1L1415.2 1035.3L1423.6 1035.2L1432 1035.2L1436.2 1034.8L1438.3 1034.1L1442.5 1031.3L1444.6 1031.1L1446.7 1025.9L1448.8 986L1453 861L1455.1 817.4L1456.7 806.5L1459.3 834.6L1461.4 889.7L1463.5 955L1465.6 1009.1L1467.7 1031.2L1469.8 1029.3L1471.9 1026.4L1474 998.7L1476.1 940.6L1478.2 876.5L1480.3 827.1L1482.4 808.7L1484.5 827.1L1486.6 876.5L1488.7 940.6L1490.8 998.7L1492.9 1031.2L1495 1034.4L1499.2 1034.2L1501.3 1033.1L1503.4 1030.6L1505.5 1029.4L1507.6 1031.2L1509.7 1033.4L1511.8 1034.2L1520.2 1034.3L1528.6 1034.3L1537 1034.4L1541.2 1034.3L1543.3 1033.7L1545.4 1032.5L1547.5 1031.7L1549.6 1031.9L1551.7 1031.8L1553.8 1030.9L1555.9 1030.5L1558 1031.5L1560.1 1033L1562.2 1034.1L1564.3 1034.5L1572.7 1034.7L1574.8 1034.5L1576.9 1033.9L1579 1032.5L1581.1 1030.8L1583.2 1029.9L1585.3 1030.6L1589.5 1033.9L1591.6 1034.7L1595.8 1035L1600 1035L1602.1 1034.4L1604.2 1033.3L1606.3 1033.4L1608.4 1034.5L1610.5 1035.1L1618.9 1035.2L1627.3 1035.3L1635.7 1035.3L1644.1 1035.3L1652.5 1035.3L1660.9 1035.2L1669.3 1035.1L1677.7 1035L1686.1 1034.9L1694.5 1034.8L1702.9 1034.7L1707.1 1034.6L1709.2 1034.3L1711.3 1033.6L1713.4 1032.2L1717.6 1028L1719.7 1027.6L1721.8 1028.9L1723.9 1031.1L1726 1032.9L1728.1 1033.9L1730.2 1034.3L1738.6 1034.3L1747 1034.3L1753.3 1034.3L1755.4 1034.1L1757.5 1033.3L1759.6 1031.4L1761.7 1030.3L1763.8 1031.6L1765.9 1033.4L1768 1034.2L1772.2 1034.3L1774.3 1034.1L1776.4 1033.7L1778.5 1032.8L1780.6 1028.7L1782.7 988.8L1784.8 915L1786.9 833.5L1789 770.8L1791.1 747.4L1793.2 770.8L1795.3 833.5L1797.4 915L1799.5 988.8L1801.6 1030.5L1803.7 1034.7L1812.1 1034.8L1820.5 1034.9L1828.9 1035L1835.2 1035L1837.3 1034.1L1839.4 1030L1841.5 1025.4L1843.6 1027.7L1845.7 1032.9L1847.8 1034.9L1849.9 1035.2L1858.3 1035.2L1860.4 1034.9L1864.6 1033.9L1866.7 1033.8L1873 1035.1L1881.4 1035.3L1887.7 1035.2L1889.8 1034.7L1891.9 1033.3L1896.1 1027.2L1898.2 1027.1L1902.4 1033.1L1904.5 1034.6L1906.6 1035L1915 1035L1923.4 1034.7L1925.5 1034.1L1927.6 1032.4L1929.7 1029.4L1931.8 1027L1933.9 1027.4L1938.1 1032.7L1940.2 1034.1L1942.3 1034.5L1946.5 1034.5L1948.6 1034.2L1950.7 1032.6L1952.8 1029.4L1954.9 1027.4L1957 1028.9L1959.1 1031.1L1965.4 1033.9L1967.5 1034.3L1975.9 1034.3L1978 1034.3L1980.1 1028.9L1982.2 997.7L1986.4 897.2L1988.5 861.1L1990.2 851.2L1992.7 872.2L1994.8 915.7L1996.9 968.2L1999 1012.6L2001.1 1033L2003.2 1031.6L2005.3 1029.4L2007.4 1031L2009.5 1033.5L2011.6 1034.3L2020 1034.5L2028.4 1034.5L2030.5 1034.1L2032.6 1033.1L2034.7 1032.7L2038.9 1034.5L2047.3 1034.9L2055.7 1035L2064.1 1035.1L2068.3 1034.9L2070.4 1034.1L2072.5 1032.5L2074.6 1031.5L2080.9 1031.2L2083 1032L2087.2 1034.4L2089.3 1035L2097.7 1035.3L2104 1035.3L2106.1 1012.1L2108.2 950.4L2110.3 870.1L2112.4 797.4L2114.5 755.9L2115.4 751.6L2116.6 759.3L2118.7 806.3L2122.9 960.9L2125 1018.1L2127.1 1035.2L2135.5 1035.1L2143.9 1035L2150.2 1034.8L2152.3 1034.5L2154.4 1033.5L2158.6 1030.3L2160.7 1029.8L2162.8 1030.7L2164.9 1031.9L2167 1032.1L2169.1 1031.4L2171.2 1029.7L2173.3 1028.5L2175.4 1030.8L2177.5 1033.6L2179.6 1034.4L2185.9 1034.4L2188 1034.3L2190.1 1033.8L2194.3 1031.9L2196.4 1031.4L2198.5 1031.8L2202.7 1033.6L2204.8 1033.9L2206.9 1033.3L2209 1032.4L2211.1 1032.5L2213.2 1033.5L2215.3 1034.1L2223.7 1034.3L2232.1 1034.3L2240.5 1034.4L2248.9 1034.4L2251 1034.3L2253.1 1033.9L2255.2 1033L2257.3 1031.8L2259.4 1030.8L2261.5 1030.7L2263.6 1031.6L2265.7 1032.9L2267.8 1033.9L2269.9 1034.5L2278.3 1034.8L2286.7 1034.9L2295.1 1035.1L2303.5 1035.1L2305.6 1034.8L2309.8 1033.7L2311.9 1033.9L2314 1032.3L2316.1 989L2318.2 903.2L2320.3 803.4L2322.4 722.1L2324.8 720.2L2326.6 720.2L2328.7 776.9L2332.9 967.7L2335 1025.7L2337.1 1034.7L2339.2 1033.8L2341.3 1033.3L2345.5 1035L2347.6 1035.2L2351.8 1035.2L2353.9 1035L2356 1034L2358.1 1031.5L2360.2 1028.7L2362.3 1028.6L2364.4 1031.2L2366.5 1033.2L2370.7 1033L2372.8 1033.4L2377 1033.7L2381.2 1034.6L2385.4 1034.9L2387.5 1032.2L2389.6 1006.9L2391.7 961.9L2393.8 912.2L2395.9 874L2398 859.7L2400.1 874L2402.2 912.2L2404.3 961.9L2406.4 1006.9L2408.5 1032L2410.6 1034.6L2419 1034.5L2425.3 1034.4L2427.4 1034.1L2429.5 1033.4L2433.7 1031.4L2435.8 1031.6L2440 1033.6L2442.1 1034.1L2450.5 1034.3L2458.9 1034.3L2467.3 1034.2L2471.5 1032.9L2473.6 1033.3L2475.7 1034.1L2477.8 1034.4L2479.9 1034.3L2482 1034L2486.2 1032.2L2488.3 1031.8L2490.4 1031.9L2494.6 1031.4L2498.8 1031.6L2500.9 1032.2L2503 1033.5L2505.1 1034.5L2507.2 1034.8L2515.6 1034.9L2524 1035L2532.4 1035.1L2538.7 1035.2L2540.8 1024.2L2542.9 990.2L2547.1 901.1L2549.2 874.9L2550.3 871.2L2551.3 874.3L2553.4 899.3L2557.6 988.2L2559.7 1023.1L2561.8 1032.9L2563.9 1031.3L2568.1 1029L2570.2 1027.2L2572.3 1026.7L2574.4 1029.6L2576.5 1033.2L2578.6 1034.9L2580.7 1035.2L2589.1 1035.2L2597.5 1035.1L2605.9 1035L2614.3 1034.9L2622.7 1034.7L2624.8 1034.3L2626.9 1033.4L2629 1031.6L2633.2 1026.3L2635.3 1024.6L2637.4 1024.3L2639.5 1025.4L2641.6 1028.3L2643.7 1031.6L2645.8 1033.5L2647.9 1034.2L2654.2 1034.4L2656.3 1031.2L2658.4 982L2660.5 888.3L2662.6 781.3L2664.7 720.2L2668.9 720.2L2671 762.3L2675.2 966.7L2677.3 1026.1L2679.4 1032.5L2681.5 1030.7L2683.6 1011.6L2685.7 965.4L2687.8 910.7L2689.9 865.3L2692.4 843.4L2694.1 853.7L2696.2 891.3L2700.4 996.1L2702.5 1028.6L2704.6 1034.3L2708.8 1034.4L2710.9 1034.2L2713 1033.1L2715.1 1031.2L2717.2 1030.6L2721.4 1033.8L2723.5 1034.5L2731.9 1034.7L2740.3 1034.8L2746.6 1034.8L2748.7 1034.4L2750.8 1033.5L2752.9 1030.8L2755 1002.7L2757.1 938.9L2759.2 863.3L2761.3 800.7L2763.8 770.5L2765.5 784.8L2767.6 836.7L2771.8 981.2L2773.9 1026.8L2776 1035.2L2784.4 1035.3L2788.6 1035.3" stroke="#000000"/>
<path d="M1108.6 1035.1L1117 1035L1125.4 1034.9L1133.8 1034.6L1135.9 1033.8L1138 1031.5L1140.1 1028L1142.2 1015.6L1144.3 969.6L1146.4 912.1L1148.5 861.8L1151.3 833.2L1152.7 840.6L1154.8 876.6L1159 987.1L1161.1 1025.4L1163.2 1034.4L1167.4 1034.3L1169.5 1013.4L1171.6 958.8L1173.7 889.2L1175.8 827.3L1178.7 790.2L1180 798L1182.1 840.2L1186.3 973.9L1188.4 1022L1190.5 1034.3L1192.6 1034.3L1194.7 1019.6L1196.8 974.8L1201 860.7L1203.1 828.6L1204.1 824.6L1205.2 829.4L1207.3 863L1211.5 977.4L1213.6 1021.1L1215.7 1034.4L1217.8 1034.3L1219.9 1018.1L1222 978.1L1224.1 928L1226.2 884.1L1229 859.2L1230.4 865.7L1232.5 897.1L1236.7 993.3L1238.8 1026.2L1240.9 1034.2L1243 1034.6L1251.4 1034.9L1259.8 1035L1268.2 1035.1L1270.3 1035L1272.4 1034.6L1274.5 1033.5L1276.6 1031.9L1278.7 1031.2L1280.8 1032.3L1282.9 1034L1285 1034.9L1287.1 1035L1291.3 1033.9L1293.4 1033.9L1297.6 1035.1L1306 1035.3L1310.2 1035.2L1312.3 1034.6L1314.4 1032.7L1316.5 1028.9L1318.6 1025.6L1320.7 1025.3L1322.8 1026L1324.9 1025.3L1327 1027.7L1329.1 1032.6L1331.2 1034.8L1333.3 1035.1L1341.7 1035.1L1345.9 1034.8L1348 1034.2L1350.1 1032.8L1352.2 1030.9L1354.3 1029.9L1356.4 1030.8L1358.5 1032.6L1360.6 1033.7L1362.7 1033.9L1366.9 1032.9L1369 1032.7L1373.2 1032.9L1379.5 1031.9L1381.6 1025.4L1383.7 991.9L1387.9 892.6L1390 860.2L1391.4 853.5L1394.2 879.2L1396.3 924.5L1398.4 976.2L1400.5 1017.6L1402.6 1034.2L1411 1034.3L1419.4 1034.3L1421.5 1034.3L1423.6 1031.6L1425.7 1003.9L1427.8 954.2L1429.9 899.2L1432 857L1434.1 841.2L1436.2 857L1438.3 899.2L1440.4 954.2L1442.5 1003.9L1444.6 1031.6L1446.7 1034L1448.8 1033L1453 1029.4L1455.1 1029.5L1457.2 1030.7L1459.3 1030.3L1461.4 1029.3L1463.5 1031L1465.6 1033.5L1467.7 1034.5L1474 1034.7L1476.1 1034.5L1478.2 1033.2L1482.4 1027.3L1484.5 1026.7L1486.6 1028.5L1488.7 1031L1490.8 1032.3L1495 1033.4L1497.1 1034.2L1499.2 1034.8L1501.3 1035L1503.4 1034.8L1507.6 1033.2L1509.7 1033.4L1511.8 1034.4L1513.9 1035L1520.2 1035.2L1522.3 1035L1524.4 1034.2L1526.5 1033L1528.6 1032.3L1530.7 1032.9L1532.8 1034L1534.9 1034.4L1537 1033.7L1541.2 1030.9L1543.3 1030.3L1545.4 1031L1549.6 1033.9L1551.7 1034.8L1553.8 1035.1L1562.2 1035.2L1564.3 1035L1566.4 1034.1L1568.5 1032.5L1570.6 1032.5L1572.7 1034.1L1574.8 1034.9L1583.2 1035L1589.5 1034.9L1591.6 1033L1593.7 1005.7L1595.8 953.7L1597.9 894.3L1600 846.9L1602.3 826.6L1604.2 840.6L1606.3 883.8L1610.5 997.2L1612.6 1030.1L1614.7 1034.6L1623.1 1034.5L1631.5 1034.4L1639.9 1034.3L1644.1 1034.2L1646.2 1033.9L1648.3 1032.9L1650.4 1031.6L1652.5 1031.4L1656.7 1033.6L1658.8 1034.1L1660.9 1021.7L1663 980.1L1667.2 870.8L1669.3 838.8L1670.4 834.2L1671.4 838L1673.5 868.7L1677.7 977.6L1679.8 1020.3L1681.9 1030.5L1684 1029.5L1686.1 1020.9L1688.2 969L1692.4 824.5L1694.5 778.9L1695.8 770.5L1698.7 810.6L1700.8 877.5L1702.9 952.7L1705 1011.6L1707.1 1034.7L1715.5 1034.8L1723.9 1035L1730.2 1034.9L1732.3 1034.8L1734.4 1034.3L1738.6 1032.9L1740.7 1032.6L1742.8 1033L1747 1034.3L1749.1 1034.2L1753.3 1033.3L1755.4 1033.4L1757.5 1025.6L1759.6 991.8L1763.8 896.9L1765.9 867L1767.2 861.5L1770.1 887.8L1772.2 931.7L1774.3 981L1776.4 1019.7L1778.5 1024.5L1780.6 1024.3L1782.7 1027.7L1784.8 1030.4L1789 1030.1L1793.2 1034.4L1795.3 1035.1L1803.7 1035.1L1812.1 1034.9L1814.2 1033.9L1816.3 1031.1L1818.4 1030.2L1820.5 1032.8L1822.6 1034.4L1824.7 1033.7L1826.8 1031.1L1828.9 1029.9L1831 1032.2L1833.1 1034.2L1835.2 1034.7L1843.6 1034.6L1852 1034.5L1860.4 1034.4L1864.6 1034.3L1866.7 1033.8L1870.9 1031.9L1873 1032.4L1875.1 1033.6L1877.2 1034.2L1885.6 1034.3L1894 1034.3L1902.4 1034.3L1910.8 1034.4L1919.2 1034.5L1927.6 1034.6L1936 1034.7L1944.4 1034.8L1952.8 1034.9L1961.2 1035L1965.4 1034.8L1969.6 1033.9L1971.7 1033.6L1973.8 1033.9L1978 1034.9L1986.4 1035.3L1994.8 1035.3L2003.2 1035.3L2005.3 1028L2007.4 988.8L2011.6 864.4L2013.7 819.7L2015.4 807.4L2017.9 833.4L2020 887.3L2022.1 952.3L2024.2 1007.2L2026.3 1032.1L2028.4 1034.3L2030.5 1035L2032.6 1023.5L2034.7 980.9L2038.9 862.1L2041 824.7L2042.3 817.8L2045.2 850.7L2047.3 905.7L2049.4 967.4L2051.5 1015.8L2053.6 1031.4L2055.7 1031.1L2057.8 1031.6L2062 1033.7L2064.1 1034.4L2066.2 1034.6L2074.6 1034.6L2078.8 1034.5L2080.9 1026.9L2083 992.5L2087.2 889.4L2089.3 854.6L2090.8 846.7L2093.5 871.6L2095.6 917.8L2097.7 971.6L2099.8 1015.3L2101.9 1034.1L2104 1034.3L2112.4 1034.3L2120.8 1034.3L2125 1034.3L2127.1 1030L2129.2 1001.9L2133.4 908L2135.5 873.2L2137.3 862.8L2139.7 881L2141.8 921L2143.9 970.2L2146 1012.4L2148.1 1033.3L2150.2 1034.5L2158.6 1034.6L2167 1034.7L2173.3 1034.7L2175.4 1034.5L2177.5 1033.5L2181.7 1028.2L2183.8 1028.6L2185.9 1031.6L2188 1034L2190.1 1034.8L2198.5 1035.1L2200.6 1035L2202.7 1034.4L2204.8 1032L2206.9 1027L2209 1026.4L2211.1 1031.4L2213.2 1034.4L2215.3 1035.1L2219.5 1035.2L2221.6 1035L2223.7 1034.4L2225.8 1033.1L2227.9 1031.5L2230 1030.4L2232.1 1030.6L2236.3 1033.3L2238.4 1032.5L2240.5 1028.1L2242.6 1024.4L2244.7 1026.9L2246.8 1030.8L2248.9 1031.8L2253.1 1034.9L2255.2 1035.2L2263.6 1035.2L2267.8 1035.1L2269.9 1021.1L2272 980.5L2276.2 877L2278.3 847.8L2279.3 844.2L2280.4 848.6L2282.5 879L2286.7 982.8L2288.8 1022.4L2290.9 1034.5L2293 1030L2295.1 990.3L2299.3 848.7L2301.4 793.2L2303.4 773.8L2305.6 797.1L2307.7 855.3L2309.8 929.6L2311.9 995.6L2314 1031.5L2316.1 1033.9L2318.2 1032.3L2320.3 1029.8L2322.4 1028.4L2324.5 1029.4L2326.6 1031.7L2328.7 1033.4L2330.8 1034.1L2332.9 1034.3L2335 1034.1L2337.1 1033.1L2339.2 1031.7L2341.3 1031.5L2345.5 1033.9L2347.6 1034.2L2356 1034.3L2358.1 1034.2L2360.2 1033.8L2362.3 1033L2364.4 1032L2366.5 1031.2L2368.6 1030.6L2370.7 1028.7L2372.8 1024.7L2374.9 1023.6L2381.2 1031.3L2383.3 1033.2L2385.4 1034.1L2387.5 1034.4L2395.9 1034.6L2400.1 1034.5L2402.2 1033.9L2404.3 1031.7L2406.4 1027.9L2408.5 1025.9L2410.6 1018.2L2412.7 980.6L2414.8 934.6L2416.9 895L2419.6 873.6L2421.1 880.4L2423.2 910.2L2427.4 998.6L2429.5 1028.1L2431.6 1035L2440 1035.2L2444.2 1034.9L2448.4 1033.5L2450.5 1033.3L2454.7 1034.7L2456.8 1035.2L2465.2 1035.3L2473.6 1035.3L2475.7 1035.2L2477.8 1034.7L2479.9 1032.9L2482 1029.9L2484.1 1028.3L2486.2 1030L2488.3 1032.9L2490.4 1034.6L2492.5 1035.1L2500.9 1035.1L2503 1034.6L2505.1 1033.7L2507.2 1033.7L2509.3 1034.5L2511.4 1034.9L2515.6 1034.9L2517.7 1034.6L2519.8 1033.7L2524 1030.1L2526.1 1030.1L2530.3 1033.6L2532.4 1034.3L2534.5 1034.2L2536.6 1033.1L2540.8 1029.2L2542.9 1028.8L2545 1030.5L2547.1 1033L2549.2 1034.2L2551.3 1034.4L2559.7 1034.4L2568.1 1034.3L2576.5 1034.3L2584.9 1034.1L2587 1033.8L2589.1 1033.3L2591.2 1032.4L2595.4 1029.6L2597.5 1030.9L2599.6 1033.2L2601.7 1034.1L2603.8 1034.3L2608 1034.1L2614.3 1032.6L2616.4 1032.5L2622.7 1034.2L2631.1 1034.6L2633.2 1034.7L2635.3 1027L2637.4 995.3L2641.6 903.8L2643.7 874L2645.1 867.8L2647.9 891.5L2650 933.2L2652.1 980.8L2654.2 1018.9L2656.3 1034.9L2664.7 1035.1L2673.1 1035.2L2681.5 1035.2L2689.9 1035.3L2698.3 1035.2L2700.4 1035L2702.5 1034.3L2706.7 1032.1L2708.8 1031.9L2710.9 1032.5L2715.1 1034.1L2717.2 1034.5L2719.3 1034L2721.4 1032.6L2723.5 1032.3L2727.7 1034.8L2729.8 1030.8L2731.9 1000.9L2736.1 898.4L2738.2 859.3L2740.1 846.7L2742.4 865L2744.5 907.9L2746.6 961.6L2748.7 1008.5L2750.8 1033.2L2752.9 1034.9L2761.3 1034.8L2769.7 1034.6L2773.9 1034.4L2776 1033.6L2778.1 1031.5L2780.2 1028.7L2782.3 1027.5L2784.4 1029.1L2786.5 1031.9L2788.6 1033.7" stroke="#ea3323"/>
</g>
<text x="1128.7" y="702.6" fill="#6df043">A</text>
<text x="1128.7" y="721.2" fill="#6df043">A</text>
<text x="1149.0" y="702.6" fill="#ea3323">T</text>
<text x="1149.0" y="721.2" fill="#ea3323">T</text>
<text x="1175.9" y="702.6" fill="#ea3323">T</text>
<text x="1175.9" y="721.2" fill="#ea3323">T</text>
<text x="1200.8" y="702.6" fill="#ea3323">T</text>
<text x="1200.8" y="721.2" fill="#ea3323">T</text>
<text x="1228.7" y="702.6" fill="#ea3323">T</text>
<text x="1228.7" y="721.2" fill="#ea3323">T</text>
<text x="1251.6" y="702.6" fill="#0735f7">C</text>
<text x="1251.6" y="721.2" fill="#0735f7">C</text>
<text x="1271.0" y="702.6" fill="#6df043">A</text>
<text x="1271.0" y="721.2" fill="#6df043">A</text>
<text x="1294.6" y="702.6" fill="#000000">G</text>
<text x="1294.6" y="721.2" fill="#000000">G</text>
<text x="1320.0" y="702.6" fill="#6df043">A</text>
<text x="1320.0" y="721.2" fill="#6df043">A</text>
<text x="1339.6" y="702.6" fill="#0735f7">C</text>
<text x="1339.6" y="721.2" fill="#0735f7">C</text>
<text x="1362.7" y="702.6" fill="#0735f7">C</text>
<text x="1362.7" y="721.2" fill="#0735f7">C</text>
<text x="1388.4" y="702.6" fill="#ea3323">T</text>
<text x="1388.4" y="721.2" fill="#ea3323">T</text>
<text x="1407.2" y="702.6" fill="#6df043">A</text>
<text x="1407.2" y="721.2" fill="#6df043">A</text>
<text x="1432.4" y="702.6" fill="#ea3323">T</text>
<text x="1432.4" y="721.2" fill="#ea3323">T</text>
<text x="1457.5" y="702.6" fill="#000000">G</text>
<text x="1457.5" y="721.2" fill="#000000">G</text>
<text x="1485.6" y="702.6" fill="#000000">G</text>
<text x="1485.6" y="721.2" fill="#000000">G</text>
<text x="1509.5" y="702.6" fill="#6df043">A</text>
<text x="1509.5" y="721.2" fill="#6df043">A</text>
<text x="1536.7" y="702.6" fill="#6df043">A</text>
<text x="1536.7" y="721.2" fill="#6df043">A</text>
<text x="1555.8" y="702.6" fill="#6df043">A</text>
<text x="1555.8" y="721.2" fill="#6df043">A</text>
<text x="1576.2" y="702.6" fill="#0735f7">C</text>
<text x="1576.2" y="721.2" fill="#0735f7">C</text>
<text x="1597.5" y="702.6" fill="#ea3323">T</text>
<text x="1597.5" y="721.2" fill="#ea3323">T</text>
<text x="1617.1" y="702.6" fill="#6df043">A</text>
<text x="1617.1" y="721.2" fill="#6df043">A</text>
<text x="1635.7" y="702.6" fill="#0735f7">C</text>
<text x="1635.7" y="721.2" fill="#0735f7">C</text>
<text x="1669.9" y="702.6" fill="#ea3323">T</text>
<text x="1669.9" y="721.2" fill="#ea3323">T</text>
<text x="1690.3" y="702.6" fill="#ea3323">T</text>
<text x="1690.3" y="721.2" fill="#ea3323">T</text>
<text x="1721.5" y="702.6" fill="#0735f7">C</text>
<text x="1721.5" y="721.2" fill="#0735f7">C</text>
<text x="1742.1" y="702.6" fill="#0735f7">C</text>
<text x="1742.1" y="721.2" fill="#0735f7">C</text>
<text x="1764.5" y="702.6" fill="#ea3323">T</text>
<text x="1764.5" y="721.2" fill="#ea3323">T</text>
<text x="1787.3" y="702.6" fill="#000000">G</text>
<text x="1787.3" y="721.2" fill="#000000">G</text>
<text x="1816.0" y="702.6" fill="#6df043">A</text>
<text x="1816.0" y="721.2" fill="#6df043">A</text>
<text x="1840.6" y="702.6" fill="#6df043">A</text>
<text x="1840.6" y="721.2" fill="#6df043">A</text>
<text x="1862.0" y="702.6" fill="#6df043">A</text>
<text x="1862.0" y="721.2" fill="#6df043">A</text>
<text x="1878.3" y="702.6" fill="#6df043">A</text>
<text x="1878.3" y="721.2" fill="#6df043">A</text>
<text x="1896.7" y="702.6" fill="#0735f7">C</text>
<text x="1896.7" y="721.2" fill="#0735f7">C</text>
<text x="1919.8" y="702.6" fill="#6df043">A</text>
<text x="1919.8" y="721.2" fill="#6df043">A</text>
<text x="1939.9" y="702.6" fill="#6df043">A</text>
<text x="1939.9" y="721.2" fill="#6df043">A</text>
<text x="1962.5" y="702.6" fill="#0735f7">C</text>
<text x="1962.5" y="721.2" fill="#0735f7">C</text>
<text x="1989.0" y="702.6" fill="#000000">G</text>
<text x="1989.0" y="721.2" fill="#000000">G</text>
<text x="2014.9" y="702.6" fill="#ea3323">T</text>
<text x="2014.9" y="721.2" fill="#ea3323">T</text>
<text x="2039.2" y="702.6" fill="#ea3323">T</text>
<text x="2039.2" y="721.2" fill="#ea3323">T</text>
<text x="2059.1" y="702.6" fill="#0735f7">C</text>
<text x="2059.1" y="721.2" fill="#0735f7">C</text>
<text x="2090.0" y="702.6" fill="#ea3323">T</text>
<text x="2090.0" y="721.2" fill="#ea3323">T</text>
<text x="2109.6" y="702.6" fill="#000000">G</text>
<text x="2109.6" y="721.2" fill="#000000">G</text>
<text x="2139.8" y="702.6" fill="#ea3323">T</text>
<text x="2139.8" y="721.2" fill="#ea3323">T</text>
<text x="2161.2" y="702.6" fill="#0735f7">C</text>
<text x="2161.2" y="721.2" fill="#0735f7">C</text>
<text x="2185.5" y="702.6" fill="#0735f7">C</text>
<text x="2185.5" y="721.2" fill="#0735f7">C</text>
<text x="2208.4" y="702.6" fill="#0735f7">C</text>
<text x="2208.4" y="721.2" fill="#0735f7">C</text>
<text x="2229.0" y="702.6" fill="#0735f7">C</text>
<text x="2229.0" y="721.2" fill="#0735f7">C</text>
<text x="2252.4" y="702.6" fill="#0735f7">C</text>
<text x="2252.4" y="721.2" fill="#0735f7">C</text>
<text x="2278.0" y="702.6" fill="#ea3323">T</text>
<text x="2278.0" y="721.2" fill="#ea3323">T</text>
<text x="2299.9" y="702.6" fill="#ea3323">T</text>
<text x="2299.9" y="721.2" fill="#ea3323">T</text>
<text x="2321.3" y="702.6" fill="#000000">G</text>
<text x="2321.3" y="721.2" fill="#000000">G</text>
<text x="2341.2" y="702.6" fill="#0735f7">C</text>
<text x="2341.2" y="721.2" fill="#0735f7">C</text>
<text x="2375.3" y="702.6" fill="#0735f7">C</text>
<text x="2375.3" y="721.2" fill="#0735f7">C</text>
<text x="2393.7" y="702.6" fill="#000000">G</text>
<text x="2393.7" y="721.2" fill="#000000">G</text>
<text x="2419.2" y="702.6" fill="#ea3323">T</text>
<text x="2419.2" y="721.2" fill="#ea3323">T</text>
<text x="2440.2" y="702.6" fill="#0735f7">C</text>
<text x="2440.2" y="721.2" fill="#0735f7">C</text>
<text x="2465.6" y="702.6" fill="#0735f7">C</text>
<text x="2465.6" y="721.2" fill="#0735f7">C</text>
<text x="2488.0" y="702.6" fill="#0735f7">C</text>
<text x="2488.0" y="721.2" fill="#0735f7">C</text>
<text x="2508.1" y="702.6" fill="#6df043">A</text>
<text x="2508.1" y="721.2" fill="#6df043">A</text>
<text x="2529.2" y="702.6" fill="#6df043">A</text>
<text x="2529.2" y="721.2" fill="#6df043">A</text>
<text x="2551.6" y="702.6" fill="#000000">G</text>
<text x="2551.6" y="721.2" fill="#000000">G</text>
<text x="2573.0" y="702.6" fill="#0735f7">C</text>
<text x="2573.0" y="721.2" fill="#0735f7">C</text>
<text x="2596.8" y="702.6" fill="#6df043">A</text>
<text x="2596.8" y="721.2" fill="#6df043">A</text>
<text x="2618.5" y="702.6" fill="#6df043">A</text>
<text x="2618.5" y="721.2" fill="#6df043">A</text>
<text x="2644.6" y="702.6" fill="#ea3323">T</text>
<text x="2644.6" y="721.2" fill="#ea3323">T</text>
<text x="2669.0" y="702.6" fill="#000000">G</text>
<text x="2669.0" y="721.2" fill="#000000">G</text>
<text x="2690.3" y="702.6" fill="#000000">G</text>
<text x="2690.3" y="721.2" fill="#000000">G</text>
<text x="2715.5" y="702.6" fill="#6df043">A</text>
<text x="2715.5" y="721.2" fill="#6df043">A</text>
<text x="2738.9" y="702.6" fill="#ea3323">T</text>
<text x="2738.9" y="721.2" fill="#ea3323">T</text>
<text x="2762.0" y="702.6" fill="#000000">G</text>
<text x="2762.0" y="721.2" fill="#000000">G</text>
<text x="2785.1" y="702.6" fill="#6df043">A</text>
<text x="2785.1" y="721.2" fill="#6df043">A</text>
<g clip-path="url(#rc2)" fill="none" stroke-width="1.5" stroke-linejoin="round">
<path d="M1108.6 1120.2L1110.7 1157.9L1114.9 1356.9L1117 1421.8L1119.1 1434.5L1123.3 1434.5L1125.4 1434.3L1127.5 1433.5L1131.7 1430.2L1133.8 1429.7L1135.9 1430.8L1138 1432.4L1140.1 1433.1L1144.3 1433.4L1148.5 1434.5L1152.7 1434.9L1159 1435L1161.1 1434.7L1165.3 1433.7L1167.4 1433.8L1171.6 1434.9L1180 1435.2L1188.4 1435.3L1192.6 1435.2L1196.8 1433.8L1201 1434.8L1203.1 1434.4L1207.3 1432L1209.4 1431.3L1211.5 1431.7L1215.7 1434.1L1217.8 1421.2L1219.9 1381.2L1224.1 1279.1L1226.2 1250.3L1227.2 1246.7L1228.3 1251L1230.4 1281L1234.6 1383.5L1236.7 1422.6L1238.8 1429.4L1240.9 1428L1243 1429.9L1245.1 1432.8L1247.2 1434.4L1249.3 1434.8L1257.7 1434.8L1259.8 1434.5L1261.9 1433.8L1264 1432.6L1266.1 1431.7L1268.2 1432.1L1270.3 1433.2L1272.4 1433.8L1274.5 1433.5L1276.6 1432.9L1278.7 1432.5L1280.8 1432.8L1285 1433.9L1287.1 1433.8L1289.2 1433.2L1291.3 1432.9L1295.5 1434.1L1303.9 1434.3L1306 1434.3L1308.1 1433.8L1310.2 1431.3L1312.3 1427.7L1314.4 1428.6L1316.5 1432.4L1318.6 1434L1320.7 1434.3L1329.1 1434.3L1333.3 1434.3L1335.4 1434L1337.5 1433.3L1339.6 1432.4L1341.7 1431.9L1343.8 1432.5L1345.9 1433.5L1348 1434.2L1356.4 1434.6L1364.8 1434.7L1373.2 1434.8L1381.6 1434.8L1383.7 1434.5L1385.8 1433.4L1387.9 1431.6L1390 1430.1L1392.1 1430.5L1396.3 1434L1398.4 1434.8L1406.8 1435.2L1415.2 1435.2L1423.6 1435.3L1432 1435.3L1434.1 1435.1L1436.2 1434L1438.3 1431.6L1440.4 1430.3L1442.5 1432.1L1444.6 1434.3L1446.7 1435.1L1448.8 1435.2L1450.9 1435L1453 1434.5L1455.1 1433.5L1459.3 1430.8L1461.4 1430.1L1463.5 1430.9L1465.6 1433L1467.7 1434.4L1469.8 1434.9L1478.2 1435L1486.6 1434.8L1495 1434.7L1503.4 1434.6L1511.8 1434.5L1520.2 1434.4L1524.4 1434.1L1526.5 1430.3L1528.6 1399.4L1532.8 1286.4L1534.9 1242L1536.9 1226.6L1539.1 1245.2L1541.2 1291.7L1543.3 1350.9L1545.4 1403.6L1547.5 1431.8L1549.6 1434.3L1558 1434.3L1564.3 1434.3L1566.4 1433.8L1570.6 1430.6L1572.7 1431L1574.8 1432.9L1576.9 1434.1L1579 1434.4L1587.4 1434.6L1589.5 1421.7L1591.6 1356.3L1595.8 1155.6L1597.9 1120.2L1602.1 1120.2L1604.2 1201.8L1606.3 1306.5L1608.4 1393.3L1610.5 1432.3L1612.6 1434.4L1614.7 1434.8L1623.1 1435L1631.5 1435.1L1633.6 1432.3L1635.7 1409.2L1639.9 1327.1L1642 1294.8L1644 1283.6L1646.2 1297.1L1648.3 1330.9L1650.4 1373.9L1652.5 1412.3L1654.6 1433.4L1656.7 1435.3L1660.9 1435.1L1663 1434.7L1667.2 1433.1L1669.3 1432.8L1671.4 1433.2L1675.6 1434.7L1677.7 1435.1L1679.8 1435.1L1681.9 1434.8L1686.1 1433.5L1688.2 1433.2L1690.3 1433.7L1692.4 1434.4L1694.5 1434.9L1702.9 1435.1L1711.3 1434.9L1713.4 1434.8L1715.5 1434.5L1717.6 1433.6L1721.8 1430.2L1723.9 1429.9L1726 1431.1L1728.1 1432.9L1730.2 1431.9L1732.3 1405.8L1734.4 1356.7L1736.5 1301.5L1738.6 1258.2L1740.8 1240.9L1742.8 1255.3L1744.9 1296.6L1749.1 1401.9L1751.2 1430.6L1753.3 1424L1755.4 1387L1759.6 1286.9L1761.7 1256.4L1762.9 1251.4L1765.9 1281.1L1768 1328.2L1770.1 1380.2L1772.2 1420.2L1774.3 1432.3L1776.4 1431L1778.5 1430.3L1780.6 1430.8L1782.7 1432L1784.8 1432.9L1789 1432.8L1791.1 1433.7L1793.2 1434.2L1795.3 1419.3L1797.4 1373.8L1801.6 1257.6L1803.7 1224.8L1804.7 1220.8L1805.8 1225.7L1807.9 1259.9L1812.1 1376.4L1814.2 1420.8L1816.3 1426.9L1818.4 1401.9L1822.6 1317.2L1824.7 1287.7L1826.3 1280.3L1828.9 1299.3L1831 1336.7L1833.1 1380.9L1835.2 1417.5L1837.3 1434.3L1839.4 1434.8L1847.8 1434.9L1856.2 1435L1864.6 1435.1L1873 1435.1L1875.1 1434.8L1877.2 1434.2L1881.4 1432.8L1883.5 1432.9L1887.7 1434.1L1889.8 1433.9L1894 1431.3L1896.1 1431.3L1898.2 1432.2L1900.3 1432.8L1902.4 1433.2L1906.6 1434.6L1908.7 1435.1L1917.1 1435.2L1925.5 1435.2L1929.7 1435L1931.8 1434.8L1936 1433.6L1940.2 1433.2L1942.3 1432.3L1944.4 1431.1L1946.5 1431.1L1950.7 1433.8L1952.8 1434.5L1961.2 1434.7L1969.6 1434.6L1978 1434.5L1980.1 1427.6L1982.2 1388.8L1986.4 1264.4L1988.5 1219.7L1990.2 1207.4L1992.7 1233.4L1994.8 1287.3L1996.9 1352.3L1999 1407.2L2001.1 1433.3L2003.2 1434.3L2011.6 1434.3L2017.9 1434.2L2020 1433.9L2022.1 1432.9L2026.3 1430.1L2028.4 1429.2L2030.5 1429.2L2032.6 1430.4L2034.7 1432.1L2036.8 1433.5L2038.9 1434.1L2047.3 1434.5L2055.7 1434.6L2064.1 1434.7L2072.5 1434.8L2074.6 1434.4L2076.7 1432.7L2078.8 1428.4L2080.9 1407.7L2083 1359.3L2085.1 1304L2087.2 1259.8L2089.5 1240.9L2091.4 1253.9L2093.5 1294.2L2097.7 1399.8L2099.8 1430.7L2101.9 1431L2104 1405.5L2108.2 1321.6L2110.3 1290.5L2112.1 1281.2L2114.5 1297.4L2116.6 1333.2L2118.7 1377.1L2120.8 1414.9L2122.9 1434.2L2125 1435.3L2129.2 1435.3L2131.3 1434.9L2133.4 1433.5L2135.5 1431.5L2137.6 1431.9L2139.7 1433.9L2141.8 1435L2148.1 1435.2L2150.2 1414.4L2152.3 1338.7L2156.5 1127.9L2158.6 1120.2L2162.8 1120.2L2164.9 1205.2L2167 1314.8L2169.1 1400.8L2171.2 1425.9L2173.3 1422.5L2175.4 1421.1L2177.5 1422.2L2179.6 1425.4L2181.7 1429.1L2183.8 1431.6L2185.9 1432.7L2192.2 1434.4L2196.4 1434.7L2200.6 1434.5L2202.7 1434.1L2204.8 1433L2209 1428.6L2211.1 1427.4L2213.2 1427.7L2215.3 1429.1L2219.5 1432.6L2221.6 1433.8L2223.7 1434.2L2230 1434.3L2232.1 1434.2L2234.2 1433.6L2236.3 1429.7L2238.4 1408.7L2242.6 1329.7L2244.7 1299.6L2246.6 1289.9L2248.9 1304L2251 1337.1L2253.1 1378.4L2255.2 1414.6L2257.3 1432.9L2259.4 1434.3L2267.8 1434.4L2276.2 1434.5L2284.6 1434.6L2293 1434.7L2299.3 1434.6L2301.4 1434.3L2305.6 1433L2307.7 1432.9L2311.9 1434.4L2314 1434.8L2322.4 1435L2330.8 1435.1L2332.9 1434.9L2335 1434.4L2337.1 1433.4L2339.2 1432.1L2341.3 1431.4L2343.4 1431.6L2347.6 1434L2349.7 1434.8L2351.8 1435.1L2360.2 1435.3L2368.6 1435.3L2372.8 1435.3L2374.9 1424.4L2377 1391L2381.2 1303.4L2383.3 1277.8L2384.4 1274.1L2385.4 1277.1L2387.5 1301.7L2391.7 1389L2393.8 1423.3L2395.9 1435.1L2404.3 1434.8L2406.4 1434.4L2408.5 1433.4L2410.6 1431.8L2414.8 1427.9L2416.9 1426.9L2419 1426.9L2421.1 1427.9L2425.3 1431.8L2427.4 1409.9L2429.5 1342.2L2431.6 1254.1L2433.7 1174.4L2435.8 1129L2436.7 1124.2L2437.9 1132.6L2440 1184.2L2444.2 1353.7L2446.3 1416.5L2448.4 1434.5L2456.8 1434.4L2461 1434.2L2463.1 1433.8L2465.2 1432.8L2467.3 1431.4L2469.4 1430.4L2471.5 1430.7L2475.7 1433.3L2477.8 1434L2486.2 1434.3L2490.4 1434.3L2492.5 1412.7L2494.6 1337.5L2498.8 1134.1L2500.9 1120.2L2502.1 1120.2L2505.1 1122.4L2507.2 1218L2509.3 1323.6L2511.4 1404.8L2513.5 1434.3L2515.6 1428.8L2517.7 1396.5L2521.9 1292.7L2524 1255.4L2525.7 1245.2L2528.2 1266.9L2530.3 1311.8L2532.4 1366L2534.5 1411.8L2536.6 1433.8L2538.7 1434.2L2540.8 1433.1L2542.9 1431.4L2545 1430.1L2547.1 1430.3L2551.3 1433L2553.4 1433.1L2555.5 1432.5L2557.6 1432.9L2559.7 1434L2561.8 1434.8L2563.9 1434.8L2568.1 1433.4L2570.2 1433.3L2574.4 1434.7L2576.5 1435.1L2584.9 1435.2L2587 1434.8L2591.2 1431.3L2593.3 1432.4L2595.4 1434.4L2597.5 1435.2L2605.9 1435.3L2610.1 1435.2L2612.2 1434.9L2616.4 1433.7L2618.5 1434.1L2620.6 1434.8L2622.7 1434.8L2624.8 1433.9L2629 1430.3L2631.1 1430.5L2635.3 1434.1L2637.4 1434.8L2645.8 1434.9L2647.9 1434.7L2650 1434.1L2652.1 1433L2654.2 1431.6L2656.3 1430.8L2658.4 1431.2L2662.6 1433.7L2664.7 1434.2L2666.8 1434.1L2668.9 1433.5L2671 1432.6L2673.1 1432.1L2675.2 1430.6L2677.3 1407.3L2679.4 1360.7L2681.5 1308.4L2683.6 1267.3L2685.8 1250.9L2687.8 1264.5L2689.9 1303.7L2694.1 1403.6L2696.2 1431.1L2698.3 1434.3L2706.7 1434.3L2715.1 1434.3L2723.5 1434.3L2725.6 1434.3L2727.7 1407.4L2729.8 1337.9L2731.9 1249.3L2734 1170.4L2736.9 1123.2L2738.2 1133.1L2740.3 1186.8L2744.5 1357.2L2746.6 1414.7L2748.7 1401.5L2752.9 1295.2L2755 1253.4L2757 1238.9L2759.2 1256.4L2761.3 1300.1L2763.4 1355.9L2765.5 1405.5L2767.6 1432.5L2769.7 1434.8L2778.1 1434.9L2786.5 1435L2788.6 1435.1" stroke="#6df043"/>
<path d="M1108.6 1433L1110.7 1431.9L1112.8 1432.2L1114.9 1433.3L1117 1434L1119.1 1433.7L1123.3 1431.5L1125.4 1431.5L1129.6 1433.7L1131.7 1434.2L1140.1 1434.4L1148.5 1434.4L1156.9 1434.5L1163.2 1434.4L1165.3 1433.9L1167.4 1433L1171.6 1430.5L1173.7 1430.4L1175.8 1431.3L1177.9 1432.7L1180 1433.9L1182.1 1434.5L1190.5 1434.9L1196.8 1434.9L1198.9 1434.6L1201 1433.4L1205.2 1429.1L1207.3 1428.4L1209.4 1428.7L1211.5 1428.5L1213.6 1427.9L1215.7 1428.2L1217.8 1430L1219.9 1432.5L1222 1434.2L1224.1 1435L1232.5 1435.3L1240.9 1435.3L1247.2 1435.2L1249.3 1434.9L1251.4 1433.4L1255.6 1426.1L1257.7 1425.3L1259.8 1427.7L1261.9 1431L1264 1433.5L1266.1 1434.7L1268.2 1435.1L1276.6 1435L1285 1434.9L1287.1 1411.8L1289.2 1339.2L1293.4 1148.9L1295.5 1120.2L1297.6 1120.2L1299.7 1145.3L1303.9 1334.9L1306 1409.3L1308.1 1434.6L1316.5 1434.5L1324.9 1434.4L1333.3 1434.4L1341.7 1434.3L1345.9 1434.1L1348 1433.5L1350.1 1432L1354.3 1427L1356.4 1426.3L1358.5 1427.8L1360.6 1430.3L1362.7 1432.3L1364.8 1433.1L1366.9 1432.4L1371.1 1428.1L1373.2 1427.4L1375.3 1428.9L1377.4 1431.2L1379.5 1432.6L1381.6 1432.1L1383.7 1425.3L1385.8 1393L1390 1291.1L1392.1 1256.7L1393.6 1248.9L1396.3 1273.5L1398.4 1319.2L1400.5 1372.3L1402.6 1415.6L1404.7 1434.4L1406.8 1434.1L1408.9 1411.8L1411 1363.1L1413.1 1304.4L1415.2 1254.9L1417.8 1229.6L1419.4 1239.4L1421.5 1278.6L1425.7 1391L1427.8 1427.6L1429.9 1426L1432 1392.9L1436.2 1300.5L1438.3 1271.4L1439.6 1266L1442.5 1291.6L1444.6 1334.4L1446.7 1382.4L1448.8 1420.1L1450.9 1428L1453 1422.5L1455.1 1388.7L1457.2 1344.7L1459.3 1304.9L1461.4 1282.2L1462.3 1279.8L1463.5 1284L1465.6 1309.8L1469.8 1394.5L1471.9 1425.8L1474 1435.3L1482.4 1435.3L1490.8 1435.2L1495 1435.1L1497.1 1434.8L1499.2 1433.6L1501.3 1432.1L1503.4 1431.7L1505.5 1432.4L1507.6 1432.9L1509.7 1433L1511.8 1433.4L1516 1434.5L1520.2 1434.9L1528.6 1434.8L1532.8 1434.7L1534.9 1434.5L1537 1433.4L1539.1 1431.4L1541.2 1430.7L1543.3 1427.3L1545.4 1388.3L1549.6 1255.7L1551.7 1206.6L1553.5 1191.9L1555.9 1217.6L1558 1274.1L1560.1 1343.4L1562.2 1403.1L1564.3 1432.8L1566.4 1434.4L1574.8 1434.3L1583.2 1434.3L1591.6 1434.3L1600 1434.3L1608.4 1434.4L1616.8 1434.5L1625.2 1434.6L1631.5 1434.6L1633.6 1434.4L1635.7 1433.7L1637.8 1432.6L1639.9 1432.1L1642 1432.4L1646.2 1433.7L1648.3 1433.7L1652.5 1432.4L1654.6 1432.9L1656.7 1434L1658.8 1434.8L1667.2 1435.1L1675.6 1435.2L1684 1435.1L1686.1 1434.9L1690.3 1433.9L1692.4 1433.9L1696.6 1434.9L1698.7 1435.2L1702.9 1435.2L1705 1434.6L1707.1 1432.9L1709.2 1430.1L1711.3 1428.3L1713.4 1429.5L1715.5 1432.3L1717.6 1434.3L1719.7 1435.1L1728.1 1435.2L1732.3 1435.1L1734.4 1434.5L1736.5 1433.1L1738.6 1432L1742.8 1433.2L1744.9 1433.6L1747 1434.4L1749.1 1434.9L1753.3 1434.8L1755.4 1434.5L1757.5 1433.8L1759.6 1432.9L1761.7 1432.3L1763.8 1432.6L1768 1434.1L1770.1 1434.5L1772.2 1434.6L1774.3 1434L1776.4 1409.3L1778.5 1355.6L1780.6 1290.8L1782.7 1236.1L1785.3 1208.2L1786.9 1219.1L1789 1262.3L1793.2 1386.4L1795.3 1426.6L1797.4 1434.4L1801.6 1434.2L1803.7 1433.9L1805.8 1433.2L1807.9 1432.2L1810 1431.4L1812.1 1431.5L1816.3 1433.4L1818.4 1434L1826.8 1434.3L1835.2 1434.3L1843.6 1434.3L1845.7 1433.6L1847.8 1431.3L1849.9 1429.5L1852 1431.2L1854.1 1433.7L1856.2 1434.4L1860.4 1434.5L1862.5 1434.2L1866.7 1432.7L1868.8 1432.2L1870.9 1432.5L1875.1 1434.1L1877.2 1434.6L1885.6 1434.9L1894 1435L1902.4 1435.1L1904.5 1434.6L1908.7 1431.3L1910.8 1431.9L1912.9 1433.9L1915 1434.9L1917.1 1434.7L1919.2 1433.1L1921.3 1429.3L1923.4 1424.6L1925.5 1422.8L1927.6 1425.2L1929.7 1429.3L1931.8 1432.2L1933.9 1432.1L1936 1429.1L1938.1 1428.7L1940.2 1432.3L1942.3 1434.7L1944.4 1435.2L1952.8 1435.2L1961.2 1435.1L1963.3 1433.3L1965.4 1410.3L1967.5 1366.6L1969.6 1316.7L1971.7 1276.7L1974 1259.7L1975.9 1271.5L1978 1307.8L1982.2 1403.2L1984.3 1430.6L1986.4 1434.8L1994.8 1434.8L2001.1 1434.7L2003.2 1423.8L2005.3 1391.1L2009.5 1307.6L2011.6 1284.1L2012.6 1281.2L2013.7 1284.7L2015.8 1309.2L2020 1393L2022.1 1424.6L2024.2 1431.2L2026.3 1428.9L2028.4 1427.5L2030.5 1427.9L2034.7 1432L2036.8 1433.1L2038.9 1432.7L2041 1430.7L2043.1 1428.3L2045.2 1427.3L2047.3 1428.7L2049.4 1431.3L2051.5 1433.2L2053.6 1434L2055.7 1433.9L2057.8 1433.1L2059.9 1432L2062 1432.1L2064.1 1433.2L2066.2 1434L2068.3 1434L2070.4 1433.3L2072.5 1432L2074.6 1431.4L2076.7 1432.1L2078.8 1433.4L2080.9 1434.2L2089.3 1434.5L2097.7 1434.6L2106.1 1434.8L2110.3 1434.7L2112.4 1434.5L2114.5 1433.7L2116.6 1432.8L2118.7 1432.4L2120.8 1433L2122.9 1434L2125 1434.5L2127.1 1433.8L2129.2 1431.9L2131.3 1430.6L2133.4 1431.7L2135.5 1433.7L2137.6 1434.8L2139.7 1435.1L2143.9 1435.1L2146 1434.7L2148.1 1433.7L2150.2 1431.9L2152.3 1430.5L2154.4 1430.5L2158.6 1433.8L2160.7 1434.8L2162.8 1435.2L2164.9 1435.2L2167 1434.6L2169.1 1423.2L2171.2 1379.5L2175.4 1257.9L2177.5 1219.6L2178.8 1212.5L2181.7 1246.2L2183.8 1302.5L2185.9 1365.8L2188 1415.4L2190.1 1435.2L2192.2 1435.2L2194.3 1432.7L2196.4 1404.6L2198.5 1353.6L2200.6 1296.3L2202.7 1251.3L2204.9 1233.3L2206.9 1248.2L2209 1291.2L2213.2 1400.5L2215.3 1431.2L2217.4 1429.3L2219.5 1398L2223.7 1298.5L2225.8 1262.7L2227.5 1252.9L2230 1273.7L2232.1 1316.8L2234.2 1368.9L2236.3 1412.8L2238.4 1433.6L2240.5 1434L2244.7 1432.2L2246.8 1432.1L2251 1433.5L2253.1 1433.3L2257.3 1430.9L2259.4 1430.4L2261.5 1431.2L2263.6 1432.6L2265.7 1433.7L2267.8 1434.1L2276.2 1434.3L2278.3 1434.2L2280.4 1433.9L2284.6 1432.2L2286.7 1431.8L2288.8 1432.4L2290.9 1433.4L2293 1434L2301.4 1434.4L2309.8 1434.4L2318.2 1434.5L2322.4 1434L2326.6 1433.2L2328.7 1433.2L2330.8 1433.6L2332.9 1432.9L2335 1409.7L2337.1 1362.4L2339.2 1307.4L2341.3 1262.5L2343.7 1242.2L2345.5 1253.8L2347.6 1292.8L2351.8 1398L2353.9 1429.8L2356 1434.3L2358.1 1408.5L2360.2 1353.1L2362.3 1286.4L2364.4 1230L2367 1201.2L2368.6 1212.4L2370.7 1256.9L2374.9 1384.9L2377 1426.6L2379.1 1435.2L2387.5 1435.3L2395.9 1435.3L2404.3 1435.3L2412.7 1435.3L2416.9 1434.9L2419 1434.3L2423.2 1432.8L2425.3 1432.8L2429.5 1434.3L2431.6 1434.8L2440 1435L2448.4 1434.9L2456.8 1434.8L2461 1434.6L2463.1 1434.3L2465.2 1433.3L2467.3 1431.5L2469.4 1429.3L2471.5 1427.8L2473.6 1427.9L2475.7 1429.7L2477.8 1431.8L2479.9 1433.4L2482 1434.1L2484.1 1434.4L2488.3 1434.4L2490.4 1434.2L2492.5 1433.8L2496.7 1432.2L2498.8 1431.8L2500.9 1431.9L2505.1 1432.6L2511.4 1432.8L2513.5 1432.6L2515.6 1432.6L2519.8 1434L2528.2 1434.3L2536.6 1434.4L2545 1434.4L2553.4 1434.5L2557.6 1434.5L2559.7 1434.2L2561.8 1430.2L2563.9 1399.1L2566 1338.9L2568.1 1271.2L2570.2 1218.1L2572.4 1196.9L2574.4 1214.5L2576.5 1265.2L2580.7 1394.3L2582.8 1430.5L2584.9 1434.9L2593.3 1435L2597.5 1435L2599.6 1434.9L2601.7 1434.4L2605.9 1432.4L2610.1 1431.5L2612.2 1422.2L2614.3 1387.5L2616.4 1342.3L2618.5 1301.4L2620.6 1278L2621.5 1275.6L2622.7 1279.9L2624.8 1306.4L2629 1393.4L2631.1 1425.6L2633.2 1434.9L2635.3 1413L2637.4 1364.1L2639.5 1304L2641.6 1252.3L2644.3 1224.5L2645.8 1233.4L2647.9 1272.2L2652.1 1387.5L2654.2 1425.5L2656.3 1428.1L2658.4 1407.8L2662.6 1330.2L2664.7 1301.5L2666.5 1292.9L2668.9 1307.9L2671 1340.9L2673.1 1381.5L2675.2 1416.4L2677.3 1434L2679.4 1434.9L2687.8 1434.8L2689.9 1434.7L2692 1434L2694.1 1432.3L2696.2 1429.6L2698.3 1427.8L2700.4 1428.6L2702.5 1431.1L2704.6 1433.1L2706.7 1433.5L2710.9 1432.5L2713 1432.8L2717.2 1434.1L2721.4 1434.4L2723.5 1434.4L2725.6 1434L2727.7 1432.5L2729.8 1430L2731.9 1429.6L2734 1431.9L2736.1 1433.7L2738.2 1434.2L2742.4 1434.2L2744.5 1433.8L2746.6 1432.9L2748.7 1432.3L2750.8 1432.7L2752.9 1433.6L2755 1434.1L2757.1 1434.3L2759.2 1434.2L2761.3 1433.7L2763.4 1432.9L2765.5 1433.1L2767.6 1433.9L2769.7 1434.3L2778.1 1434.5L2786.5 1434.5L2788.6 1434.6" stroke="#0735f7"/>
<path d="M1108.6 1434.7L1110.7 1433.9L1114.9 1431.6L1117 1431.3L1119.1 1432.1L1121.2 1433.3L1123.3 1434L1125.4 1434L1127.5 1433.7L1131.7 1434L1133.8 1432.9L1138 1427.1L1140.1 1426.8L1144.3 1433.2L1146.4 1434.7L1148.5 1435.1L1156.9 1435.1L1161.1 1434.9L1163.2 1434.7L1167.4 1433.7L1169.5 1433.4L1171.6 1433.7L1175.8 1434.6L1184.2 1434.7L1190.5 1434.7L1192.6 1434L1194.7 1410.3L1196.8 1358.5L1198.9 1296.1L1201 1243.4L1203.6 1216.5L1205.2 1227L1207.3 1268.6L1211.5 1388.2L1213.6 1426.5L1215.7 1431.6L1217.8 1429.7L1219.9 1429.3L1222 1429.9L1224.1 1430.3L1226.2 1431.4L1228.3 1433.1L1230.4 1434.1L1238.8 1434.3L1247.2 1434.3L1255.6 1434.4L1259.8 1434.4L1261.9 1417L1264 1356.1L1268.2 1191.5L1270.3 1141.4L1271.5 1133.2L1274.5 1181.9L1276.6 1259.3L1278.7 1344.9L1280.8 1410.6L1282.9 1429L1285 1432.8L1287.1 1434.3L1289.2 1434.2L1291.3 1433.6L1293.4 1433.3L1295.5 1433.6L1297.6 1434.3L1299.7 1434.7L1301.8 1434.8L1303.9 1434.1L1306 1431.4L1308.1 1428.3L1310.2 1429L1312.3 1432.5L1314.4 1434.6L1316.5 1435L1324.9 1435.2L1331.2 1435.2L1333.3 1434.9L1335.4 1431.8L1337.5 1402.6L1339.6 1345.2L1341.7 1279.7L1343.8 1227.3L1346.1 1204.9L1348 1220.3L1350.1 1268.1L1354.3 1393.3L1356.4 1426.5L1358.5 1429.2L1360.6 1430.7L1362.7 1432.8L1364.8 1434L1366.9 1433.7L1369 1432.9L1371.1 1432.9L1375.3 1434.6L1377.4 1435L1383.7 1435.1L1385.8 1434.7L1390 1432.7L1392.1 1432.9L1394.2 1434.1L1396.3 1434.8L1402.6 1434.9L1404.7 1434.6L1408.9 1432.4L1411 1433L1413.1 1434.2L1415.2 1434.7L1423.6 1434.6L1425.7 1434.5L1427.8 1433.8L1429.9 1432.5L1432 1432.1L1436.2 1434.1L1438.3 1434.4L1446.7 1434.4L1453 1434.3L1455.1 1434.1L1457.2 1433.6L1461.4 1431.7L1463.5 1431.3L1465.6 1431.8L1467.7 1432.8L1469.8 1433.4L1471.9 1432.7L1474 1430.8L1476.1 1419.7L1478.2 1378.2L1480.3 1324.3L1482.4 1275.4L1484.5 1247.6L1485.4 1244.7L1486.6 1249.9L1488.7 1281.4L1492.9 1385.3L1495 1423.6L1497.1 1425.3L1499.2 1383.1L1503.4 1257.3L1505.5 1214.9L1507 1205.2L1509.7 1235.6L1511.8 1292L1513.9 1357.5L1516 1411L1518.1 1434.2L1520.2 1434.4L1522.3 1433.8L1526.5 1431.9L1528.6 1432L1532.8 1434.1L1534.9 1434.7L1543.3 1435L1551.7 1435.1L1560.1 1435.2L1566.4 1435.2L1568.5 1423.3L1570.6 1393.6L1572.7 1355.7L1574.8 1321.9L1577.7 1301.7L1579 1305.9L1581.1 1328.9L1585.3 1401.8L1587.4 1428L1589.5 1435.2L1593.7 1434.6L1597.9 1433.8L1600 1433.8L1602.1 1433.4L1604.2 1431L1606.3 1428.2L1608.4 1429.6L1610.5 1433.2L1612.6 1434.9L1614.7 1435.1L1623.1 1435.1L1631.5 1435L1639.9 1434.9L1644.1 1434.6L1646.2 1434.1L1648.3 1433.2L1650.4 1432.7L1652.5 1433.1L1654.6 1433.9L1656.7 1434.4L1665.1 1434.5L1669.3 1434.3L1671.4 1433.9L1677.7 1431.5L1679.8 1431L1681.9 1431.4L1684 1432.5L1686.1 1433.2L1688.2 1433L1690.3 1432.3L1692.4 1431.8L1694.5 1432.1L1698.7 1433.7L1700.8 1434.1L1705 1434.2L1707.1 1421.3L1709.2 1374.6L1713.4 1248.5L1715.5 1210.2L1716.7 1203.9L1719.7 1241.2L1721.8 1300.5L1723.9 1366L1726 1416.4L1728.1 1434L1732.3 1434.4L1738.6 1434.4L1740.7 1434L1742.8 1433L1744.9 1431.1L1747 1428.8L1749.1 1427.7L1751.2 1428.5L1755.4 1432.8L1757.5 1434.1L1759.6 1434.6L1768 1434.9L1776.4 1435L1784.8 1435.1L1789 1434.9L1791.1 1433.9L1793.2 1431.6L1795.3 1428.8L1797.4 1428.5L1801.6 1433.5L1803.7 1434.2L1805.8 1433.3L1810 1432.6L1814.2 1428.5L1816.3 1428.8L1820.5 1433.7L1822.6 1434.9L1824.7 1435.2L1833.1 1435.3L1841.5 1435.2L1849.9 1435.1L1858.3 1435L1862.5 1435L1864.6 1422L1866.7 1358.2L1870.9 1162.5L1873 1120.2L1874.6 1120.2L1877.2 1121.2L1879.3 1207.5L1881.4 1309.6L1883.5 1394.4L1885.6 1432.2L1887.7 1432.7L1889.8 1418.9L1891.9 1372.3L1896.1 1253.4L1898.2 1219.8L1899.2 1215.7L1900.3 1220.7L1902.4 1255.7L1906.6 1375L1908.7 1420.5L1910.8 1434.2L1912.9 1433.8L1917.1 1432.6L1919.2 1432.3L1921.3 1432.6L1925.5 1433.7L1927.6 1433.7L1929.7 1432.9L1933.9 1429.6L1936 1428.4L1938.1 1426.8L1940.2 1427L1942.3 1430.5L1944.4 1433.3L1946.5 1434.1L1954.9 1434.4L1963.3 1434.4L1971.7 1434.5L1980.1 1434.6L1988.5 1434.7L1996.9 1434.8L2005.3 1435L2013.7 1435.1L2022.1 1435.2L2030.5 1435.2L2032.6 1434.9L2036.8 1433.5L2038.9 1433.3L2043.1 1434.8L2045.2 1435.2L2049.4 1435.2L2051.5 1434.5L2053.6 1424.6L2055.7 1374.7L2059.9 1220.7L2062 1167.2L2063.6 1153.7L2066.2 1188.3L2068.3 1256.2L2070.4 1336.5L2072.5 1403.1L2074.6 1434.4L2076.7 1435.2L2085.1 1435.1L2093.5 1435L2101.9 1434.9L2110.3 1434.8L2118.7 1434.7L2120.8 1434.6L2122.9 1426.6L2125 1407.1L2127.1 1382.4L2129.2 1360.8L2132 1348.5L2133.4 1351.7L2135.5 1367.1L2139.7 1414.6L2141.8 1429.2L2143.9 1433.7L2146 1434.2L2152.3 1434.3L2154.4 1434.2L2156.5 1433.8L2158.6 1433L2162.8 1429.7L2164.9 1429.5L2169.1 1432.6L2171.2 1433.6L2173.3 1434L2175.4 1434L2177.5 1433.5L2181.7 1431.7L2183.8 1431.4L2185.9 1432L2190.1 1433.8L2192.2 1434.2L2200.6 1434.5L2209 1434.6L2217.4 1434.7L2225.8 1434.8L2227.9 1434.6L2232.1 1433L2234.2 1433.3L2236.3 1434.3L2238.4 1434.9L2246.8 1435.1L2255.2 1435.2L2257.3 1435.2L2259.4 1429L2261.5 1411.2L2265.7 1365.9L2267.8 1353.1L2268.8 1351.5L2269.9 1353.4L2272 1366.7L2276.2 1412.2L2278.3 1429.6L2280.4 1434.7L2282.5 1419L2284.6 1385.4L2286.7 1344.9L2288.8 1310.7L2291.4 1293.2L2293 1300L2295.1 1327L2299.3 1404.7L2301.4 1428.5L2303.5 1429.8L2307.7 1422.4L2309.8 1421.1L2311.9 1423.1L2316.1 1431.2L2318.2 1433.6L2320.3 1434.6L2322.4 1434.9L2324.5 1434.7L2328.7 1432.5L2330.8 1433.1L2332.9 1434.3L2335 1434.8L2337.1 1434.7L2339.2 1434.4L2343.4 1433L2345.5 1432.8L2347.6 1433.2L2349.7 1433.8L2351.8 1434.3L2353.9 1434.4L2356 1434.2L2360.2 1433L2362.3 1432.6L2364.4 1432.7L2368.6 1433.8L2370.7 1434.2L2379.1 1434.4L2381.2 1434.3L2383.3 1433.9L2385.4 1433L2387.5 1432.3L2389.6 1432.9L2391.7 1433.9L2393.8 1434.2L2395.9 1434.3L2398 1430.8L2400.1 1413.1L2404.3 1357L2406.4 1337.5L2408 1332.6L2410.6 1345.2L2412.7 1369.9L2414.8 1399.2L2416.9 1423.5L2419 1434.1L2421.1 1434.4L2427.4 1434.4L2429.5 1434.1L2431.6 1432.9L2433.7 1431L2435.8 1430.7L2440 1433.9L2442.1 1434.5L2450.5 1434.6L2452.6 1434.4L2454.7 1433.8L2456.8 1432.6L2458.9 1430.8L2461 1430.6L2463.1 1432.4L2465.2 1433.9L2467.3 1431.4L2469.4 1404.4L2473.6 1307.4L2475.7 1269.3L2477.7 1256L2479.9 1272L2482 1311.9L2484.1 1362.8L2486.2 1408.1L2488.3 1433L2490.4 1435.2L2492.5 1435L2494.6 1434.6L2496.7 1433.6L2498.8 1432.1L2500.9 1431.3L2503 1431.7L2507.2 1434.4L2509.3 1435L2511.4 1435.2L2513.5 1435.2L2515.6 1435L2517.7 1434.3L2521.9 1431.4L2524 1430.5L2526.1 1430.8L2530.3 1432.6L2532.4 1433.2L2534.5 1433.9L2536.6 1434.4L2538.7 1421.3L2540.8 1392.3L2542.9 1357.5L2545 1328L2547.6 1313L2549.2 1318.8L2551.3 1342.1L2555.5 1408.9L2557.6 1430L2559.7 1432.5L2561.8 1432.2L2563.9 1433.7L2566 1434.7L2568.1 1434.6L2570.2 1433.9L2572.3 1432.6L2574.4 1432.4L2578.6 1434.4L2580.7 1434.7L2589.1 1434.6L2597.5 1434.5L2605.9 1434.4L2614.3 1434.4L2622.7 1434.3L2631.1 1434.2L2633.2 1434L2635.3 1433.1L2637.4 1431.1L2639.5 1428.6L2641.6 1427.3L2643.7 1428.4L2645.8 1430.9L2647.9 1433L2650 1434L2652.1 1434.3L2656.3 1434.3L2658.4 1433.8L2660.5 1432.4L2662.6 1429.7L2664.7 1428.3L2666.8 1430.5L2668.9 1433.2L2671 1434.4L2679.4 1434.6L2687.8 1434.8L2694.1 1434.8L2696.2 1434L2698.3 1422L2700.4 1398.8L2702.5 1372.2L2704.6 1351L2706.9 1341.9L2708.8 1348.1L2710.9 1367.5L2715.1 1418.2L2717.2 1433L2719.3 1435.1L2725.6 1435.1L2727.7 1434.9L2729.8 1434.3L2734 1432.3L2736.1 1432.2L2740.3 1434.8L2742.4 1435.2L2750.8 1435.3L2759.2 1435.3L2767.6 1435.2L2776 1435.2L2784.4 1435.1L2788.6 1435.0" stroke="#000000"/>
<path d="M1108.6 1435.3L1117 1435.3L1119.1 1434.2L1121.2 1413.8L1123.3 1374.2L1125.4 1328.2L1127.5 1290.6L1129.9 1273.6L1131.7 1283.3L1133.8 1315.9L1138 1404L1140.1 1430.8L1142.2 1435.2L1144.3 1435.1L1146.4 1417.1L1148.5 1371.7L1150.6 1313.9L1152.7 1262.4L1155.6 1231.6L1156.9 1238.1L1159 1273.1L1163.2 1384.3L1165.3 1424.2L1167.4 1434.9L1169.5 1425.1L1171.6 1388.7L1175.8 1287.1L1177.9 1255.1L1179.2 1249.2L1182.1 1277.4L1184.2 1324.4L1186.3 1377.2L1188.4 1418.6L1190.5 1434.6L1198.9 1434.5L1203.1 1434.4L1205.2 1434.1L1207.3 1433.4L1211.5 1431.6L1213.6 1431.4L1215.7 1432.2L1217.8 1433.2L1219.9 1433.9L1222 1434.2L1230.4 1434.3L1234.6 1434.3L1236.7 1434L1238.8 1416.8L1240.9 1376.4L1243 1326.7L1245.1 1284L1247.8 1261L1249.3 1268.3L1251.4 1300.5L1255.6 1395.7L1257.7 1427.4L1259.8 1434L1261.9 1433.1L1264 1431.2L1266.1 1428.7L1268.2 1427.5L1270.3 1428.6L1272.4 1431.1L1274.5 1433.2L1276.6 1434.2L1278.7 1434.6L1287.1 1434.8L1295.5 1434.9L1303.9 1435L1306 1434.9L1308.1 1434.7L1310.2 1434.1L1312.3 1419.2L1314.4 1373.4L1318.6 1256.5L1320.7 1223.6L1321.7 1219.5L1322.8 1224.4L1324.9 1258.8L1329.1 1376L1331.2 1420.8L1333.3 1435.3L1337.5 1435.1L1339.6 1434.6L1343.8 1433.3L1345.9 1433.5L1350.1 1434.8L1352.2 1434.9L1356.4 1434L1358.5 1423.9L1360.6 1389.5L1364.8 1298.9L1366.9 1272.3L1368 1268.5L1369 1271.6L1371.1 1297.1L1375.3 1387.4L1377.4 1422.9L1379.5 1435.1L1387.9 1435L1396.3 1434.9L1404.7 1434.8L1413.1 1434.7L1419.4 1434.5L1421.5 1433.9L1423.6 1432.8L1425.7 1432.8L1427.8 1433.9L1429.9 1434.4L1438.3 1434.4L1440.4 1434L1442.5 1432.6L1444.6 1430.1L1446.7 1428.2L1448.8 1428.6L1450.9 1430L1457.2 1433.2L1459.3 1433.9L1461.4 1434.2L1469.8 1434.3L1476.1 1434.3L1478.2 1434.1L1480.3 1433.5L1482.4 1432.2L1484.5 1430.4L1486.6 1429.4L1488.7 1430L1492.9 1433.3L1495 1434.1L1497.1 1434.4L1501.3 1434.5L1503.4 1434.2L1505.5 1433.2L1507.6 1431.4L1509.7 1430.7L1511.8 1432L1513.9 1433.8L1516 1434.5L1524.4 1434.8L1532.8 1434.9L1541.2 1435L1549.6 1435.1L1555.9 1435.1L1558 1434.6L1560.1 1433.7L1562.2 1433.2L1564.3 1433.4L1566.4 1432.5L1568.5 1430.4L1570.6 1431.3L1572.7 1434L1574.8 1435.1L1583.2 1435.3L1591.6 1435.2L1593.7 1435.1L1595.8 1434.4L1600 1432.3L1602.1 1432.5L1606.3 1434.6L1608.4 1435L1610.5 1435.1L1612.6 1433.1L1614.7 1411.6L1616.8 1372.2L1618.9 1327.9L1621 1293.2L1623.2 1279.3L1625.2 1290.8L1627.3 1324L1631.5 1408.4L1633.6 1432L1635.7 1434.8L1644.1 1434.7L1652.5 1434.6L1654.6 1434.6L1656.7 1434.1L1658.8 1414.6L1660.9 1371.7L1663 1320.1L1665.1 1276.5L1667.7 1254.2L1669.3 1262.9L1671.4 1297.3L1675.6 1396.3L1677.7 1428.2L1679.8 1434.4L1681.9 1432.8L1684 1409.4L1686.1 1363.9L1688.2 1312L1690.3 1270.4L1692.6 1252.7L1694.5 1264.9L1696.6 1302.7L1700.8 1402L1702.9 1425.7L1705 1427.1L1707.1 1429.3L1709.2 1429.9L1711.3 1430.2L1713.4 1431L1715.5 1431.5L1717.6 1431.7L1719.7 1432.1L1723.9 1433.6L1726 1434.1L1734.4 1434.5L1736.5 1434.5L1738.6 1434L1740.7 1432.9L1742.8 1432.6L1744.9 1432.8L1747 1431.7L1749.1 1430.4L1751.2 1430L1753.3 1430.8L1755.4 1432.6L1757.5 1434.1L1759.6 1434.7L1768 1435L1776.4 1435.1L1784.8 1435.2L1789 1435.1L1791.1 1434.9L1793.2 1434L1795.3 1432.5L1797.4 1431.3L1799.5 1431.6L1803.7 1434.4L1805.8 1435.1L1807.9 1435.2L1810 1434.9L1814.2 1433.5L1816.3 1433.3L1820.5 1434.7L1822.6 1435.1L1831 1435.2L1839.4 1435.2L1841.5 1435L1843.6 1419.5L1845.7 1382.7L1847.8 1336.7L1849.9 1296.5L1852.7 1273.6L1854.1 1279.5L1856.2 1308.4L1860.4 1396.7L1862.5 1427.3L1864.6 1434.4L1868.8 1433.4L1870.9 1433.4L1875.1 1434.3L1879.3 1434.7L1887.7 1434.6L1891.9 1434.3L1896.1 1432L1898.2 1432.7L1900.3 1434L1902.4 1434.4L1910.8 1434.4L1912.9 1434.2L1915 1417.4L1917.1 1375.8L1919.2 1323.7L1921.3 1278.1L1924.1 1252.2L1925.5 1258.9L1927.6 1291.6L1931.8 1391.6L1933.9 1426.1L1936 1434.2L1938.1 1434.3L1940.2 1421.9L1942.3 1380.9L1946.5 1273.3L1948.6 1241.7L1949.7 1237.2L1950.7 1240.9L1952.8 1271.2L1957 1378.5L1959.1 1420.5L1961.2 1434.5L1969.6 1434.6L1978 1434.7L1984.3 1434.7L1986.4 1434.4L1990.6 1433.3L1992.7 1433.5L1994.8 1433.4L1999 1428L2001.1 1430.1L2003.2 1433.4L2005.3 1434L2009.5 1432.6L2011.6 1433L2013.7 1434L2015.8 1434.8L2017.9 1435L2020 1434.6L2022.1 1432.9L2024.2 1430L2026.3 1428.2L2028.4 1429.7L2030.5 1423.6L2032.6 1381.8L2036.8 1265.1L2038.9 1228.3L2040.2 1221.5L2043.1 1253.8L2045.2 1307.9L2047.3 1368.6L2049.4 1416.2L2051.5 1435L2053.6 1433.9L2055.7 1431.9L2057.8 1430.8L2059.9 1432.1L2062 1434L2064.1 1434.9L2066.2 1434.8L2070.4 1433.6L2072.5 1433.2L2074.6 1433.3L2078.8 1434.4L2080.9 1434.8L2089.3 1435L2095.6 1434.9L2097.7 1434.7L2099.8 1434.2L2101.9 1433.1L2104 1431L2106.1 1428L2108.2 1426.1L2110.3 1427.6L2112.4 1431.1L2114.5 1433.6L2116.6 1434.4L2118.7 1434.4L2120.8 1433.9L2122.9 1432.3L2125 1429.8L2127.1 1427.9L2129.2 1427.9L2131.3 1429.5L2133.4 1431.4L2135.5 1433L2137.6 1433.9L2139.7 1434.2L2146 1434.3L2148.1 1434.2L2150.2 1433.5L2152.3 1431.9L2154.4 1430L2156.5 1429.3L2160.7 1431.9L2162.8 1431.9L2167 1429.5L2169.1 1429.5L2171.2 1430.7L2173.3 1432.3L2175.4 1433.5L2177.5 1433.9L2179.6 1433.8L2183.8 1432.4L2185.9 1431.9L2188 1432.1L2192.2 1433.6L2194.3 1434.2L2198.5 1434.5L2202.7 1434.4L2204.8 1434L2209 1432.4L2211.1 1432.2L2213.2 1432.9L2215.3 1433.8L2217.4 1434.4L2225.8 1434.9L2234.2 1435L2242.6 1435.1L2251 1435.2L2259.4 1435.2L2263.6 1435.2L2265.7 1434.8L2267.8 1434.1L2272 1431.8L2274.1 1431.4L2276.2 1432L2280.4 1434.4L2282.5 1435L2290.9 1435.3L2299.3 1435.2L2305.6 1435.2L2307.7 1423.8L2309.8 1378.3L2314 1247.8L2316.1 1205.2L2317.5 1196.4L2320.3 1230.2L2322.4 1289.7L2324.5 1357.7L2326.6 1412L2328.7 1432.2L2330.8 1432L2335 1434.2L2337.1 1434.7L2345.5 1434.7L2353.9 1434.6L2362.3 1434.5L2370.7 1434.4L2377 1434.3L2379.1 1434.1L2381.2 1433.3L2383.3 1431.9L2385.4 1431.4L2389.6 1433.8L2391.7 1434.2L2398 1434.2L2400.1 1433.9L2404.3 1432.5L2406.4 1432L2408.5 1431.9L2412.7 1431.2L2414.8 1431.7L2419 1433.7L2421.1 1433.9L2423.2 1433.3L2425.3 1431.8L2427.4 1429.7L2429.5 1427.9L2431.6 1427.6L2433.7 1429.1L2435.8 1431.3L2437.9 1433.1L2440 1434.1L2442.1 1434.5L2444.2 1434.7L2446.3 1422.4L2448.4 1382.8L2452.6 1279L2454.7 1248.6L2455.8 1244.2L2456.8 1247.8L2458.9 1277L2463.1 1380.5L2465.2 1421.1L2467.3 1433.6L2469.4 1433.8L2471.5 1434.6L2473.6 1434.8L2475.7 1434.2L2479.9 1432.5L2486.2 1431.1L2488.3 1431.3L2490.4 1432.3L2492.5 1432.7L2494.6 1431.6L2496.7 1431.2L2500.9 1434.7L2503 1435.2L2511.4 1435.3L2519.8 1435.3L2526.1 1435.1L2528.2 1434.5L2530.3 1433L2534.5 1427.1L2536.6 1425.7L2538.7 1427.1L2540.8 1430.2L2542.9 1432.9L2545 1434.4L2547.1 1434.9L2555.5 1435L2563.9 1434.9L2572.3 1434.8L2580.7 1434.6L2587 1434.5L2589.1 1421L2591.2 1377.1L2595.4 1261.9L2597.5 1228.1L2598.6 1223.3L2599.6 1227.3L2601.7 1259.7L2605.9 1374.5L2608 1419.5L2610.1 1432.8L2612.2 1433.6L2614.3 1433.4L2618.5 1430.4L2620.6 1430.8L2622.7 1432.6L2624.8 1433.9L2626.9 1434.2L2635.3 1434.3L2643.7 1434.3L2645.8 1434.1L2647.9 1433.8L2654.2 1431.6L2656.3 1431.1L2658.4 1430L2660.5 1428.2L2662.6 1428.8L2664.7 1431.7L2666.8 1433.6L2668.9 1434.3L2677.3 1434.7L2685.7 1434.8L2694.1 1434.9L2700.4 1434.9L2702.5 1434.3L2704.6 1433L2706.7 1432.7L2708.8 1433.9L2710.9 1434.6L2713 1434L2715.1 1433.7L2717.2 1434.5L2719.3 1435.1L2727.7 1435.3L2736.1 1435.3L2744.5 1435.3L2752.9 1435.3L2761.3 1435.2L2765.5 1435.2L2767.6 1433.6L2769.7 1411.1L2771.8 1368.6L2773.9 1320.1L2776 1281.3L2778.3 1264.8L2780.2 1276.2L2782.3 1311.5L2786.5 1404.2L2788.6 1429.1" stroke="#ea3323"/>
</g>
<text x="1129.2" y="1102.6" fill="#ea3323">T</text>
<text x="1129.2" y="1121.2" fill="#ea3323">T</text>
<text x="1154.6" y="1102.6" fill="#ea3323">T</text>
<text x="1154.6" y="1121.2" fill="#ea3323">T</text>
<text x="1176.2" y="1102.6" fill="#ea3323">T</text>
<text x="1176.2" y="1121.2" fill="#ea3323">T</text>
<text x="1202.1" y="1102.6" fill="#000000">G</text>
<text x="1202.1" y="1121.2" fill="#000000">G</text>
<text x="1224.7" y="1102.6" fill="#6df043">A</text>
<text x="1224.7" y="1121.2" fill="#6df043">A</text>
<text x="1247.3" y="1102.6" fill="#ea3323">T</text>
<text x="1247.3" y="1121.2" fill="#ea3323">T</text>
<text x="1267.7" y="1102.6" fill="#000000">G</text>
<text x="1267.7" y="1121.2" fill="#000000">G</text>
<text x="1297.1" y="1102.6" fill="#0735f7">C</text>
<text x="1297.1" y="1121.2" fill="#0735f7">C</text>
<text x="1320.2" y="1102.6" fill="#ea3323">T</text>
<text x="1320.2" y="1121.2" fill="#ea3323">T</text>
<text x="1340.8" y="1102.6" fill="#000000">G</text>
<text x="1340.8" y="1121.2" fill="#000000">G</text>
<text x="1369.8" y="1102.6" fill="#ea3323">T</text>
<text x="1369.8" y="1121.2" fill="#ea3323">T</text>
<text x="1392.9" y="1102.6" fill="#0735f7">C</text>
<text x="1392.9" y="1121.2" fill="#0735f7">C</text>
<text x="1409.0" y="1102.6" fill="#0735f7">C</text>
<text x="1409.0" y="1121.2" fill="#0735f7">C</text>
<text x="1439.9" y="1102.6" fill="#0735f7">C</text>
<text x="1439.9" y="1121.2" fill="#0735f7">C</text>
<text x="1461.8" y="1102.6" fill="#0735f7">C</text>
<text x="1461.8" y="1121.2" fill="#0735f7">C</text>
<text x="1482.1" y="1102.6" fill="#000000">G</text>
<text x="1482.1" y="1121.2" fill="#000000">G</text>
<text x="1513.1" y="1102.6" fill="#000000">G</text>
<text x="1513.1" y="1121.2" fill="#000000">G</text>
<text x="1531.4" y="1102.6" fill="#6df043">A</text>
<text x="1531.4" y="1121.2" fill="#6df043">A</text>
<text x="1554.6" y="1102.6" fill="#0735f7">C</text>
<text x="1554.6" y="1121.2" fill="#0735f7">C</text>
<text x="1575.7" y="1102.6" fill="#000000">G</text>
<text x="1575.7" y="1121.2" fill="#000000">G</text>
<text x="1599.3" y="1102.6" fill="#6df043">A</text>
<text x="1599.3" y="1121.2" fill="#6df043">A</text>
<text x="1621.7" y="1102.6" fill="#ea3323">T</text>
<text x="1621.7" y="1121.2" fill="#ea3323">T</text>
<text x="1643.5" y="1102.6" fill="#6df043">A</text>
<text x="1643.5" y="1121.2" fill="#6df043">A</text>
<text x="1667.9" y="1102.6" fill="#ea3323">T</text>
<text x="1667.9" y="1121.2" fill="#ea3323">T</text>
<text x="1694.1" y="1102.6" fill="#ea3323">T</text>
<text x="1694.1" y="1121.2" fill="#ea3323">T</text>
<text x="1715.7" y="1102.6" fill="#000000">G</text>
<text x="1715.7" y="1121.2" fill="#000000">G</text>
<text x="1740.8" y="1102.6" fill="#6df043">A</text>
<text x="1740.8" y="1121.2" fill="#6df043">A</text>
<text x="1765.7" y="1102.6" fill="#6df043">A</text>
<text x="1765.7" y="1121.2" fill="#6df043">A</text>
<text x="1783.3" y="1102.6" fill="#0735f7">C</text>
<text x="1783.3" y="1121.2" fill="#0735f7">C</text>
<text x="1802.7" y="1102.6" fill="#6df043">A</text>
<text x="1802.7" y="1121.2" fill="#6df043">A</text>
<text x="1824.3" y="1102.6" fill="#6df043">A</text>
<text x="1824.3" y="1121.2" fill="#6df043">A</text>
<text x="1849.7" y="1102.6" fill="#ea3323">T</text>
<text x="1849.7" y="1121.2" fill="#ea3323">T</text>
<text x="1874.6" y="1102.6" fill="#000000">G</text>
<text x="1874.6" y="1121.2" fill="#000000">G</text>
<text x="1896.9" y="1102.6" fill="#000000">G</text>
<text x="1896.9" y="1121.2" fill="#000000">G</text>
<text x="1920.3" y="1102.6" fill="#ea3323">T</text>
<text x="1920.3" y="1121.2" fill="#ea3323">T</text>
<text x="1951.7" y="1102.6" fill="#ea3323">T</text>
<text x="1951.7" y="1121.2" fill="#ea3323">T</text>
<text x="1970.1" y="1102.6" fill="#0735f7">C</text>
<text x="1970.1" y="1121.2" fill="#0735f7">C</text>
<text x="1987.3" y="1102.6" fill="#6df043">A</text>
<text x="1987.3" y="1121.2" fill="#6df043">A</text>
<text x="2009.8" y="1102.6" fill="#0735f7">C</text>
<text x="2009.8" y="1121.2" fill="#0735f7">C</text>
<text x="2034.0" y="1102.6" fill="#ea3323">T</text>
<text x="2034.0" y="1121.2" fill="#ea3323">T</text>
<text x="2062.6" y="1102.6" fill="#000000">G</text>
<text x="2062.6" y="1121.2" fill="#000000">G</text>
<text x="2084.0" y="1102.6" fill="#6df043">A</text>
<text x="2084.0" y="1121.2" fill="#6df043">A</text>
<text x="2113.1" y="1102.6" fill="#6df043">A</text>
<text x="2113.1" y="1121.2" fill="#6df043">A</text>
<text x="2136.3" y="1102.6" fill="#000000">G</text>
<text x="2136.3" y="1121.2" fill="#000000">G</text>
<text x="2157.6" y="1102.6" fill="#6df043">A</text>
<text x="2157.6" y="1121.2" fill="#6df043">A</text>
<text x="2177.8" y="1102.6" fill="#0735f7">C</text>
<text x="2177.8" y="1121.2" fill="#0735f7">C</text>
<text x="2199.1" y="1102.6" fill="#0735f7">C</text>
<text x="2199.1" y="1121.2" fill="#0735f7">C</text>
<text x="2225.8" y="1102.6" fill="#0735f7">C</text>
<text x="2225.8" y="1121.2" fill="#0735f7">C</text>
<text x="2243.4" y="1102.6" fill="#6df043">A</text>
<text x="2243.4" y="1121.2" fill="#6df043">A</text>
<text x="2262.0" y="1102.6" fill="#000000">G</text>
<text x="2262.0" y="1121.2" fill="#000000">G</text>
<text x="2289.6" y="1102.6" fill="#000000">G</text>
<text x="2289.6" y="1121.2" fill="#000000">G</text>
<text x="2316.0" y="1102.6" fill="#ea3323">T</text>
<text x="2316.0" y="1121.2" fill="#ea3323">T</text>
<text x="2342.4" y="1102.6" fill="#0735f7">C</text>
<text x="2342.4" y="1121.2" fill="#0735f7">C</text>
<text x="2366.3" y="1102.6" fill="#0735f7">C</text>
<text x="2366.3" y="1121.2" fill="#0735f7">C</text>
<text x="2386.1" y="1102.6" fill="#6df043">A</text>
<text x="2386.1" y="1121.2" fill="#6df043">A</text>
<text x="2410.0" y="1102.6" fill="#000000">G</text>
<text x="2410.0" y="1121.2" fill="#000000">G</text>
<text x="2434.9" y="1102.6" fill="#6df043">A</text>
<text x="2434.9" y="1121.2" fill="#6df043">A</text>
<text x="2454.3" y="1102.6" fill="#ea3323">T</text>
<text x="2454.3" y="1121.2" fill="#ea3323">T</text>
<text x="2475.7" y="1102.6" fill="#000000">G</text>
<text x="2475.7" y="1121.2" fill="#000000">G</text>
<text x="2497.8" y="1102.6" fill="#6df043">A</text>
<text x="2497.8" y="1121.2" fill="#6df043">A</text>
<text x="2522.2" y="1102.6" fill="#6df043">A</text>
<text x="2522.2" y="1121.2" fill="#6df043">A</text>
<text x="2545.8" y="1102.6" fill="#000000">G</text>
<text x="2545.8" y="1121.2" fill="#000000">G</text>
<text x="2567.9" y="1102.6" fill="#0735f7">C</text>
<text x="2567.9" y="1121.2" fill="#0735f7">C</text>
<text x="2593.0" y="1102.6" fill="#ea3323">T</text>
<text x="2593.0" y="1121.2" fill="#ea3323">T</text>
<text x="2613.4" y="1102.6" fill="#0735f7">C</text>
<text x="2613.4" y="1121.2" fill="#0735f7">C</text>
<text x="2637.8" y="1102.6" fill="#0735f7">C</text>
<text x="2637.8" y="1121.2" fill="#0735f7">C</text>
<text x="2663.7" y="1102.6" fill="#0735f7">C</text>
<text x="2663.7" y="1121.2" fill="#0735f7">C</text>
<text x="2687.1" y="1102.6" fill="#6df043">A</text>
<text x="2687.1" y="1121.2" fill="#6df043">A</text>
<text x="2706.7" y="1102.6" fill="#000000">G</text>
<text x="2706.7" y="1121.2" fill="#000000">G</text>
<text x="2730.0" y="1102.6" fill="#6df043">A</text>
<text x="2730.0" y="1121.2" fill="#6df043">A</text>
<text x="2759.0" y="1102.6" fill="#6df043">A</text>
<text x="2759.0" y="1121.2" fill="#6df043">A</text>
<text x="2775.8" y="1102.6" fill="#ea3323">T</text>
<text x="2775.8" y="1121.2" fill="#ea3323">T</text>
<g clip-path="url(#rc3)" fill="none" stroke-width="1.5" stroke-linejoin="round">
<path d="M1108.6 1830L1117 1830L1125.4 1830L1133.8 1830L1142.2 1830L1150.6 1830L1159 1830L1167.4 1830L1173.7 1830L1175.8 1823.4L1177.9 1795.9L1180 1761.5L1182.1 1731.3L1184.9 1714.2L1186.3 1718.6L1188.4 1740.2L1192.6 1806.4L1194.7 1829.5L1196.8 1830L1205.2 1830L1213.6 1830L1222 1830L1226.2 1830L1228.3 1803.3L1230.4 1717.9L1232.5 1606.9L1234.6 1520.2L1240.9 1520.2L1245.1 1732.5L1247.2 1811.6L1249.3 1830L1255.6 1830L1257.7 1829.5L1259.8 1828.1L1261.9 1825.6L1264 1826.6L1266.1 1830L1274.5 1830L1282.9 1830L1291.3 1830L1299.7 1830L1308.1 1830L1316.5 1830L1324.9 1830L1333.3 1830L1341.7 1830L1350.1 1830L1358.5 1830L1366.9 1830L1375.3 1830L1383.7 1830L1392.1 1830L1400.5 1830L1408.9 1830L1417.3 1830L1425.7 1830L1434.1 1830L1442.5 1830L1450.9 1830L1459.3 1830L1467.7 1830L1476.1 1830L1484.5 1830L1492.9 1830L1501.3 1830L1509.7 1830L1518.1 1830L1526.5 1830L1534.9 1830L1543.3 1830L1551.7 1830L1560.1 1830L1568.5 1830L1576.9 1830L1585.3 1830L1593.7 1830L1602.1 1830L1610.5 1830L1618.9 1830L1627.3 1830L1635.7 1830L1644.1 1830L1652.5 1830L1660.9 1830L1669.3 1830L1677.7 1830L1686.1 1830L1694.5 1830L1702.9 1830L1711.3 1830L1719.7 1830L1728.1 1830L1736.5 1830L1744.9 1830L1753.3 1830L1757.5 1830L1759.6 1829.4L1761.7 1828L1763.8 1827.6L1765.9 1829.3L1768 1830L1776.4 1830L1778.5 1830L1780.6 1829L1782.7 1829.1L1784.8 1829.4L1786.9 1827L1789 1827.1L1791.1 1830L1799.5 1830L1801.6 1830L1803.7 1828.8L1805.8 1812.3L1810 1751.1L1812.1 1729.1L1813.8 1723.1L1816.3 1735.9L1818.4 1762.4L1820.5 1794.4L1822.6 1821.4L1824.7 1830L1833.1 1830L1841.5 1830L1849.9 1830L1858.3 1830L1866.7 1830L1868.8 1822.4L1870.9 1788.1L1873 1743.6L1875.1 1703.3L1877.2 1680.3L1878.1 1677.9L1879.3 1682.2L1881.4 1708.2L1885.6 1794L1887.7 1825.6L1889.8 1830L1898.2 1830L1906.6 1830L1915 1830L1919.2 1830L1921.3 1828.4L1923.4 1828.4L1925.5 1830L1933.9 1830L1936 1830L1938.1 1827.9L1940.2 1805L1944.4 1742.2L1946.5 1723.1L1947.7 1720L1950.7 1738.6L1952.8 1768.1L1954.9 1800.7L1957 1825.7L1959.1 1830L1967.5 1830L1975.9 1830L1984.3 1830L1992.7 1830L2001.1 1830L2009.5 1830L2017.9 1830L2026.3 1830L2034.7 1830L2043.1 1830L2051.5 1830L2059.9 1830L2068.3 1830L2076.7 1830L2085.1 1830L2093.5 1830L2099.8 1830L2101.9 1824.2L2104 1780.3L2108.2 1654.3L2110.3 1613.2L2111.7 1604.7L2114.5 1637.3L2116.6 1694.7L2118.7 1760.4L2120.8 1812.8L2122.9 1830L2131.3 1830L2139.7 1830L2141.8 1830L2143.9 1821.7L2146 1792L2148.1 1755.6L2150.2 1724.2L2152.9 1707.3L2154.4 1712.7L2156.5 1736.3L2160.7 1806.2L2162.8 1826.4L2164.9 1828L2169.1 1830L2177.5 1830L2185.9 1830L2194.3 1830L2202.7 1830L2211.1 1830L2219.5 1830L2227.9 1830L2236.3 1830L2244.7 1830L2246.8 1830L2251 1829.4L2253.1 1830L2261.5 1830L2269.9 1830L2278.3 1830L2286.7 1830L2295.1 1830L2303.5 1830L2311.9 1830L2320.3 1830L2328.7 1830L2337.1 1830L2345.5 1830L2353.9 1830L2362.3 1830L2370.7 1830L2379.1 1830L2387.5 1830L2395.9 1830L2404.3 1830L2412.7 1830L2421.1 1830L2429.5 1830L2437.9 1830L2446.3 1830L2454.7 1830L2463.1 1830L2471.5 1830L2479.9 1830L2488.3 1830L2492.5 1830L2494.6 1816.4L2498.8 1757.2L2500.9 1734L2502.9 1725.9L2505.1 1735.6L2507.2 1760L2509.3 1791L2511.4 1818.7L2513.5 1827.1L2515.6 1829.5L2517.7 1830L2526.1 1830L2534.5 1830L2542.9 1830L2551.3 1830L2555.5 1830L2557.6 1829.3L2559.7 1801.3L2563.9 1715.1L2566 1685.1L2567.6 1677.6L2570.2 1697L2572.3 1735L2574.4 1779.9L2576.5 1817.2L2578.6 1830L2587 1830L2589.1 1829.7L2591.2 1828.3L2593.3 1828.9L2595.4 1830L2603.8 1830L2612.2 1830L2614.3 1830L2618.5 1827.2L2620.6 1829L2622.7 1830L2631.1 1830L2639.5 1830L2641.6 1829.6L2643.7 1827.9L2645.8 1829.1L2647.9 1830L2656.3 1830L2664.7 1830L2673.1 1830L2681.5 1830L2689.9 1830L2698.3 1830L2706.7 1830L2715.1 1830L2723.5 1830L2731.9 1830L2740.3 1830L2748.7 1830L2757.1 1830L2765.5 1830L2773.9 1830L2782.3 1830L2788.6 1830.0" stroke="#6df043"/>
<path d="M1108.6 1830L1110.7 1829.5L1112.8 1827.6L1114.9 1828.2L1117 1830L1119.1 1830L1121.2 1828.1L1123.3 1825.9L1125.4 1828.5L1127.5 1830L1129.6 1830L1131.7 1829.5L1133.8 1794.1L1138 1671.5L1140.1 1624.7L1142 1609.6L1144.3 1631.5L1146.4 1682.8L1148.5 1747.1L1150.6 1803.3L1152.7 1830L1156.9 1830L1159 1817.6L1161.1 1773.6L1163.2 1717.5L1165.3 1667.5L1168.2 1637.6L1169.5 1643.9L1171.6 1677.9L1175.8 1785.8L1177.9 1824.4L1180 1830L1188.4 1830L1196.8 1830L1205.2 1830L1213.6 1830L1222 1830L1230.4 1830L1238.8 1830L1247.2 1830L1255.6 1830L1264 1830L1272.4 1830L1280.8 1830L1289.2 1830L1291.3 1830L1293.4 1827L1295.5 1790L1299.7 1647.2L1301.8 1591.2L1303.8 1571.7L1306 1595.2L1308.1 1653.9L1310.2 1728.7L1312.3 1795.3L1314.4 1830L1322.8 1830L1331.2 1830L1339.6 1830L1348 1830L1356.4 1830L1362.7 1830L1364.8 1820.2L1366.9 1785L1369 1741.1L1371.1 1702.6L1373.9 1680.7L1375.3 1686.4L1377.4 1713.9L1381.6 1798.4L1383.7 1826.3L1385.8 1830L1394.2 1830L1402.6 1830L1406.8 1830L1408.9 1828.7L1411 1827.6L1413.1 1829.7L1415.2 1812.7L1417.3 1773L1419.4 1727.7L1421.5 1691.5L1423.8 1676L1425.7 1686.7L1427.8 1719.7L1432 1806.2L1434.1 1830L1436.2 1830L1438.3 1813.3L1440.4 1770.4L1442.5 1719.6L1444.6 1677.5L1447.1 1657.2L1448.8 1666.8L1450.9 1701.7L1455.1 1798.9L1457.2 1829.5L1459.3 1826.5L1461.4 1795.2L1465.6 1707.8L1467.7 1680.3L1469 1675.2L1471.9 1699.4L1474 1739.9L1476.1 1785.3L1478.2 1820.9L1480.3 1830L1482.4 1822.1L1484.5 1789.2L1486.6 1747.4L1488.7 1710.1L1491.6 1687.8L1492.9 1692.5L1495 1717.9L1499.2 1798.3L1501.3 1827.3L1503.4 1830L1511.8 1830L1520.2 1830L1524.4 1830L1526.5 1827.3L1528.6 1799.1L1532.8 1720.1L1534.9 1695.2L1536.2 1690.6L1539.1 1712.5L1541.2 1749L1543.3 1790.1L1545.4 1822.3L1547.5 1830L1555.9 1830L1564.3 1830L1572.7 1830L1581.1 1830L1583.2 1830L1585.3 1829.8L1587.4 1830L1595.8 1830L1604.2 1830L1612.6 1830L1621 1830L1629.4 1830L1637.8 1830L1639.9 1830L1642 1827.1L1644.1 1796.3L1648.3 1706.9L1650.4 1677.7L1651.8 1671.7L1654.6 1694.9L1656.7 1735.6L1658.8 1782.1L1660.9 1819.3L1663 1830L1665.1 1830L1667.2 1829.3L1669.3 1808.1L1671.4 1751.7L1673.5 1683.8L1675.6 1626.5L1678.2 1597.2L1679.8 1608.6L1681.9 1653.9L1686.1 1784L1688.2 1826.4L1690.3 1829.3L1692.4 1801.1L1696.6 1714.4L1698.7 1684.3L1700.3 1676.7L1702.9 1696.2L1705 1734.4L1707.1 1779.6L1709.2 1817.1L1711.3 1830L1713.4 1823.9L1715.5 1788.9L1719.7 1697L1721.8 1670.1L1722.9 1666.2L1723.9 1669.4L1726 1695.2L1730.2 1786.8L1732.3 1822.7L1734.4 1830L1742.8 1830L1751.2 1830L1759.6 1830L1768 1830L1776.4 1830L1780.6 1830L1782.7 1822.2L1784.8 1789.7L1786.9 1748.3L1789 1711.5L1791.9 1689.4L1793.2 1694L1795.3 1719.1L1799.5 1798.7L1801.6 1827.1L1803.7 1830L1807.9 1830L1810 1829.6L1812.1 1830L1820.5 1830L1822.6 1830L1824.7 1817.2L1826.8 1774.9L1828.9 1722.1L1831 1675.9L1833.8 1649.6L1835.2 1656.4L1837.3 1689.5L1841.5 1791L1843.6 1825.6L1845.7 1830L1847.8 1830L1849.9 1818.8L1852 1780.2L1854.1 1732L1856.2 1689.9L1859 1665.9L1860.4 1672.1L1862.5 1702.3L1866.7 1794.9L1868.8 1826.8L1870.9 1830L1879.3 1830L1887.7 1830L1896.1 1830L1904.5 1830L1912.9 1830L1915 1830L1917.1 1819.6L1919.2 1780.6L1921.3 1730.9L1923.4 1686.7L1926.3 1660.2L1927.6 1665.8L1929.7 1695.9L1933.9 1791.4L1936 1825.7L1938.1 1830L1946.5 1830L1954.9 1830L1963.3 1830L1971.7 1830L1980.1 1830L1982.2 1830L1984.3 1824.5L1986.4 1785.8L1990.6 1677.9L1992.7 1643.9L1994 1637.6L1996.9 1667.5L1999 1717.5L2001.1 1773.6L2003.2 1817.6L2005.3 1830L2013.7 1830L2022.1 1830L2024.2 1827.5L2026.3 1826.3L2028.4 1827.5L2030.5 1829.7L2032.6 1830L2034.7 1825.6L2036.8 1795.4L2041 1708.5L2043.1 1681.1L2044.4 1676L2047.3 1700.1L2049.4 1740.3L2051.5 1785.6L2053.6 1821L2055.7 1830L2057.8 1824.4L2059.9 1788.9L2064.1 1687.8L2066.2 1656L2067.5 1650.1L2070.4 1678.1L2072.5 1724.9L2074.6 1777.5L2076.7 1818.7L2078.8 1830L2087.2 1830L2095.6 1830L2104 1830L2112.4 1830L2120.8 1830L2122.9 1808.3L2125 1761.1L2127.1 1707L2129.2 1663.8L2131.5 1645.4L2133.4 1658.1L2135.5 1697.4L2139.7 1800.6L2141.8 1830L2150.2 1830L2156.5 1830L2158.6 1828.7L2160.7 1825.5L2164.9 1827.6L2167 1804.2L2171.2 1706.5L2173.3 1668.2L2175.3 1654.8L2177.5 1670.9L2179.6 1711.1L2181.7 1762.3L2183.8 1807.9L2185.9 1830L2190.1 1830L2192.2 1812.6L2194.3 1770.7L2196.4 1721.9L2198.5 1682.2L2200.9 1664.2L2202.7 1674.5L2204.8 1709L2209 1802.2L2211.1 1830L2219.5 1830L2227.9 1830L2236.3 1830L2244.7 1830L2253.1 1830L2259.4 1830L2261.5 1821.7L2263.6 1782.8L2267.8 1683.8L2269.9 1655.8L2270.9 1652.4L2272 1656.6L2274.1 1685.7L2278.3 1785.1L2280.4 1823L2282.5 1830L2290.9 1830L2299.3 1830L2307.7 1830L2309.8 1830L2314 1827.4L2316.1 1828.4L2318.2 1830L2326.6 1830L2328.7 1830L2330.8 1823.6L2332.9 1788.1L2337.1 1694.8L2339.2 1667.4L2340.3 1663.5L2341.3 1666.7L2343.4 1693L2347.6 1786L2349.7 1822.5L2351.8 1828.8L2353.9 1830L2356 1830L2358.1 1814.5L2360.2 1768.9L2362.3 1712.9L2364.4 1664.8L2367.1 1638.8L2368.6 1647.1L2370.7 1683.3L2374.9 1790.7L2377 1826.8L2379.1 1830L2381.2 1806.3L2385.4 1714.9L2387.5 1679.1L2389.5 1666.6L2391.7 1681.6L2393.8 1719.2L2395.9 1767.1L2398 1809.7L2400.1 1830L2402.2 1824.4L2404.3 1793.5L2408.5 1714.6L2410.6 1692.3L2411.6 1689.6L2412.7 1692.9L2414.8 1716.1L2419 1795.3L2421.1 1825.4L2423.2 1830L2431.6 1830L2440 1830L2448.4 1830L2456.8 1830L2465.2 1830L2469.4 1830L2471.5 1825.7L2473.6 1796.4L2477.8 1719.4L2479.9 1696.8L2481 1693.6L2482 1696.3L2484.1 1717.9L2488.3 1794.6L2490.4 1824.6L2492.5 1830L2500.9 1830L2509.3 1830L2511.4 1830L2513.5 1826.7L2515.6 1793.6L2519.8 1693.3L2521.9 1659.4L2523.4 1651.7L2526.1 1675.9L2528.2 1720.9L2530.3 1773.2L2532.4 1815.9L2534.5 1830L2536.6 1830L2538.7 1824.4L2540.8 1788.7L2545 1691.9L2547.1 1662.4L2548.3 1657.6L2551.3 1686.3L2553.4 1731.8L2555.5 1782.1L2557.6 1820.7L2559.7 1830L2568.1 1830L2576.5 1830L2584.9 1830L2593.3 1830L2601.7 1830L2603.8 1830L2605.9 1820.6L2608 1781.6L2610.1 1730.9L2612.2 1684.9L2614.3 1658.7L2615.2 1656L2616.4 1660.9L2618.5 1690.6L2622.7 1788.2L2624.8 1824.4L2626.9 1830L2631.1 1830L2633.2 1805.5L2635.3 1753.4L2637.4 1693.8L2639.5 1646.1L2641.8 1625.8L2643.7 1639.8L2645.8 1683.2L2650 1797.1L2652.1 1830L2654.2 1830L2656.3 1804.6L2660.5 1718.2L2662.6 1686.3L2664.4 1676.7L2666.8 1693.4L2668.9 1730.2L2671 1775.4L2673.1 1814.3L2675.2 1830L2677.3 1822.7L2679.4 1791.4L2681.5 1751.5L2683.6 1716L2686.5 1694.8L2687.8 1699.3L2689.9 1723.4L2694.1 1800.1L2696.2 1826.5L2698.3 1830L2700.4 1816.5L2702.5 1781.8L2704.6 1741.4L2706.7 1708.5L2709.1 1693.6L2710.9 1702.1L2713 1730.7L2717.2 1807.9L2719.3 1830L2727.7 1830L2736.1 1830L2744.5 1830L2746.6 1830L2748.7 1811.4L2750.8 1773.6L2752.9 1731.9L2755 1699.8L2757.1 1687.8L2759.2 1699.8L2761.3 1731.9L2763.4 1773.6L2765.5 1811.4L2767.6 1830L2769.7 1828.9L2771.8 1801L2776 1713.9L2778.1 1683.6L2779.7 1676L2782.3 1695.6L2784.4 1733.9L2786.5 1779.4L2788.6 1817.0" stroke="#0735f7"/>
<path d="M1108.6 1816.3L1110.7 1747.7L1114.9 1556.6L1117 1520.2L1118.3 1520.2L1121.2 1538.2L1123.3 1626.7L1125.4 1726.1L1127.5 1804L1129.6 1830L1138 1830L1146.4 1830L1154.8 1830L1163.2 1830L1165.3 1829.9L1167.4 1829.5L1169.5 1830L1177.9 1830L1186.3 1830L1194.7 1830L1198.9 1830L1201 1822.5L1203.1 1800.1L1205.2 1774.6L1207.3 1754.1L1209.6 1745.4L1211.5 1751.4L1213.6 1770L1217.8 1818.8L1219.9 1830L1228.3 1830L1236.7 1830L1245.1 1830L1247.2 1820.7L1249.3 1792.3L1251.4 1758.6L1253.5 1730.7L1256 1717.2L1257.7 1723.6L1259.8 1746.7L1264 1811.1L1266.1 1829.8L1268.2 1830L1270.3 1794.4L1272.4 1718.7L1274.5 1630.7L1276.6 1559L1279 1526.5L1280.8 1545.1L1282.9 1607.4L1287.1 1775.7L1289.2 1826.6L1291.3 1830L1295.5 1830L1297.6 1827.5L1299.7 1823.6L1301.8 1822.9L1303.9 1826L1306 1830L1314.4 1830L1322.8 1830L1331.2 1830L1339.6 1830L1341.7 1830L1343.8 1802.1L1345.9 1733.3L1348 1650.4L1350.1 1580.3L1352.7 1544.6L1354.3 1558.5L1356.4 1613.8L1360.6 1772.7L1362.7 1824.5L1364.8 1830L1373.2 1830L1381.6 1830L1390 1830L1392.1 1829.7L1394.2 1830L1402.6 1830L1411 1830L1419.4 1830L1427.8 1830L1436.2 1830L1444.6 1830L1446.7 1830L1448.8 1829.7L1450.9 1830L1459.3 1830L1467.7 1830L1476.1 1830L1484.5 1830L1492.9 1830L1501.3 1830L1503.4 1830L1505.5 1824.2L1507.6 1790.4L1511.8 1701.7L1513.9 1675.7L1515 1672L1516 1675.1L1518.1 1700L1522.3 1788.4L1524.4 1823.1L1526.5 1830L1534.9 1830L1543.3 1830L1547.5 1830L1549.6 1828.8L1551.7 1807.3L1555.9 1719.1L1558 1684.5L1560 1672.4L1562.2 1686.9L1564.3 1723.2L1566.4 1769.4L1568.5 1810.6L1570.6 1830L1579 1830L1587.4 1830L1593.7 1830L1595.8 1823.3L1597.9 1771.9L1602.1 1619.2L1604.2 1567.7L1605.7 1555.9L1608.4 1592.8L1610.5 1661.3L1612.6 1740.9L1614.7 1805.8L1616.8 1830L1618.9 1821.5L1621 1782.3L1625.2 1682.4L1627.3 1654.3L1628.3 1650.8L1629.4 1655L1631.5 1684.4L1635.7 1784.6L1637.8 1822.8L1639.9 1830L1648.3 1830L1656.7 1830L1665.1 1830L1673.5 1830L1681.9 1830L1690.3 1830L1698.7 1830L1707.1 1830L1715.5 1830L1723.9 1830L1726 1830L1728.1 1829L1730.2 1829.6L1732.3 1830L1740.7 1830L1749.1 1830L1757.5 1830L1759.6 1811.8L1761.7 1739.2L1765.9 1548.9L1768 1520.2L1770.1 1520.2L1772.2 1545.3L1776.4 1734.9L1778.5 1809.3L1780.6 1830L1789 1830L1797.4 1830L1805.8 1830L1814.2 1830L1822.6 1830L1831 1830L1839.4 1830L1843.6 1830L1845.7 1828.9L1847.8 1828.5L1849.9 1830L1858.3 1830L1866.7 1830L1875.1 1830L1877.2 1830L1879.3 1828.3L1881.4 1826.1L1883.5 1827.5L1885.6 1830L1889.8 1830L1891.9 1829.5L1894 1812.8L1898.2 1768.5L1900.3 1755.6L1901.4 1753.7L1902.4 1755.2L1904.5 1767.7L1908.7 1811.8L1910.8 1828.2L1912.9 1830L1921.3 1830L1929.7 1830L1938.1 1830L1946.5 1830L1954.9 1830L1957 1830L1959.1 1828L1961.2 1824.2L1963.3 1802.9L1965.4 1772.3L1967.5 1744.5L1969.6 1728.8L1970.5 1727.1L1971.7 1730L1973.8 1748L1978 1806.9L1980.1 1828.2L1982.2 1830L1990.6 1830L1999 1830L2007.4 1830L2011.6 1830L2015.8 1827.8L2017.9 1827.8L2020 1830L2028.4 1830L2036.8 1830L2045.2 1830L2053.6 1830L2062 1830L2070.4 1830L2078.8 1830L2087.2 1830L2095.6 1830L2104 1830L2112.4 1830L2120.8 1830L2129.2 1830L2137.6 1830L2143.9 1830L2146 1828.7L2148.1 1825.5L2150.2 1825.4L2152.3 1828.1L2154.4 1830L2162.8 1830L2169.1 1830L2171.2 1825.1L2173.3 1822.9L2175.4 1827.9L2177.5 1830L2185.9 1830L2194.3 1830L2202.7 1830L2211.1 1830L2213.2 1830L2215.3 1810.6L2217.4 1764.9L2219.5 1711.8L2221.6 1668.5L2224 1648.9L2225.8 1660.1L2227.9 1697.7L2232.1 1799.3L2234.2 1829.8L2236.3 1830L2238.4 1808.1L2240.5 1765.1L2242.6 1717.5L2244.7 1681L2246.8 1667.3L2248.9 1681L2251 1717.5L2253.1 1765.1L2255.2 1808.1L2257.3 1830L2265.7 1830L2274.1 1830L2282.5 1830L2284.6 1830L2286.7 1815.6L2288.8 1781L2290.9 1741.5L2293 1710L2295.3 1696.5L2297.2 1705.8L2299.3 1734.5L2303.5 1809.9L2305.6 1830L2307.7 1815.4L2309.8 1762.4L2311.9 1693.4L2314 1631L2316.1 1595.4L2317 1591.7L2318.2 1598.3L2320.3 1638.7L2324.5 1771.4L2326.6 1820.5L2328.7 1830L2337.1 1830L2345.5 1830L2353.9 1830L2362.3 1830L2370.7 1830L2379.1 1830L2387.5 1830L2395.9 1830L2404.3 1830L2412.7 1830L2421.1 1830L2429.5 1830L2433.7 1830L2435.8 1829.6L2437.9 1827.7L2440 1827.6L2442.1 1829.6L2444.2 1830L2446.3 1830L2448.4 1817.3L2450.5 1752L2454.7 1570.1L2456.8 1520.2L2458.1 1520.2L2461 1552.6L2463.1 1636.8L2465.2 1731.4L2467.3 1805.5L2469.4 1830L2477.8 1830L2486.2 1830L2494.6 1830L2503 1830L2511.4 1830L2519.8 1830L2528.2 1830L2536.6 1830L2545 1830L2553.4 1830L2561.8 1830L2570.2 1830L2578.6 1830L2580.7 1828L2582.8 1814.1L2587 1768L2589.1 1753.5L2590.4 1750.8L2593.3 1763.6L2595.4 1784.9L2597.5 1808.9L2599.6 1827.5L2601.7 1830L2610.1 1830L2618.5 1830L2626.9 1830L2635.3 1830L2643.7 1830L2652.1 1830L2660.5 1830L2668.9 1830L2677.3 1830L2685.7 1830L2694.1 1830L2702.5 1830L2710.9 1830L2719.3 1830L2727.7 1830L2736.1 1830L2744.5 1830L2752.9 1830L2761.3 1830L2769.7 1830L2778.1 1830L2786.5 1830L2788.6 1830.0" stroke="#000000"/>
<path d="M1108.6 1830L1117 1830L1119.1 1828.8L1121.2 1826.8L1123.3 1827.1L1125.4 1830L1133.8 1830L1142.2 1830L1150.6 1830L1159 1830L1167.4 1830L1175.8 1830L1184.2 1830L1192.6 1830L1198.9 1830L1201 1829.6L1203.1 1828.3L1205.2 1828.7L1207.3 1829.9L1215.7 1830L1224.1 1830L1232.5 1830L1236.7 1830L1238.8 1829.4L1240.9 1827.5L1243 1827.7L1245.1 1829.7L1247.2 1830L1255.6 1830L1264 1830L1272.4 1830L1280.8 1830L1289.2 1829.9L1297.6 1830L1306 1830L1314.4 1830L1318.6 1830L1320.7 1803.4L1322.8 1750.2L1324.9 1690.5L1327 1643.6L1329.2 1624.9L1331.2 1640.5L1333.3 1685.2L1337.5 1799.1L1339.6 1830L1348 1830L1356.4 1830L1364.8 1830L1373.2 1830L1381.6 1830L1390 1830L1392.1 1809.4L1394.2 1761.6L1396.3 1706L1398.4 1660.8L1400.8 1640.2L1402.6 1652L1404.7 1691.3L1408.9 1797.6L1411 1828.2L1413.1 1830L1421.5 1830L1429.9 1830L1438.3 1830L1446.7 1830L1455.1 1830L1459.3 1830L1461.4 1828.2L1463.5 1825.5L1465.6 1824.9L1467.7 1826.9L1469.8 1829.6L1471.9 1830L1480.3 1830L1488.7 1830L1497.1 1830L1505.5 1830L1513.9 1830L1522.3 1830L1530.7 1830L1539.1 1830L1547.5 1830L1555.9 1830L1564.3 1830L1570.6 1830L1572.7 1829.7L1574.8 1795.5L1579 1683.5L1581.1 1642L1582.9 1629.6L1585.3 1651.3L1587.4 1699L1589.5 1757.6L1591.6 1808L1593.7 1830L1602.1 1830L1610.5 1830L1618.9 1830L1627.3 1830L1635.7 1830L1637.8 1830L1639.9 1829.7L1642 1828.9L1644.1 1829.2L1646.2 1830L1654.6 1830L1663 1830L1671.4 1830L1679.8 1830L1684 1830L1686.1 1827.6L1688.2 1828L1690.3 1830L1698.7 1830L1705 1829.9L1707.1 1827.7L1709.2 1827.6L1711.3 1829.6L1713.4 1830L1721.8 1830L1730.2 1830L1736.5 1830L1738.6 1801.8L1742.8 1707.6L1744.9 1672.7L1746.7 1662.3L1749.1 1680.5L1751.2 1720.7L1753.3 1770L1755.4 1812.4L1757.5 1830L1765.9 1830L1774.3 1830L1782.7 1830L1791.1 1830L1799.5 1830L1807.9 1830L1816.3 1830L1824.7 1830L1833.1 1830L1841.5 1830L1849.9 1830L1858.3 1830L1866.7 1830L1875.1 1830L1883.5 1830L1891.9 1830L1900.3 1830L1908.7 1830L1917.1 1830L1925.5 1830L1933.9 1830L1942.3 1830L1950.7 1830L1959.1 1830L1961.2 1830L1963.3 1829.5L1965.4 1830L1973.8 1830L1982.2 1830L1990.6 1830L1999 1830L2007.4 1830L2009.5 1830L2011.6 1821.5L2013.7 1779.1L2017.9 1667.8L2020 1635.2L2021.1 1630.5L2022.1 1634.4L2024.2 1665.6L2028.4 1776.5L2030.5 1820L2032.6 1830L2041 1830L2049.4 1830L2057.8 1830L2066.2 1830L2074.6 1830L2078.8 1830L2080.9 1824.9L2083 1790.8L2087.2 1698.6L2089.3 1670.5L2090.5 1665.9L2093.5 1693.2L2095.6 1736.6L2097.7 1784.6L2099.8 1821.4L2101.9 1830L2110.3 1830L2118.7 1830L2125 1830L2127.1 1829.5L2129.2 1830L2137.6 1830L2143.9 1830L2146 1828.4L2148.1 1827.3L2152.3 1830L2156.5 1830L2158.6 1829.7L2160.7 1826.9L2162.8 1826.1L2167 1830L2175.4 1830L2183.8 1830L2192.2 1830L2200.6 1830L2209 1830L2217.4 1830L2225.8 1830L2234.2 1830L2242.6 1830L2251 1830L2259.4 1830L2267.8 1830L2276.2 1830L2284.6 1830L2293 1830L2301.4 1830L2309.8 1830L2318.2 1830L2326.6 1830L2335 1830L2343.4 1830L2351.8 1830L2360.2 1830L2368.6 1830L2377 1830L2385.4 1830L2387.5 1830L2389.6 1827.9L2391.7 1827.5L2393.8 1829.5L2395.9 1830L2404.3 1830L2412.7 1830L2414.8 1830L2416.9 1828.7L2419 1830L2425.3 1830L2427.4 1818.3L2429.5 1778.5L2431.6 1728.9L2433.7 1685.4L2436.5 1660.7L2437.9 1667.1L2440 1698.2L2444.2 1793.6L2446.3 1826.7L2448.4 1830L2456.8 1830L2465.2 1830L2473.6 1830L2482 1830L2490.4 1830L2498.8 1830L2507.2 1830L2515.6 1830L2524 1830L2532.4 1830L2540.8 1830L2549.2 1830L2555.5 1830L2557.6 1828L2559.7 1827L2561.8 1830L2570.2 1830L2574.4 1829.8L2582.8 1830L2589.1 1830L2591.2 1828.9L2593.3 1827.5L2595.4 1829.2L2597.5 1830L2605.9 1830L2614.3 1830L2622.7 1830L2631.1 1830L2639.5 1830L2647.9 1830L2656.3 1830L2664.7 1830L2673.1 1830L2681.5 1830L2685.7 1829.8L2694.1 1830L2702.5 1830L2710.9 1830L2719.3 1830L2721.4 1830L2723.5 1811.2L2725.6 1766.7L2727.7 1714.9L2729.8 1672.7L2732.2 1653.6L2734 1664.5L2736.1 1701.2L2740.3 1800.2L2742.4 1830L2750.8 1830L2759.2 1830L2767.6 1830L2776 1830L2784.4 1830L2788.6 1830.0" stroke="#ea3323"/>
</g>
<text x="1115.7" y="1502.6" fill="#000000">G</text>
<text x="1115.7" y="1521.2" fill="#000000">G</text>
<text x="1138.5" y="1502.6" fill="#0735f7">C</text>
<text x="1138.5" y="1521.2" fill="#0735f7">C</text>
<text x="1162.5" y="1502.6" fill="#0735f7">C</text>
<text x="1162.5" y="1521.2" fill="#0735f7">C</text>
<text x="1185.6" y="1502.6" fill="#6df043">A</text>
<text x="1185.6" y="1521.2" fill="#6df043">A</text>
<text x="1207.3" y="1502.6" fill="#000000">G</text>
<text x="1207.3" y="1521.2" fill="#000000">G</text>
<text x="1232.4" y="1502.6" fill="#6df043">A</text>
<text x="1232.4" y="1521.2" fill="#6df043">A</text>
<text x="1252.0" y="1502.6" fill="#000000">G</text>
<text x="1252.0" y="1521.2" fill="#000000">G</text>
<text x="1277.2" y="1502.6" fill="#000000">G</text>
<text x="1277.2" y="1521.2" fill="#000000">G</text>
<text x="1303.5" y="1502.6" fill="#0735f7">C</text>
<text x="1303.5" y="1521.2" fill="#0735f7">C</text>
<text x="1328.0" y="1502.6" fill="#ea3323">T</text>
<text x="1328.0" y="1521.2" fill="#ea3323">T</text>
<text x="1349.0" y="1502.6" fill="#000000">G</text>
<text x="1349.0" y="1521.2" fill="#000000">G</text>
<text x="1374.4" y="1502.6" fill="#0735f7">C</text>
<text x="1374.4" y="1521.2" fill="#0735f7">C</text>
<text x="1390.9" y="1502.6" fill="#ea3323">T</text>
<text x="1390.9" y="1521.2" fill="#ea3323">T</text>
<text x="1416.5" y="1502.6" fill="#0735f7">C</text>
<text x="1416.5" y="1521.2" fill="#0735f7">C</text>
<text x="1444.8" y="1502.6" fill="#0735f7">C</text>
<text x="1444.8" y="1521.2" fill="#0735f7">C</text>
<text x="1464.3" y="1502.6" fill="#0735f7">C</text>
<text x="1464.3" y="1521.2" fill="#0735f7">C</text>
<text x="1488.3" y="1502.6" fill="#0735f7">C</text>
<text x="1488.3" y="1521.2" fill="#0735f7">C</text>
<text x="1508.1" y="1502.6" fill="#000000">G</text>
<text x="1508.1" y="1521.2" fill="#000000">G</text>
<text x="1529.8" y="1502.6" fill="#0735f7">C</text>
<text x="1529.8" y="1521.2" fill="#0735f7">C</text>
<text x="1557.4" y="1502.6" fill="#000000">G</text>
<text x="1557.4" y="1521.2" fill="#000000">G</text>
<text x="1580.0" y="1502.6" fill="#ea3323">T</text>
<text x="1580.0" y="1521.2" fill="#ea3323">T</text>
<text x="1599.6" y="1502.6" fill="#000000">G</text>
<text x="1599.6" y="1521.2" fill="#000000">G</text>
<text x="1624.3" y="1502.6" fill="#000000">G</text>
<text x="1624.3" y="1521.2" fill="#000000">G</text>
<text x="1646.9" y="1502.6" fill="#0735f7">C</text>
<text x="1646.9" y="1521.2" fill="#0735f7">C</text>
<text x="1674.0" y="1502.6" fill="#0735f7">C</text>
<text x="1674.0" y="1521.2" fill="#0735f7">C</text>
<text x="1695.9" y="1502.6" fill="#0735f7">C</text>
<text x="1695.9" y="1521.2" fill="#0735f7">C</text>
<text x="1723.9" y="1502.6" fill="#0735f7">C</text>
<text x="1723.9" y="1521.2" fill="#0735f7">C</text>
<text x="1745.0" y="1502.6" fill="#ea3323">T</text>
<text x="1745.0" y="1521.2" fill="#ea3323">T</text>
<text x="1766.2" y="1502.6" fill="#000000">G</text>
<text x="1766.2" y="1521.2" fill="#000000">G</text>
<text x="1787.4" y="1502.6" fill="#0735f7">C</text>
<text x="1787.4" y="1521.2" fill="#0735f7">C</text>
<text x="1808.4" y="1502.6" fill="#6df043">A</text>
<text x="1808.4" y="1521.2" fill="#6df043">A</text>
<text x="1828.6" y="1502.6" fill="#0735f7">C</text>
<text x="1828.6" y="1521.2" fill="#0735f7">C</text>
<text x="1853.3" y="1502.6" fill="#0735f7">C</text>
<text x="1853.3" y="1521.2" fill="#0735f7">C</text>
<text x="1877.4" y="1502.6" fill="#6df043">A</text>
<text x="1877.4" y="1521.2" fill="#6df043">A</text>
<text x="1901.1" y="1502.6" fill="#000000">G</text>
<text x="1901.1" y="1521.2" fill="#000000">G</text>
<text x="1919.0" y="1502.6" fill="#0735f7">C</text>
<text x="1919.0" y="1521.2" fill="#0735f7">C</text>
<text x="1946.8" y="1502.6" fill="#6df043">A</text>
<text x="1946.8" y="1521.2" fill="#6df043">A</text>
<text x="1969.7" y="1502.6" fill="#000000">G</text>
<text x="1969.7" y="1521.2" fill="#000000">G</text>
<text x="1990.2" y="1502.6" fill="#0735f7">C</text>
<text x="1990.2" y="1521.2" fill="#0735f7">C</text>
<text x="2013.8" y="1502.6" fill="#ea3323">T</text>
<text x="2013.8" y="1521.2" fill="#ea3323">T</text>
<text x="2039.9" y="1502.6" fill="#0735f7">C</text>
<text x="2039.9" y="1521.2" fill="#0735f7">C</text>
<text x="2065.8" y="1502.6" fill="#0735f7">C</text>
<text x="2065.8" y="1521.2" fill="#0735f7">C</text>
<text x="2087.9" y="1502.6" fill="#ea3323">T</text>
<text x="2087.9" y="1521.2" fill="#ea3323">T</text>
<text x="2108.2" y="1502.6" fill="#6df043">A</text>
<text x="2108.2" y="1521.2" fill="#6df043">A</text>
<text x="2127.0" y="1502.6" fill="#0735f7">C</text>
<text x="2127.0" y="1521.2" fill="#0735f7">C</text>
<text x="2151.7" y="1502.6" fill="#6df043">A</text>
<text x="2151.7" y="1521.2" fill="#6df043">A</text>
<text x="2173.2" y="1502.6" fill="#0735f7">C</text>
<text x="2173.2" y="1521.2" fill="#0735f7">C</text>
<text x="2197.9" y="1502.6" fill="#0735f7">C</text>
<text x="2197.9" y="1521.2" fill="#0735f7">C</text>
<text x="2217.7" y="1502.6" fill="#000000">G</text>
<text x="2217.7" y="1521.2" fill="#000000">G</text>
<text x="2244.7" y="1502.6" fill="#000000">G</text>
<text x="2244.7" y="1521.2" fill="#000000">G</text>
<text x="2265.4" y="1502.6" fill="#0735f7">C</text>
<text x="2265.4" y="1521.2" fill="#0735f7">C</text>
<text x="2289.0" y="1502.6" fill="#000000">G</text>
<text x="2289.0" y="1521.2" fill="#000000">G</text>
<text x="2315.1" y="1502.6" fill="#000000">G</text>
<text x="2315.1" y="1521.2" fill="#000000">G</text>
<text x="2337.7" y="1502.6" fill="#0735f7">C</text>
<text x="2337.7" y="1521.2" fill="#0735f7">C</text>
<text x="2361.5" y="1502.6" fill="#0735f7">C</text>
<text x="2361.5" y="1521.2" fill="#0735f7">C</text>
<text x="2382.7" y="1502.6" fill="#0735f7">C</text>
<text x="2382.7" y="1521.2" fill="#0735f7">C</text>
<text x="2410.9" y="1502.6" fill="#0735f7">C</text>
<text x="2410.9" y="1521.2" fill="#0735f7">C</text>
<text x="2432.2" y="1502.6" fill="#ea3323">T</text>
<text x="2432.2" y="1521.2" fill="#ea3323">T</text>
<text x="2455.8" y="1502.6" fill="#000000">G</text>
<text x="2455.8" y="1521.2" fill="#000000">G</text>
<text x="2479.1" y="1502.6" fill="#0735f7">C</text>
<text x="2479.1" y="1521.2" fill="#0735f7">C</text>
<text x="2500.8" y="1502.6" fill="#6df043">A</text>
<text x="2500.8" y="1521.2" fill="#6df043">A</text>
<text x="2520.3" y="1502.6" fill="#0735f7">C</text>
<text x="2520.3" y="1521.2" fill="#0735f7">C</text>
<text x="2544.1" y="1502.6" fill="#0735f7">C</text>
<text x="2544.1" y="1521.2" fill="#0735f7">C</text>
<text x="2567.4" y="1502.6" fill="#6df043">A</text>
<text x="2567.4" y="1521.2" fill="#6df043">A</text>
<text x="2588.3" y="1502.6" fill="#000000">G</text>
<text x="2588.3" y="1521.2" fill="#000000">G</text>
<text x="2609.7" y="1502.6" fill="#0735f7">C</text>
<text x="2609.7" y="1521.2" fill="#0735f7">C</text>
<text x="2635.2" y="1502.6" fill="#0735f7">C</text>
<text x="2635.2" y="1521.2" fill="#0735f7">C</text>
<text x="2658.2" y="1502.6" fill="#0735f7">C</text>
<text x="2658.2" y="1521.2" fill="#0735f7">C</text>
<text x="2680.1" y="1502.6" fill="#0735f7">C</text>
<text x="2680.1" y="1521.2" fill="#0735f7">C</text>
<text x="2709.6" y="1502.6" fill="#0735f7">C</text>
<text x="2709.6" y="1521.2" fill="#0735f7">C</text>
<text x="2729.8" y="1502.6" fill="#ea3323">T</text>
<text x="2729.8" y="1521.2" fill="#ea3323">T</text>
<text x="2749.8" y="1502.6" fill="#0735f7">C</text>
<text x="2749.8" y="1521.2" fill="#0735f7">C</text>
<text x="2778.1" y="1502.6" fill="#0735f7">C</text>
<text x="2778.1" y="1521.2" fill="#0735f7">C</text>
<text class="rl" transform="translate(1038.3 486.6) rotate(-90)">1</text>
<text class="rl" transform="translate(1038.3 886.6) rotate(-90)">68</text>
<text class="rl" transform="translate(1038.3 1286.6) rotate(-90)">140</text>
<text class="rl" transform="translate(1038.3 1686.6) rotate(-90)">212</text>
</svg>
</div>
</div>
</body>
</html>
